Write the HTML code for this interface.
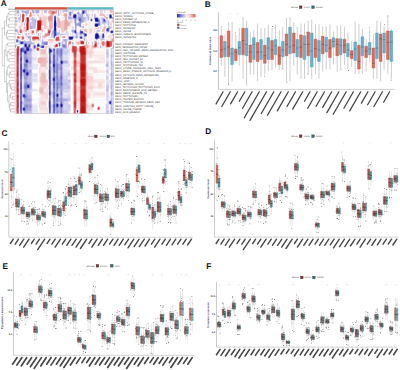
<!DOCTYPE html>
<html><head><meta charset="utf-8"><style>html,body{margin:0;padding:0;background:#fff;overflow:hidden}svg{display:block}</style></head>
<body><svg width="400" height="370" viewBox="0 0 400 370">
<rect width="400" height="370" fill="#fff"/><g opacity="0.99" text-rendering="geometricPrecision">
<g><rect x="15" y="10" width="98.4" height="103.5" fill="#fff"/>
<path fill="#dfdff2" d="M15 10h2v1h-2zM21 10h1v2h-1zM62 10h1v2h-1zM68 10h1v2h-1zM92 10h1v2h-1zM98 10h1v2h-1zM71 11h1v1h-1zM78 11h1v1h-1zM39 10h1v3h-1zM104 10h1v3h-1zM81 11h1v2h-1zM79 12h1v1h-1zM15 11h1v3h-1zM37 13h1v1h-1zM73 13h2v1h-2zM87 13h1v1h-1zM15 14h2v1h-2zM27 14h1v1h-1zM68 13h1v3h-1zM89 14h1v2h-1zM15 15h1v1h-1zM54 15h2v1h-2zM71 15h1v1h-1zM77 15h1v1h-1zM107 15h1v1h-1zM56 16h1v1h-1zM71 16h2v1h-2zM86 17h1v1h-1zM98 17h1v1h-1zM101 17h1v1h-1zM35 18h1v1h-1zM99 18h1v1h-1zM30 18h1v2h-1zM36 19h1v1h-1zM68 19h1v1h-1zM71 19h1v1h-1zM100 19h1v1h-1zM105 19h1v1h-1zM112 19h2v1h-2zM86 19h1v2h-1zM18 20h1v1h-1zM20 20h1v1h-1zM56 20h1v1h-1zM106 20h2v1h-2zM31 20h1v2h-1zM100 20h2v2h-2zM19 21h2v1h-2zM78 21h1v1h-1zM36 21h1v2h-1zM109 21h1v2h-1zM15 22h2v1h-2zM24 22h1v1h-1zM96 22h1v1h-1zM101 22h1v2h-1zM81 23h1v1h-1zM94 23h1v1h-1zM107 23h1v1h-1zM31 24h1v1h-1zM105 24h1v1h-1zM81 25h1v1h-1zM109 25h1v1h-1zM94 26h1v1h-1zM110 26h1v1h-1zM100 26h1v2h-1zM42 27h1v1h-1zM81 27h1v1h-1zM29 28h1v1h-1zM35 28h1v1h-1zM111 28h1v1h-1zM34 29h1v1h-1zM58 29h1v1h-1zM73 29h2v1h-2zM110 30h1v1h-1zM113 30h1v1h-1zM18 30h1v2h-1zM59 30h1v2h-1zM79 30h1v2h-1zM96 30h1v2h-1zM28 31h1v1h-1zM71 31h1v1h-1zM67 31h1v2h-1zM84 32h1v1h-1zM107 32h1v1h-1zM113 32h1v1h-1zM60 33h1v1h-1zM64 33h1v1h-1zM66 33h3v1h-3zM78 33h1v2h-1zM65 34h4v1h-4zM72 33h1v3h-1zM25 35h1v1h-1zM39 35h1v1h-1zM57 35h1v1h-1zM59 35h1v1h-1zM68 35h1v1h-1zM79 35h1v1h-1zM94 35h1v1h-1zM101 35h1v1h-1zM26 36h1v1h-1zM31 36h1v1h-1zM60 36h1v1h-1zM100 36h1v1h-1zM49 37h1v1h-1zM52 37h1v1h-1zM85 37h1v2h-1zM28 38h1v1h-1zM54 38h1v1h-1zM79 38h1v1h-1zM83 38h1v2h-1zM62 39h1v1h-1zM95 39h1v1h-1zM104 39h1v1h-1zM108 39h1v1h-1zM19 40h2v1h-2zM96 40h1v1h-1zM100 40h1v1h-1zM60 42h2v1h-2zM88 42h1v1h-1zM34 42h1v2h-1zM18 44h2v1h-2zM32 44h1v1h-1zM72 44h2v1h-2zM61 43h1v3h-1zM23 45h1v1h-1zM36 45h1v1h-1zM58 45h1v1h-1zM49 46h1v1h-1zM60 46h2v1h-2zM44 47h1v1h-1zM50 47h1v1h-1zM59 47h1v1h-1zM48 47h1v2h-1zM42 48h2v1h-2zM51 48h2v1h-2zM67 48h1v1h-1zM33 49h2v2h-2zM108 49h1v2h-1zM32 51h1v1h-1zM69 51h1v1h-1zM112 49h1v5h-1zM68 52h2v2h-2zM48 53h1v1h-1zM51 53h2v1h-2zM22 54h1v1h-1zM67 54h1v1h-1zM63 55h5v1h-5zM110 55h1v2h-1zM63 56h4v1h-4zM32 57h1v1h-1zM106 57h1v1h-1zM108 57h1v1h-1zM112 57h1v1h-1zM51 54h1v6h-1zM63 57h5v3h-5zM32 58h4v2h-4zM107 58h1v3h-1zM22 60h1v1h-1zM32 60h1v1h-1zM112 60h1v1h-1zM23 61h1v2h-1zM106 61h1v2h-1zM108 61h1v2h-1zM68 61h1v3h-1zM110 61h1v3h-1zM64 64h6v1h-6zM63 65h7v1h-7zM22 64h1v3h-1zM63 66h6v1h-6zM107 67h1v1h-1zM32 65h1v4h-1zM63 67h1v2h-1zM110 67h1v3h-1zM63 69h3v1h-3zM107 69h1v1h-1zM51 70h1v1h-1zM63 70h7v2h-7zM108 70h1v3h-1zM51 71h2v2h-2zM63 72h5v1h-5zM69 72h1v1h-1zM32 73h1v1h-1zM64 73h3v1h-3zM106 73h2v1h-2zM110 73h1v1h-1zM64 74h2v1h-2zM113 74h1v1h-1zM52 73h1v3h-1zM32 74h6v2h-6zM107 75h1v1h-1zM48 73h1v4h-1zM32 76h5v1h-5zM68 76h2v1h-2zM22 77h1v2h-1zM32 77h1v2h-1zM51 76h1v4h-1zM108 76h1v4h-1zM106 79h1v1h-1zM110 79h1v1h-1zM32 79h5v3h-5zM70 80h1v2h-1zM107 80h1v2h-1zM51 81h1v1h-1zM107 82h2v1h-2zM23 79h1v5h-1zM106 83h1v2h-1zM108 83h1v2h-1zM51 85h1v1h-1zM110 82h1v7h-1zM22 85h1v4h-1zM48 86h1v3h-1zM51 89h2v2h-2zM32 90h1v1h-1zM22 89h2v3h-2zM63 92h7v1h-7zM110 92h1v3h-1zM63 93h1v2h-1zM67 93h3v2h-3zM51 95h1v2h-1zM63 95h5v2h-5zM112 96h1v2h-1zM64 97h3v1h-3zM108 91h1v8h-1zM106 92h1v7h-1zM110 98h1v2h-1zM106 99h2v1h-2zM22 98h1v3h-1zM70 98h1v3h-1zM106 100h4v1h-4zM48 101h1v1h-1zM68 101h2v1h-2zM107 101h1v3h-1zM51 104h1v1h-1zM70 105h1v2h-1zM48 107h1v1h-1zM108 105h1v5h-1zM110 107h1v4h-1zM51 108h1v3h-1zM22 111h1v1h-1zM32 105h1v8.5h-1zM68 111h2v2.5h-2zM23 112h1v1.5h-1z"/>
<path fill="#bebee6" d="M17 10h2v1h-2zM27 10h1v1h-1zM64 10h1v1h-1zM44 10h2v2h-2zM66 11h1v1h-1zM22 12h2v1h-2zM44 12h1v1h-1zM71 12h1v1h-1zM77 12h1v1h-1zM25 13h1v1h-1zM27 13h1v1h-1zM26 14h1v1h-1zM76 14h1v1h-1zM78 14h3v1h-3zM86 14h1v1h-1zM111 14h1v1h-1zM58 15h1v1h-1zM78 15h2v1h-2zM86 15h2v1h-2zM94 14h1v3h-1zM20 15h1v2h-1zM69 16h2v1h-2zM78 16h1v1h-1zM88 16h1v1h-1zM32 17h1v1h-1zM71 17h2v1h-2zM83 17h2v1h-2zM113 17h1v1h-1zM18 18h2v1h-2zM31 18h1v1h-1zM91 18h1v1h-1zM76 19h1v1h-1zM84 19h1v1h-1zM88 19h1v1h-1zM99 19h1v1h-1zM92 19h1v2h-1zM78 20h1v1h-1zM74 20h1v2h-1zM102 18h1v5h-1zM32 19h3v4h-3zM105 22h1v1h-1zM104 23h1v1h-1zM24 23h1v2h-1zM33 23h3v2h-3zM108 23h1v2h-1zM94 24h1v2h-1zM33 25h2v1h-2zM76 26h1v1h-1zM79 26h1v1h-1zM83 26h1v1h-1zM32 26h3v2h-3zM82 27h2v1h-2zM32 28h1v1h-1zM15 29h2v1h-2zM53 29h1v1h-1zM98 30h1v1h-1zM17 30h1v2h-1zM76 31h1v1h-1zM106 31h1v1h-1zM113 31h1v1h-1zM18 33h1v1h-1zM57 33h1v1h-1zM59 33h1v1h-1zM86 33h1v1h-1zM102 33h1v1h-1zM52 32h1v3h-1zM26 33h1v2h-1zM38 33h1v2h-1zM18 34h3v1h-3zM57 34h6v1h-6zM76 34h1v1h-1zM30 36h1v1h-1zM40 36h1v1h-1zM68 36h1v1h-1zM104 36h1v1h-1zM77 36h1v2h-1zM53 37h1v1h-1zM79 37h1v1h-1zM29 38h1v1h-1zM82 38h1v1h-1zM84 38h1v1h-1zM103 38h1v2h-1zM66 39h1v1h-1zM42 40h1v1h-1zM63 40h1v1h-1zM25 41h1v1h-1zM28 41h2v1h-2zM45 41h2v1h-2zM17 42h1v1h-1zM19 42h1v1h-1zM72 42h1v1h-1zM62 42h1v2h-1zM32 43h1v1h-1zM66 41h1v4h-1zM21 44h1v1h-1zM27 44h1v1h-1zM42 44h1v1h-1zM47 44h1v1h-1zM60 43h1v3h-1zM40 45h1v1h-1zM113 45h1v1h-1zM59 46h1v1h-1zM15 47h1v1h-1zM30 47h1v1h-1zM40 47h1v1h-1zM62 47h1v1h-1zM100 47h1v1h-1zM55 49h1v2h-1zM52 50h1v2h-1zM31 51h1v1h-1zM107 51h1v4h-1zM30 54h1v1h-1zM111 54h1v1h-1zM28 55h3v1h-3zM29 56h2v1h-2zM58 57h2v1h-2zM111 57h1v1h-1zM55 54h1v6h-1zM62 55h1v5h-1zM111 60h1v2h-1zM52 61h1v2h-1zM67 61h1v2h-1zM31 57h1v7h-1zM58 63h2v1h-2zM63 63h1v1h-1zM106 64h1v2h-1zM28 64h3v3h-3zM107 66h1v1h-1zM28 67h1v1h-1zM23 68h1v1h-1zM111 66h1v4h-1zM28 69h3v1h-3zM59 70h1v1h-1zM62 65h1v8h-1zM58 71h2v2h-2zM22 72h1v1h-1zM111 72h1v1h-1zM55 73h1v1h-1zM23 73h1v2h-1zM58 73h1v2h-1zM31 70h1v6h-1zM112 73h1v3h-1zM55 75h1v1h-1zM58 75h2v1h-2zM29 76h2v1h-2zM52 78h1v1h-1zM28 77h3v3h-3zM27 80h4v1h-4zM52 80h1v1h-1zM68 80h2v2h-2zM28 81h3v1h-3zM111 80h1v5h-1zM63 83h4v2h-4zM63 85h1v1h-1zM68 86h1v1h-1zM31 83h1v5h-1zM68 87h2v1h-2zM28 89h3v1h-3zM111 89h1v1h-1zM107 86h1v5h-1zM58 89h1v2h-1zM55 86h1v6h-1zM27 90h1v2h-1zM111 91h1v1h-1zM27 92h3v2h-3zM52 93h1v1h-1zM112 92h1v3h-1zM28 94h3v1h-3zM62 91h1v5h-1zM111 95h1v1h-1zM55 96h1v2h-1zM62 97h1v1h-1zM31 98h1v1h-1zM63 98h5v1h-5zM111 98h1v2h-1zM67 99h2v1h-2zM31 100h1v1h-1zM67 100h1v1h-1zM59 101h1v1h-1zM22 102h1v1h-1zM31 104h1v1h-1zM22 107h1v1h-1zM31 108h1v3h-1zM27 111h4v1h-4zM55 111h1v2.5h-1zM63 111h1v2.5h-1zM107 111h1v2.5h-1zM27 112h2v1.5h-2z"/>
<path fill="#b2b2e2" d="M22 10h1v1h-1zM65 10h2v1h-2zM22 11h5v1h-5zM32 11h1v1h-1zM28 10h1v3h-1zM38 10h1v3h-1zM85 10h1v3h-1zM24 12h1v1h-1zM26 13h1v1h-1zM84 13h1v1h-1zM58 10h1v5h-1zM81 14h1v1h-1zM109 14h1v1h-1zM69 15h1v1h-1zM80 15h2v1h-2zM79 16h1v1h-1zM82 16h1v2h-1zM70 17h1v1h-1zM94 17h1v1h-1zM97 17h1v1h-1zM68 17h1v2h-1zM88 17h1v2h-1zM32 18h1v1h-1zM71 18h1v1h-1zM73 18h1v1h-1zM76 18h1v1h-1zM82 18h3v1h-3zM98 18h1v1h-1zM103 18h1v1h-1zM112 18h2v1h-2zM74 19h1v1h-1zM82 19h2v1h-2zM94 19h1v1h-1zM90 19h1v2h-1zM35 20h1v1h-1zM83 20h1v2h-1zM15 21h2v1h-2zM35 22h1v1h-1zM81 22h1v1h-1zM103 22h2v1h-2zM77 23h1v1h-1zM30 23h1v3h-1zM77 25h2v1h-2zM99 25h1v1h-1zM31 26h1v1h-1zM108 27h3v1h-3zM30 28h2v1h-2zM109 28h1v1h-1zM56 29h1v3h-1zM73 30h1v2h-1zM15 31h2v1h-2zM58 33h1v1h-1zM81 34h1v1h-1zM83 34h1v1h-1zM76 35h1v1h-1zM53 35h1v2h-1zM28 36h2v1h-2zM29 37h2v1h-2zM73 37h1v1h-1zM82 37h1v1h-1zM68 38h1v1h-1zM102 38h1v2h-1zM64 39h2v1h-2zM72 39h1v1h-1zM66 40h1v1h-1zM30 38h1v4h-1zM18 40h1v2h-1zM24 41h1v1h-1zM42 41h1v1h-1zM24 42h8v1h-8zM59 42h1v1h-1zM27 43h2v1h-2zM30 43h2v1h-2zM38 43h1v1h-1zM58 43h1v1h-1zM72 43h1v1h-1zM65 41h1v4h-1zM39 44h1v1h-1zM43 44h1v1h-1zM15 45h1v1h-1zM27 45h1v1h-1zM35 45h1v1h-1zM100 46h1v1h-1zM66 45h1v3h-1zM33 46h1v2h-1zM22 47h1v1h-1zM113 47h1v1h-1zM54 48h1v1h-1zM57 48h3v1h-3zM62 48h1v1h-1zM22 52h2v1h-2zM28 52h3v1h-3zM27 53h4v1h-4zM27 54h3v1h-3zM62 54h1v1h-1zM27 55h1v1h-1zM56 55h1v2h-1zM111 55h1v2h-1zM27 56h2v1h-2zM58 56h2v1h-2zM28 57h3v2h-3zM29 59h2v2h-2zM55 60h1v3h-1zM64 61h3v2h-3zM28 63h3v1h-3zM62 64h1v1h-1zM111 62h1v4h-1zM107 64h1v2h-1zM27 68h1v1h-1zM22 69h1v1h-1zM59 69h1v1h-1zM58 70h1v1h-1zM55 72h1v1h-1zM30 73h1v1h-1zM62 73h1v3h-1zM29 74h2v2h-2zM28 76h1v1h-1zM55 76h1v1h-1zM58 76h2v2h-2zM59 78h1v1h-1zM111 76h1v4h-1zM27 78h1v2h-1zM52 79h1v1h-1zM24 80h1v2h-1zM27 81h1v1h-1zM28 82h3v1h-3zM55 81h1v5h-1zM111 85h1v2h-1zM30 88h1v1h-1zM59 88h1v1h-1zM111 88h1v1h-1zM27 89h1v1h-1zM62 86h1v5h-1zM24 92h1v1h-1zM26 93h1v1h-1zM58 93h1v1h-1zM27 94h1v1h-1zM55 92h1v4h-1zM22 94h1v3h-1zM28 95h3v3h-3zM60 96h1v2h-1zM58 97h1v1h-1zM59 98h1v1h-1zM31 99h1v1h-1zM63 99h4v2h-4zM111 100h1v1h-1zM24 101h1v1h-1zM58 101h1v1h-1zM24 102h7v1h-7zM55 98h1v6h-1zM24 103h1v1h-1zM27 103h4v1h-4zM58 103h1v1h-1zM59 104h1v1h-1zM110 104h1v1h-1zM31 105h1v1h-1zM31 107h1v1h-1zM59 107h1v1h-1zM22 108h1v1h-1zM111 105h1v6h-1zM58 108h2v3h-2zM27 110h4v1h-4zM55 110h1v1h-1zM26 111h1v1h-1zM62 108h1v5.5h-1zM59 111h1v2.5h-1zM24 112h3v1.5h-3z"/>
<path fill="#d4d4ef" d="M23 10h1v1h-1zM26 10h1v1h-1zM31 10h1v1h-1zM72 10h1v1h-1zM69 11h2v1h-2zM34 11h1v2h-1zM46 12h1v1h-1zM63 12h1v1h-1zM68 12h1v1h-1zM16 11h1v3h-1zM18 13h1v1h-1zM28 13h1v1h-1zM33 13h1v1h-1zM85 13h1v1h-1zM71 14h1v1h-1zM77 14h1v1h-1zM83 14h1v1h-1zM95 14h1v1h-1zM88 14h1v2h-1zM77 16h1v1h-1zM83 16h1v1h-1zM86 16h1v1h-1zM33 17h1v1h-1zM34 18h1v1h-1zM87 18h1v2h-1zM101 18h1v2h-1zM35 19h1v1h-1zM69 19h2v1h-2zM73 19h1v1h-1zM77 19h1v1h-1zM19 20h1v1h-1zM25 20h1v1h-1zM36 20h1v1h-1zM108 20h1v1h-1zM17 20h1v2h-1zM76 20h1v2h-1zM84 20h2v2h-2zM56 21h1v1h-1zM25 22h1v1h-1zM78 22h1v1h-1zM83 22h1v1h-1zM97 22h1v1h-1zM100 22h1v1h-1zM106 22h2v1h-2zM31 23h1v1h-1zM105 23h1v1h-1zM104 24h1v1h-1zM24 25h1v1h-1zM31 25h1v1h-1zM29 23h1v5h-1zM56 27h1v1h-1zM33 28h2v1h-2zM17 29h1v1h-1zM72 29h1v1h-1zM76 29h1v1h-1zM71 30h1v1h-1zM99 30h1v2h-1zM109 31h1v1h-1zM17 32h2v1h-2zM57 32h1v1h-1zM97 32h1v1h-1zM25 33h1v1h-1zM65 33h1v1h-1zM74 33h1v1h-1zM111 33h1v1h-1zM77 33h1v2h-1zM64 34h1v1h-1zM104 34h1v1h-1zM51 33h1v3h-1zM26 35h1v1h-1zM60 35h1v1h-1zM75 35h1v1h-1zM80 35h2v1h-2zM83 35h1v1h-1zM51 36h2v1h-2zM79 36h1v1h-1zM82 36h1v1h-1zM94 36h1v2h-1zM50 37h2v1h-2zM104 37h1v1h-1zM76 38h1v1h-1zM100 37h1v3h-1zM29 39h1v2h-1zM67 39h1v2h-1zM62 40h1v1h-1zM101 40h1v1h-1zM31 41h1v1h-1zM63 41h1v1h-1zM18 42h1v1h-1zM33 42h1v1h-1zM58 42h1v1h-1zM73 42h1v1h-1zM98 42h1v1h-1zM37 43h1v1h-1zM88 43h1v1h-1zM41 42h1v3h-1zM31 44h1v1h-1zM58 44h1v1h-1zM23 46h1v1h-1zM44 46h1v1h-1zM21 47h1v1h-1zM49 47h1v1h-1zM61 47h1v1h-1zM112 47h1v2h-1zM32 49h1v2h-1zM64 49h6v2h-6zM106 49h1v3h-1zM68 51h1v1h-1zM48 49h1v4h-1zM52 52h1v1h-1zM67 53h1v1h-1zM23 53h1v2h-1zM63 54h4v1h-4zM112 54h1v1h-1zM108 51h1v6h-1zM106 54h1v3h-1zM107 57h1v1h-1zM22 55h1v4h-1zM52 54h1v6h-1zM22 59h2v1h-2zM59 58h1v3h-1zM23 60h1v1h-1zM51 60h1v1h-1zM67 60h1v1h-1zM107 61h1v2h-1zM112 61h1v3h-1zM23 63h1v1h-1zM51 63h1v1h-1zM106 63h1v1h-1zM108 63h1v2h-1zM63 64h1v1h-1zM108 66h1v1h-1zM22 67h1v2h-1zM31 68h1v1h-1zM51 67h1v3h-1zM52 70h1v1h-1zM112 67h1v6h-1zM48 70h1v3h-1zM106 70h1v3h-1zM68 72h1v1h-1zM67 73h1v1h-1zM63 73h1v2h-1zM66 74h2v1h-2zM110 74h1v2h-1zM63 75h5v2h-5zM22 76h1v1h-1zM52 76h1v1h-1zM106 76h2v1h-2zM23 77h1v2h-1zM48 77h1v2h-1zM64 77h4v2h-4zM106 77h1v2h-1zM67 79h3v1h-3zM107 79h1v1h-1zM51 80h1v1h-1zM110 80h1v2h-1zM51 82h2v1h-2zM51 83h1v2h-1zM68 83h2v2h-2zM107 83h1v2h-1zM112 82h1v4h-1zM23 84h1v2h-1zM52 85h1v1h-1zM106 85h1v1h-1zM108 85h1v1h-1zM108 88h1v3h-1zM112 88h1v4h-1zM63 89h7v3h-7zM51 91h2v1h-2zM106 91h1v1h-1zM22 92h2v1h-2zM22 93h1v1h-1zM31 90h1v5h-1zM112 95h1v1h-1zM68 95h2v2h-2zM52 95h1v3h-1zM22 97h1v1h-1zM63 97h1v1h-1zM67 97h3v1h-3zM107 92h1v7h-1zM23 98h1v4h-1zM108 101h1v1h-1zM64 102h4v2h-4zM52 104h1v1h-1zM64 104h6v1h-6zM106 104h4v1h-4zM106 105h1v1h-1zM48 102h1v5h-1zM22 105h1v2h-1zM51 105h1v2h-1zM64 105h4v2h-4zM112 98h1v10h-1zM51 107h2v1h-2zM63 107h5v1h-5zM106 107h1v1h-1zM64 108h4v1h-4zM69 108h1v1h-1zM106 108h2v2h-2zM64 109h6v1h-6zM52 108h1v3h-1zM68 110h2v1h-2zM76 110h1v1h-1zM106 110h1v1h-1zM108 110h1v1h-1zM23 111h1v1h-1zM51 111h2v1h-2zM110 111h1v2.5h-1zM51 112h1v1.5h-1z"/>
<path fill="#f1f1f9" d="M24 10h1v1h-1zM47 10h1v1h-1zM78 10h1v1h-1zM19 10h1v2h-1zM93 10h1v2h-1zM79 11h1v1h-1zM43 10h1v3h-1zM59 10h1v3h-1zM87 10h1v3h-1zM91 10h1v3h-1zM97 10h1v3h-1zM105 10h1v3h-1zM67 12h1v1h-1zM20 13h1v1h-1zM32 13h1v1h-1zM34 13h2v1h-2zM38 13h3v1h-3zM75 13h2v1h-2zM94 13h2v1h-2zM98 13h1v1h-1zM90 13h1v3h-1zM57 14h1v2h-1zM25 15h1v1h-1zM96 15h1v1h-1zM26 16h1v1h-1zM58 16h1v1h-1zM85 16h1v1h-1zM97 16h1v1h-1zM108 16h1v1h-1zM112 16h1v1h-1zM31 17h1v1h-1zM34 17h3v1h-3zM89 17h1v1h-1zM100 17h1v1h-1zM103 17h1v1h-1zM61 17h2v2h-2zM93 17h1v2h-1zM90 18h1v1h-1zM17 19h1v1h-1zM25 19h1v1h-1zM109 19h1v1h-1zM87 20h1v1h-1zM94 20h1v1h-1zM77 20h1v2h-1zM92 21h1v1h-1zM20 22h1v1h-1zM29 22h1v1h-1zM85 22h1v1h-1zM53 22h1v2h-1zM23 23h1v2h-1zM72 24h1v1h-1zM81 24h1v1h-1zM102 24h1v1h-1zM106 24h1v1h-1zM74 25h1v1h-1zM105 25h1v1h-1zM107 25h1v1h-1zM77 26h2v1h-2zM98 26h1v1h-1zM112 26h2v1h-2zM53 26h1v2h-1zM107 27h1v1h-1zM101 25h1v4h-1zM112 27h1v2h-1zM15 28h2v1h-2zM42 28h1v1h-1zM82 28h1v1h-1zM33 29h1v1h-1zM79 29h1v1h-1zM97 29h1v1h-1zM100 29h1v3h-1zM57 30h1v2h-1zM44 31h1v2h-1zM16 32h1v1h-1zM51 32h1v1h-1zM68 32h1v1h-1zM78 32h1v1h-1zM109 32h1v1h-1zM43 33h1v1h-1zM61 33h1v1h-1zM101 33h1v1h-1zM106 33h2v1h-2zM112 33h1v1h-1zM24 33h1v2h-1zM37 33h1v2h-1zM33 34h1v1h-1zM94 34h1v1h-1zM28 35h1v1h-1zM31 35h1v1h-1zM40 35h1v1h-1zM74 35h1v1h-1zM39 36h1v1h-1zM50 36h1v1h-1zM25 36h1v2h-1zM67 36h1v2h-1zM31 37h1v1h-1zM27 38h1v1h-1zM40 38h1v1h-1zM53 38h1v1h-1zM66 38h1v1h-1zM18 39h1v1h-1zM20 39h1v1h-1zM24 39h1v1h-1zM43 39h1v1h-1zM109 39h1v1h-1zM23 40h1v1h-1zM25 40h1v1h-1zM41 40h1v1h-1zM45 40h2v1h-2zM68 40h2v1h-2zM97 40h1v1h-1zM103 40h1v1h-1zM61 41h1v1h-1zM92 41h1v1h-1zM55 42h1v1h-1zM89 42h1v1h-1zM91 42h1v2h-1zM17 43h1v1h-1zM99 43h1v2h-1zM40 44h1v1h-1zM74 44h1v1h-1zM88 44h1v1h-1zM113 44h1v1h-1zM17 45h1v1h-1zM45 45h1v1h-1zM50 45h2v1h-2zM22 46h1v1h-1zM51 46h2v1h-2zM67 45h1v3h-1zM20 47h1v1h-1zM52 47h1v1h-1zM58 47h1v1h-1zM32 48h1v1h-1zM68 48h1v1h-1zM106 48h1v1h-1zM108 48h1v1h-1zM70 48h1v2h-1zM35 50h1v1h-1zM110 48h1v6h-1zM33 52h5v3h-5zM32 55h5v1h-5zM113 55h1v1h-1zM33 56h4v1h-4zM48 55h1v3h-1zM36 57h1v1h-1zM69 56h1v4h-1zM36 60h1v1h-1zM48 60h1v3h-1zM33 61h3v2h-3zM109 61h1v2h-1zM33 63h4v1h-4zM113 63h1v1h-1zM70 64h1v2h-1zM51 65h1v1h-1zM105 64h1v3h-1zM69 67h1v1h-1zM109 67h1v1h-1zM48 67h1v2h-1zM68 68h2v1h-2zM33 69h5v1h-5zM69 69h1v1h-1zM109 69h1v1h-1zM32 70h1v1h-1zM113 67h1v6h-1zM110 70h1v3h-1zM32 72h1v1h-1zM109 74h1v2h-1zM70 70h1v9h-1zM113 77h1v2h-1zM33 82h5v1h-5zM48 82h1v3h-1zM113 82h1v3h-1zM32 83h1v3h-1zM109 83h1v6h-1zM51 86h1v3h-1zM32 88h1v1h-1zM110 89h1v2h-1zM33 91h5v1h-5zM70 90h1v5h-1zM113 90h1v5h-1zM48 95h1v1h-1zM48 97h1v1h-1zM32 98h1v1h-1zM109 96h1v4h-1zM113 98h1v3h-1zM105 99h1v2h-1zM32 100h1v1h-1zM70 101h1v1h-1zM51 98h1v6h-1zM69 102h1v2h-1zM33 104h4v1h-4zM70 104h1v1h-1zM113 108h1v1h-1zM37 109h1v1h-1zM48 109h1v1h-1zM109 108h1v3h-1zM105 105h1v7h-1zM76 112h1v1h-1zM70 110h1v3.5h-1zM113 111h1v2.5h-1z"/>
<path fill="#e8e8f6" d="M25 10h1v1h-1zM29 10h1v1h-1zM34 10h1v1h-1zM81 10h1v1h-1zM73 10h1v3h-1zM21 12h1v1h-1zM62 12h1v1h-1zM92 12h1v1h-1zM98 12h1v1h-1zM19 12h1v2h-1zM44 13h3v1h-3zM72 13h1v1h-1zM80 13h1v1h-1zM25 14h1v1h-1zM106 14h3v1h-3zM59 13h1v3h-1zM40 14h1v2h-1zM16 15h1v1h-1zM27 15h1v1h-1zM83 15h1v1h-1zM106 15h1v1h-1zM108 15h1v1h-1zM19 16h1v1h-1zM89 16h1v1h-1zM96 16h1v1h-1zM99 17h1v1h-1zM63 17h1v2h-1zM36 18h1v1h-1zM86 18h1v1h-1zM92 18h1v1h-1zM100 18h1v1h-1zM56 17h1v3h-1zM89 18h1v2h-1zM72 19h1v1h-1zM88 20h1v1h-1zM109 20h1v1h-1zM18 21h1v1h-1zM86 21h1v1h-1zM90 21h1v1h-1zM17 22h3v1h-3zM77 22h1v1h-1zM84 22h1v1h-1zM95 22h1v1h-1zM36 23h1v1h-1zM106 23h1v1h-1zM74 23h1v2h-1zM109 23h1v2h-1zM101 24h1v1h-1zM103 24h1v1h-1zM107 24h1v1h-1zM53 24h1v2h-1zM113 24h1v2h-1zM104 25h1v1h-1zM111 26h1v1h-1zM80 27h1v1h-1zM53 28h1v1h-1zM100 28h1v1h-1zM18 29h1v1h-1zM59 29h1v1h-1zM71 29h1v1h-1zM98 29h2v1h-2zM58 30h1v2h-1zM40 31h1v1h-1zM83 31h1v1h-1zM65 32h1v1h-1zM77 32h1v1h-1zM106 32h1v1h-1zM108 32h1v1h-1zM19 33h1v1h-1zM34 33h1v1h-1zM62 33h2v1h-2zM110 33h1v1h-1zM17 33h1v2h-1zM75 34h1v1h-1zM101 34h1v1h-1zM73 33h1v3h-1zM27 35h1v1h-1zM29 35h2v1h-2zM37 35h1v1h-1zM58 35h1v1h-1zM61 35h1v1h-1zM67 35h1v1h-1zM82 35h1v1h-1zM100 35h1v1h-1zM78 35h1v3h-1zM15 36h1v2h-1zM74 36h1v2h-1zM83 36h1v2h-1zM26 37h1v1h-1zM48 37h1v1h-1zM60 37h1v1h-1zM67 38h1v1h-1zM75 38h1v1h-1zM77 38h1v1h-1zM94 38h1v1h-1zM104 38h1v1h-1zM85 39h1v2h-1zM43 40h1v1h-1zM70 40h1v1h-1zM102 40h1v1h-1zM104 40h1v1h-1zM41 41h1v1h-1zM67 41h1v1h-1zM38 42h1v1h-1zM54 42h1v2h-1zM63 42h2v2h-2zM93 42h1v2h-1zM18 43h1v1h-1zM39 43h1v1h-1zM89 43h1v1h-1zM15 44h3v1h-3zM92 44h1v1h-1zM98 44h1v1h-1zM48 45h2v1h-2zM16 46h1v1h-1zM36 46h1v1h-1zM48 46h1v1h-1zM50 46h1v1h-1zM70 46h1v2h-1zM101 46h1v2h-1zM39 47h1v1h-1zM51 47h1v1h-1zM60 47h1v1h-1zM55 48h1v1h-1zM69 48h1v1h-1zM107 48h1v1h-1zM113 48h1v1h-1zM35 49h1v1h-1zM33 51h3v1h-3zM22 53h1v1h-1zM32 52h1v3h-1zM48 54h1v1h-1zM110 54h1v1h-1zM68 54h2v2h-2zM32 56h1v1h-1zM67 56h2v1h-2zM33 57h3v1h-3zM68 57h1v3h-1zM36 58h1v2h-1zM48 58h1v2h-1zM112 58h1v2h-1zM110 57h1v4h-1zM106 58h1v3h-1zM108 58h1v3h-1zM33 60h3v1h-3zM68 60h2v1h-2zM22 61h1v3h-1zM32 61h1v3h-1zM69 61h1v3h-1zM32 64h6v1h-6zM51 64h1v1h-1zM48 63h1v4h-1zM110 64h1v3h-1zM113 64h1v3h-1zM51 66h1v1h-1zM69 66h1v1h-1zM64 67h5v1h-5zM106 67h1v1h-1zM108 67h1v1h-1zM33 65h5v4h-5zM64 68h4v1h-4zM106 68h4v1h-4zM32 69h1v1h-1zM48 69h1v1h-1zM66 69h3v1h-3zM106 69h1v1h-1zM108 69h1v1h-1zM33 73h5v1h-5zM108 73h1v1h-1zM113 73h1v1h-1zM106 74h3v1h-3zM51 73h1v3h-1zM106 75h1v1h-1zM108 75h1v1h-1zM113 75h1v2h-1zM37 76h1v1h-1zM110 76h1v3h-1zM33 77h5v2h-5zM68 77h2v2h-2zM70 79h1v1h-1zM37 79h1v3h-1zM48 79h1v3h-1zM113 79h1v3h-1zM108 80h2v2h-2zM106 80h1v3h-1zM32 82h1v1h-1zM109 82h1v1h-1zM22 79h1v6h-1zM48 85h1v1h-1zM52 86h1v3h-1zM70 82h1v8h-1zM32 89h6v1h-6zM33 90h5v1h-5zM32 91h1v1h-1zM110 91h1v1h-1zM48 89h1v6h-1zM64 93h3v2h-3zM70 95h1v3h-1zM110 95h1v3h-1zM51 97h1v1h-1zM32 99h1v1h-1zM108 99h1v1h-1zM48 98h1v3h-1zM52 98h1v6h-1zM106 101h1v3h-1zM113 101h1v3h-1zM68 102h1v2h-1zM32 104h1v1h-1zM110 105h1v2h-1zM33 105h5v4h-5zM48 108h1v1h-1zM70 107h1v3h-1zM33 109h4v1h-4zM77 109h1v1h-1zM113 109h1v2h-1zM78 112h1v1h-1zM33 110h5v3.5h-5zM48 110h1v3.5h-1zM109 111h1v2.5h-1zM22 112h1v1.5h-1zM105 112h1v1.5h-1z"/>
<path fill="#a6a6dd" d="M32 10h1v1h-1zM27 11h1v1h-1zM36 10h2v3h-2zM17 11h2v2h-2zM33 11h1v2h-1zM25 12h3v1h-3zM69 12h1v1h-1zM78 12h1v1h-1zM77 13h1v1h-1zM82 15h1v1h-1zM80 16h2v1h-2zM69 17h1v1h-1zM78 17h1v1h-1zM81 17h1v1h-1zM96 17h1v1h-1zM112 17h1v1h-1zM69 18h2v1h-2zM110 18h2v1h-2zM78 19h1v1h-1zM105 20h1v1h-1zM82 20h1v2h-1zM35 21h1v1h-1zM79 22h1v1h-1zM76 23h1v1h-1zM78 23h1v1h-1zM77 24h1v1h-1zM56 23h1v3h-1zM76 25h1v1h-1zM30 26h1v1h-1zM30 27h2v1h-2zM75 26h1v3h-1zM15 30h2v1h-2zM111 30h1v1h-1zM72 30h1v2h-1zM83 32h1v1h-1zM76 33h1v1h-1zM95 33h1v1h-1zM103 33h1v1h-1zM53 30h1v5h-1zM80 34h1v1h-1zM56 35h1v1h-1zM70 36h1v1h-1zM84 36h1v1h-1zM76 36h1v2h-1zM99 36h1v2h-1zM28 37h1v1h-1zM68 37h1v1h-1zM84 39h1v1h-1zM96 39h1v1h-1zM64 40h2v1h-2zM23 41h1v1h-1zM42 42h2v1h-2zM47 42h1v2h-1zM29 43h1v1h-1zM62 44h3v1h-3zM41 45h1v1h-1zM30 46h1v1h-1zM40 46h1v1h-1zM62 46h1v1h-1zM113 46h1v1h-1zM23 47h1v1h-1zM63 47h1v1h-1zM65 47h1v1h-1zM30 48h1v1h-1zM53 48h1v1h-1zM60 48h1v1h-1zM31 49h1v2h-1zM56 49h1v2h-1zM59 49h1v2h-1zM29 51h2v1h-2zM27 52h1v1h-1zM51 52h1v1h-1zM62 49h1v5h-1zM56 54h1v1h-1zM58 54h2v2h-2zM24 55h1v2h-1zM27 57h1v1h-1zM60 57h1v3h-1zM28 59h1v1h-1zM56 57h1v4h-1zM24 61h1v2h-1zM29 61h2v2h-2zM56 61h2v2h-2zM63 61h1v2h-1zM55 63h1v1h-1zM58 64h2v1h-2zM59 65h1v1h-1zM27 66h1v2h-1zM58 66h2v3h-2zM27 69h1v1h-1zM58 69h1v1h-1zM28 70h3v1h-3zM55 67h1v5h-1zM22 71h1v1h-1zM60 71h1v1h-1zM30 72h1v1h-1zM29 73h1v1h-1zM111 73h1v3h-1zM27 76h1v2h-1zM58 78h1v1h-1zM24 79h3v1h-3zM58 79h2v1h-2zM55 77h1v4h-1zM25 80h2v2h-2zM62 76h1v7h-1zM24 82h1v1h-1zM27 82h1v1h-1zM28 83h3v1h-3zM62 85h1v1h-1zM59 80h1v8h-1zM30 84h1v4h-1zM111 87h1v1h-1zM29 88h1v1h-1zM58 88h1v1h-1zM24 89h1v1h-1zM24 90h3v2h-3zM56 91h1v1h-1zM60 89h1v4h-1zM25 92h2v1h-2zM56 92h2v1h-2zM111 92h1v1h-1zM24 93h2v1h-2zM26 94h1v1h-1zM111 94h1v1h-1zM60 94h1v2h-1zM27 95h1v3h-1zM28 98h3v1h-3zM58 98h1v1h-1zM24 99h1v1h-1zM58 99h2v2h-2zM24 100h3v1h-3zM25 101h6v1h-6zM62 98h1v5h-1zM56 102h2v1h-2zM25 103h2v1h-2zM24 104h1v1h-1zM28 104h3v1h-3zM111 104h1v1h-1zM59 105h1v2h-1zM31 106h1v1h-1zM58 107h1v1h-1zM62 107h1v1h-1zM55 107h1v2h-1zM27 108h4v2h-4zM22 109h1v1h-1zM55 109h2v1h-2zM26 110h1v1h-1zM24 111h2v1h-2zM56 110h1v3.5h-1zM58 111h1v2.5h-1zM111 111h1v2.5h-1z"/>
<path fill="#c9c9eb" d="M33 10h1v1h-1zM63 10h1v1h-1zM46 10h1v2h-1zM67 10h1v2h-1zM63 11h3v1h-3zM35 10h1v3h-1zM72 11h1v2h-1zM32 12h1v1h-1zM45 12h1v1h-1zM86 10h1v4h-1zM17 13h1v1h-1zM36 13h1v1h-1zM71 13h1v1h-1zM79 13h1v1h-1zM81 13h1v1h-1zM20 14h1v1h-1zM87 14h1v1h-1zM26 15h1v1h-1zM95 15h1v2h-1zM68 16h1v1h-1zM87 16h1v2h-1zM18 17h3v1h-3zM102 17h1v1h-1zM77 17h1v2h-1zM20 18h1v1h-1zM33 18h1v1h-1zM72 18h1v1h-1zM104 18h1v1h-1zM109 18h1v1h-1zM85 17h1v3h-1zM18 19h3v1h-3zM31 19h1v1h-1zM15 20h2v1h-2zM25 21h1v1h-1zM91 21h1v1h-1zM106 21h3v1h-3zM30 22h2v1h-2zM56 22h1v1h-1zM74 22h1v1h-1zM76 22h1v1h-1zM82 22h1v1h-1zM108 22h1v1h-1zM102 23h2v1h-2zM32 23h1v3h-1zM100 23h1v3h-1zM108 25h1v1h-1zM56 26h1v1h-1zM81 26h2v1h-2zM108 26h2v1h-2zM35 25h1v3h-1zM111 27h1v1h-1zM76 27h1v2h-1zM56 28h1v1h-1zM106 28h1v1h-1zM110 28h1v1h-1zM80 29h1v1h-1zM109 29h1v2h-1zM76 30h1v1h-1zM81 30h1v1h-1zM97 30h1v1h-1zM52 30h1v2h-1zM97 31h2v1h-2zM66 31h1v2h-1zM58 32h2v1h-2zM72 32h2v1h-2zM96 32h1v1h-1zM98 33h1v1h-1zM79 32h1v3h-1zM25 34h1v1h-1zM34 34h1v1h-1zM63 34h1v1h-1zM82 34h1v1h-1zM38 35h1v1h-1zM52 35h1v1h-1zM77 35h1v1h-1zM99 35h1v1h-1zM104 35h1v1h-1zM55 36h1v1h-1zM73 36h1v1h-1zM86 36h1v1h-1zM27 36h1v2h-1zM75 36h1v2h-1zM40 37h1v1h-1zM84 37h1v1h-1zM73 38h1v1h-1zM99 38h1v1h-1zM101 36h1v4h-1zM42 39h1v1h-1zM63 39h1v1h-1zM68 39h1v1h-1zM97 39h1v1h-1zM24 40h1v1h-1zM84 40h1v1h-1zM19 41h1v1h-1zM26 41h2v1h-2zM43 41h2v1h-2zM47 41h1v1h-1zM62 41h1v1h-1zM64 41h1v1h-1zM16 42h1v1h-1zM32 42h1v1h-1zM92 42h1v2h-1zM19 43h1v1h-1zM33 43h1v1h-1zM73 43h1v1h-1zM98 43h1v1h-1zM20 44h1v1h-1zM22 44h2v1h-2zM33 44h2v1h-2zM16 45h1v1h-1zM33 45h1v1h-1zM44 45h1v1h-1zM100 45h1v1h-1zM31 48h1v1h-1zM33 48h1v1h-1zM35 48h1v1h-1zM56 48h1v1h-1zM63 48h4v1h-4zM52 49h1v1h-1zM63 49h1v2h-1zM107 49h1v2h-1zM63 51h5v2h-5zM111 48h1v6h-1zM55 51h1v3h-1zM106 52h1v2h-1zM63 53h4v1h-4zM31 52h1v5h-1zM107 55h1v2h-1zM112 55h1v2h-1zM23 55h1v4h-1zM111 58h1v2h-1zM58 58h1v3h-1zM52 60h1v1h-1zM63 60h4v1h-4zM51 61h1v2h-1zM58 61h2v2h-2zM64 63h4v1h-4zM107 63h1v1h-1zM108 65h1v1h-1zM31 64h1v3h-1zM112 64h1v3h-1zM106 66h1v1h-1zM23 64h1v4h-1zM29 67h3v1h-3zM28 68h3v1h-3zM52 63h1v7h-1zM31 69h1v1h-1zM111 70h1v2h-1zM107 70h1v3h-1zM22 73h1v2h-1zM59 73h1v2h-1zM55 74h1v1h-1zM68 73h2v3h-2zM22 75h2v1h-2zM23 76h1v1h-1zM52 77h1v1h-1zM63 77h1v2h-1zM107 77h1v2h-1zM63 79h4v1h-4zM112 76h1v6h-1zM63 80h5v2h-5zM52 81h1v1h-1zM31 76h1v7h-1zM63 82h7v1h-7zM52 83h1v2h-1zM67 83h1v2h-1zM64 85h6v1h-6zM107 85h1v1h-1zM69 86h1v1h-1zM63 86h5v2h-5zM108 86h1v2h-1zM112 86h1v2h-1zM23 86h1v3h-1zM63 88h7v1h-7zM31 88h1v2h-1zM106 86h1v5h-1zM59 89h1v2h-1zM111 90h1v1h-1zM28 90h3v2h-3zM107 91h1v1h-1zM58 91h2v2h-2zM51 92h2v1h-2zM30 92h1v2h-1zM23 93h1v1h-1zM51 93h1v1h-1zM51 94h2v1h-2zM62 96h1v1h-1zM59 93h1v5h-1zM31 95h1v3h-1zM111 96h1v2h-1zM68 98h2v1h-2zM69 99h1v1h-1zM68 100h2v1h-2zM110 100h1v1h-1zM22 101h1v1h-1zM63 101h5v1h-5zM23 102h1v1h-1zM58 102h2v1h-2zM31 101h1v3h-1zM108 102h1v2h-1zM59 103h1v1h-1zM22 103h2v2h-2zM107 105h1v1h-1zM63 102h1v5h-1zM23 105h1v2h-1zM52 105h1v2h-1zM106 106h2v1h-2zM68 105h2v3h-2zM107 107h1v1h-1zM68 108h1v1h-1zM63 108h1v2h-1zM22 110h1v1h-1zM63 110h5v1h-5zM107 110h1v1h-1zM78 110h1v2h-1zM31 111h1v1h-1zM76 111h1v1h-1zM112 108h1v5.5h-1zM64 111h4v2.5h-4zM106 111h1v2.5h-1zM108 111h1v2.5h-1zM29 112h3v1.5h-3zM52 112h1v1.5h-1z"/>
<path fill="#f9e8e8" d="M48 10h1v1h-1zM54 10h1v1h-1zM76 10h1v1h-1zM41 10h1v3h-1zM88 10h1v3h-1zM29 12h1v1h-1zM61 12h1v2h-1zM103 13h1v1h-1zM111 13h1v1h-1zM33 14h1v1h-1zM43 14h1v1h-1zM49 14h1v1h-1zM56 14h1v1h-1zM60 14h1v2h-1zM62 14h1v2h-1zM67 14h1v2h-1zM35 15h1v1h-1zM43 15h3v1h-3zM105 15h1v1h-1zM112 15h1v1h-1zM28 16h1v1h-1zM37 16h1v1h-1zM39 16h1v1h-1zM41 16h1v1h-1zM47 16h1v1h-1zM91 16h1v1h-1zM100 16h1v1h-1zM103 16h1v1h-1zM59 17h1v1h-1zM64 17h1v1h-1zM38 19h1v1h-1zM47 19h1v1h-1zM72 20h1v1h-1zM111 20h1v1h-1zM46 20h1v3h-1zM23 22h1v1h-1zM72 22h1v1h-1zM110 22h1v1h-1zM85 23h1v1h-1zM17 24h1v1h-1zM20 24h1v1h-1zM82 24h1v1h-1zM87 24h1v1h-1zM70 25h1v1h-1zM23 26h1v1h-1zM43 26h1v1h-1zM48 26h1v1h-1zM68 26h1v1h-1zM72 26h1v1h-1zM103 26h1v1h-1zM47 27h2v1h-2zM71 27h1v1h-1zM74 27h1v1h-1zM99 27h1v1h-1zM106 27h1v1h-1zM21 26h1v3h-1zM72 28h1v1h-1zM85 28h1v1h-1zM89 28h1v1h-1zM91 28h1v1h-1zM94 28h1v1h-1zM67 29h1v1h-1zM43 28h1v3h-1zM28 30h1v1h-1zM101 30h1v1h-1zM87 30h1v2h-1zM34 31h1v1h-1zM41 31h1v1h-1zM29 32h1v1h-1zM41 32h2v1h-2zM103 32h1v1h-1zM30 33h1v1h-1zM41 33h1v1h-1zM50 33h1v1h-1zM89 33h3v1h-3zM105 33h1v1h-1zM16 33h1v2h-1zM22 34h1v1h-1zM110 34h1v1h-1zM64 35h1v1h-1zM108 35h3v1h-3zM43 38h1v1h-1zM45 38h1v1h-1zM62 38h2v1h-2zM110 38h1v1h-1zM26 39h2v1h-2zM47 39h1v1h-1zM36 40h1v1h-1zM54 40h1v1h-1zM76 40h4v1h-4zM87 40h1v1h-1zM98 40h1v1h-1zM34 41h3v1h-3zM39 41h2v1h-2zM53 41h1v1h-1zM58 41h1v1h-1zM105 41h1v1h-1zM71 42h1v2h-1zM87 42h1v2h-1zM97 42h1v2h-1zM49 43h1v1h-1zM52 43h1v1h-1zM57 43h1v1h-1zM76 44h1v1h-1zM80 44h1v1h-1zM84 44h2v1h-2zM32 45h1v1h-1zM69 45h1v1h-1zM81 45h1v1h-1zM53 45h1v2h-1zM71 46h1v1h-1zM105 46h1v1h-1zM90 45h1v3h-1zM47 46h1v2h-1zM32 47h1v1h-1zM57 47h1v1h-1zM97 47h1v1h-1zM102 47h1v1h-1zM94 48h2v1h-2zM46 49h1v2h-1zM78 51h1v1h-1zM19 52h1v1h-1zM15 51h1v3h-1zM39 51h1v3h-1zM71 53h1v1h-1zM93 51h1v4h-1zM47 54h1v1h-1zM72 54h1v1h-1zM77 54h2v1h-2zM19 54h1v3h-1zM40 55h1v2h-1zM92 55h1v2h-1zM94 55h11v2h-11zM88 55h1v3h-1zM77 57h2v1h-2zM100 57h5v1h-5zM100 58h4v1h-4zM100 59h5v1h-5zM37 58h1v3h-1zM94 60h11v1h-11zM101 61h3v1h-3zM101 62h4v1h-4zM72 61h1v3h-1zM38 63h1v1h-1zM47 63h1v1h-1zM87 63h7v1h-7zM72 66h1v1h-1zM15 67h1v1h-1zM42 67h3v1h-3zM71 67h1v1h-1zM77 67h2v1h-2zM93 67h3v1h-3zM87 64h1v5h-1zM41 68h5v1h-5zM77 68h1v1h-1zM15 69h1v1h-1zM41 69h7v1h-7zM71 69h2v1h-2zM77 69h2v1h-2zM87 69h6v1h-6zM41 70h5v1h-5zM97 70h8v1h-8zM45 71h1v1h-1zM98 71h7v1h-7zM87 70h1v3h-1zM93 70h1v3h-1zM97 72h8v1h-8zM46 73h1v1h-1zM72 73h1v1h-1zM88 73h4v1h-4zM47 74h1v1h-1zM78 74h1v1h-1zM88 74h5v1h-5zM39 73h1v3h-1zM71 74h1v2h-1zM89 75h4v1h-4zM15 74h1v5h-1zM46 76h1v3h-1zM93 77h1v2h-1zM47 79h1v1h-1zM93 79h11v1h-11zM95 80h10v1h-10zM39 80h1v2h-1zM104 81h1v1h-1zM19 80h1v3h-1zM78 82h1v1h-1zM93 82h5v1h-5zM102 82h3v1h-3zM93 83h1v1h-1zM92 84h2v1h-2zM102 83h1v3h-1zM77 85h2v1h-2zM93 85h1v1h-1zM15 83h1v4h-1zM47 86h1v1h-1zM103 86h2v1h-2zM94 86h4v2h-4zM102 87h3v1h-3zM47 88h1v1h-1zM93 88h1v1h-1zM98 88h5v1h-5zM44 89h2v1h-2zM92 89h1v1h-1zM44 90h3v1h-3zM19 89h1v3h-1zM88 90h5v2h-5zM44 91h2v1h-2zM15 92h1v1h-1zM78 92h1v1h-1zM93 92h12v1h-12zM39 93h1v1h-1zM77 93h2v2h-2zM93 93h1v2h-1zM78 95h1v1h-1zM94 95h11v1h-11zM90 92h1v6h-1zM40 94h1v4h-1zM15 95h1v3h-1zM39 98h2v1h-2zM47 99h1v2h-1zM78 101h1v1h-1zM39 99h1v5h-1zM87 99h1v5h-1zM77 102h1v2h-1zM91 103h1v1h-1zM88 104h3v1h-3zM46 101h1v6h-1zM99 106h1v1h-1zM46 107h2v1h-2zM93 107h1v1h-1zM15 108h1v2h-1zM39 108h1v2h-1zM76 109h1v1h-1zM92 109h1v1h-1zM40 110h6v1h-6zM87 110h4v1h-4zM41 111h7v2.5h-7zM87 111h1v2.5h-1z"/>
<path fill="#f1c9c9" d="M49 10h1v1h-1zM30 11h1v1h-1zM48 11h1v1h-1zM60 10h1v3h-1zM31 12h1v1h-1zM110 12h1v1h-1zM23 13h1v1h-1zM56 13h1v1h-1zM100 13h2v1h-2zM113 13h1v1h-1zM18 14h1v1h-1zM29 14h1v1h-1zM38 14h1v1h-1zM104 14h1v1h-1zM92 14h1v2h-1zM63 15h1v1h-1zM102 15h1v1h-1zM64 16h1v1h-1zM57 17h1v1h-1zM39 17h1v2h-1zM41 17h1v2h-1zM44 17h2v2h-2zM63 20h1v1h-1zM113 20h1v1h-1zM48 21h1v1h-1zM60 21h1v1h-1zM62 21h2v1h-2zM68 21h4v1h-4zM70 22h1v1h-1zM57 22h1v2h-1zM43 19h3v6h-3zM16 24h1v1h-1zM86 24h1v1h-1zM110 24h1v1h-1zM15 25h1v1h-1zM69 25h1v1h-1zM61 22h3v5h-3zM20 26h1v1h-1zM67 26h1v1h-1zM44 25h2v3h-2zM57 25h1v3h-1zM19 27h1v1h-1zM60 27h4v1h-4zM73 27h1v1h-1zM98 27h1v1h-1zM25 28h1v1h-1zM41 28h1v1h-1zM52 28h1v1h-1zM61 28h3v1h-3zM96 28h3v1h-3zM105 28h1v1h-1zM82 29h2v1h-2zM85 29h1v1h-1zM102 29h1v1h-1zM24 29h1v2h-1zM31 30h1v1h-1zM40 30h1v1h-1zM65 30h1v1h-1zM84 30h1v1h-1zM62 29h2v3h-2zM90 30h1v2h-1zM104 30h1v2h-1zM22 31h1v1h-1zM25 31h2v1h-2zM47 32h1v1h-1zM31 33h1v1h-1zM36 33h1v1h-1zM40 33h1v1h-1zM45 33h1v1h-1zM112 35h1v1h-1zM38 36h1v1h-1zM42 36h1v2h-1zM65 36h1v2h-1zM17 38h1v1h-1zM21 38h1v1h-1zM55 38h1v1h-1zM59 38h1v1h-1zM112 38h1v1h-1zM23 39h1v1h-1zM48 39h5v1h-5zM111 39h1v1h-1zM32 40h1v1h-1zM39 40h1v1h-1zM49 40h4v1h-4zM80 40h1v1h-1zM106 40h1v1h-1zM110 40h1v1h-1zM56 41h1v1h-1zM86 41h1v1h-1zM113 41h1v1h-1zM76 42h1v2h-1zM79 42h1v2h-1zM112 42h1v2h-1zM70 44h1v1h-1zM81 44h2v1h-2zM68 45h1v1h-1zM83 45h1v1h-1zM92 45h1v1h-1zM19 46h1v1h-1zM88 46h1v2h-1zM54 47h1v1h-1zM106 47h1v1h-1zM45 47h1v2h-1zM39 49h1v1h-1zM41 49h5v1h-5zM78 49h1v1h-1zM19 48h1v3h-1zM36 50h1v1h-1zM45 50h1v1h-1zM77 50h2v1h-2zM71 49h1v3h-1zM45 53h1v1h-1zM86 54h1v1h-1zM79 55h1v2h-1zM40 57h6v1h-6zM73 58h1v2h-1zM79 60h1v1h-1zM46 58h1v5h-1zM77 61h2v3h-2zM40 63h1v1h-1zM86 63h1v1h-1zM41 66h5v1h-5zM79 67h1v1h-1zM86 67h1v1h-1zM79 69h1v1h-1zM86 69h1v1h-1zM73 71h1v1h-1zM41 73h1v4h-1zM79 73h1v4h-1zM40 77h1v1h-1zM45 74h1v5h-1zM87 77h1v2h-1zM40 78h2v1h-2zM40 79h1v3h-1zM46 80h1v2h-1zM41 82h1v1h-1zM45 82h2v1h-2zM79 82h1v1h-1zM41 83h5v1h-5zM42 84h3v1h-3zM79 86h1v1h-1zM40 87h4v1h-4zM43 88h1v1h-1zM86 86h1v6h-1zM39 89h1v3h-1zM79 91h1v1h-1zM43 92h1v1h-1zM41 93h2v1h-2zM86 96h1v1h-1zM79 95h1v3h-1zM79 101h1v1h-1zM41 102h4v1h-4zM42 103h3v1h-3zM91 104h1v1h-1zM86 108h1v2h-1zM97 109h1v1h-1zM73 111h1v2.5h-1z"/>
<path fill="#e8a6a6" d="M50 10h1v1h-1zM56 10h1v1h-1zM55 11h2v1h-2zM49 11h2v2h-2zM56 12h1v1h-1zM50 13h1v1h-1zM31 14h1v2h-1zM64 14h3v2h-3zM51 15h2v1h-2zM52 16h1v1h-1zM65 16h2v1h-2zM26 17h1v1h-1zM65 17h1v2h-1zM106 17h1v2h-1zM15 18h1v1h-1zM40 18h1v1h-1zM48 17h1v3h-1zM50 20h2v1h-2zM26 20h1v2h-1zM65 19h2v4h-2zM65 23h4v1h-4zM65 24h3v1h-3zM65 25h2v4h-2zM49 29h1v1h-1zM65 29h1v1h-1zM32 30h1v1h-1zM36 30h1v1h-1zM39 30h1v1h-1zM32 33h1v1h-1zM47 33h1v1h-1zM113 34h1v1h-1zM49 35h1v1h-1zM17 36h1v1h-1zM22 36h2v1h-2zM63 36h2v2h-2zM19 37h1v1h-1zM36 39h2v1h-2zM59 39h1v1h-1zM112 39h2v1h-2zM102 41h1v1h-1zM112 41h1v1h-1zM68 42h1v2h-1zM78 42h1v2h-1zM55 44h1v1h-1zM104 44h1v1h-1zM84 45h1v1h-1zM76 46h1v1h-1zM79 46h1v1h-1zM93 46h1v1h-1zM37 47h1v1h-1zM94 47h2v1h-2zM36 48h1v2h-1zM72 52h1v1h-1zM73 54h1v1h-1zM76 53h1v4h-1zM76 60h1v1h-1zM73 61h1v2h-1zM16 65h1v1h-1zM76 66h1v1h-1zM76 70h1v3h-1zM73 73h1v1h-1zM76 82h1v1h-1zM16 93h1v1h-1zM76 86h1v12h-1zM16 102h1v2h-1zM73 102h1v2h-1zM76 101h1v5h-1zM93 106h1v1h-1zM99 109h1v1h-1zM16 112h1v1.5h-1z"/>
<path fill="#eebebe" d="M51 10h1v1h-1zM110 10h2v2h-2zM48 12h1v1h-1zM111 12h1v1h-1zM31 13h1v1h-1zM49 13h1v1h-1zM55 13h1v1h-1zM50 14h1v1h-1zM53 14h1v1h-1zM100 14h4v1h-4zM38 15h1v1h-1zM100 15h2v1h-2zM103 15h2v1h-2zM113 15h1v1h-1zM29 15h1v2h-1zM31 16h1v1h-1zM48 16h1v1h-1zM104 16h1v1h-1zM16 17h1v1h-1zM105 17h1v1h-1zM107 17h1v2h-1zM57 18h2v1h-2zM39 19h1v1h-1zM41 19h1v1h-1zM59 19h1v2h-1zM42 20h1v1h-1zM48 20h1v1h-1zM67 20h1v1h-1zM57 19h1v3h-1zM112 21h1v1h-1zM68 22h2v1h-2zM42 22h1v3h-1zM69 23h1v2h-1zM15 24h1v1h-1zM60 22h1v5h-1zM41 26h1v1h-1zM52 20h1v8h-1zM58 27h2v1h-2zM49 22h1v7h-1zM20 27h1v2h-1zM24 28h1v1h-1zM25 29h1v1h-1zM103 29h2v1h-2zM33 30h1v1h-1zM64 30h1v1h-1zM19 30h1v2h-1zM85 30h2v2h-2zM42 31h1v1h-1zM102 31h2v1h-2zM31 31h1v2h-1zM36 32h1v1h-1zM46 33h1v1h-1zM28 34h1v1h-1zM113 35h1v1h-1zM19 36h1v1h-1zM43 36h1v1h-1zM46 36h1v1h-1zM57 36h1v1h-1zM21 37h1v1h-1zM43 37h2v1h-2zM19 38h1v1h-1zM113 38h1v1h-1zM39 39h1v1h-1zM33 40h1v1h-1zM81 40h1v1h-1zM107 40h1v1h-1zM96 41h1v1h-1zM94 41h1v2h-1zM105 42h1v1h-1zM101 42h1v2h-1zM78 44h1v1h-1zM83 44h1v1h-1zM105 44h1v1h-1zM72 45h1v1h-1zM87 45h1v3h-1zM46 46h1v2h-1zM19 47h1v1h-1zM55 47h1v1h-1zM92 47h1v1h-1zM107 47h2v1h-2zM77 49h1v1h-1zM86 48h1v3h-1zM41 50h4v1h-4zM41 51h5v2h-5zM79 52h1v1h-1zM41 53h4v1h-4zM73 57h1v1h-1zM38 58h1v1h-1zM42 58h4v1h-4zM76 58h1v2h-1zM45 59h1v1h-1zM43 60h3v1h-3zM73 60h1v1h-1zM79 61h1v1h-1zM42 61h4v2h-4zM38 62h1v1h-1zM41 63h5v3h-5zM79 63h1v4h-1zM86 64h1v3h-1zM76 68h1v1h-1zM73 70h1v1h-1zM79 70h1v3h-1zM73 72h1v1h-1zM86 70h1v6h-1zM42 73h3v4h-3zM41 77h4v1h-4zM73 77h1v2h-1zM42 78h3v1h-3zM79 77h1v5h-1zM41 79h5v3h-5zM42 82h3v1h-3zM76 83h1v2h-1zM86 85h1v1h-1zM73 82h1v5h-1zM79 87h1v4h-1zM40 88h3v5h-3zM86 92h1v4h-1zM86 97h1v2h-1zM73 95h1v6h-1zM79 98h1v3h-1zM86 102h1v2h-1zM91 105h1v2h-1zM86 107h1v1h-1zM97 107h1v1h-1zM76 108h1v1h-1zM73 107h1v4h-1zM86 110h1v2h-1zM79 111h1v2h-1zM76 113h1v0.5h-1z"/>
<path fill="#f4d4d4" d="M52 10h1v1h-1zM55 10h1v1h-1zM100 10h2v3h-2zM112 10h2v3h-2zM42 10h1v4h-1zM22 13h1v1h-1zM48 13h1v1h-1zM60 13h1v1h-1zM64 13h1v1h-1zM102 13h1v1h-1zM112 13h1v2h-1zM63 14h1v1h-1zM34 15h1v1h-1zM37 15h1v1h-1zM49 15h1v1h-1zM38 16h1v1h-1zM43 16h3v1h-3zM92 16h1v1h-1zM105 16h1v1h-1zM46 17h1v1h-1zM58 17h1v1h-1zM90 17h1v1h-1zM104 17h1v1h-1zM24 17h1v2h-1zM43 17h1v2h-1zM46 18h2v1h-2zM59 18h1v1h-1zM15 19h1v1h-1zM42 19h1v1h-1zM106 19h1v1h-1zM29 20h1v1h-1zM62 20h1v1h-1zM112 20h1v1h-1zM21 21h1v1h-1zM61 21h1v1h-1zM72 21h1v1h-1zM71 22h1v1h-1zM112 22h2v1h-2zM15 23h1v1h-1zM86 23h1v1h-1zM110 23h2v1h-2zM21 23h2v2h-2zM57 24h1v1h-1zM111 24h1v1h-1zM16 25h1v1h-1zM21 25h1v1h-1zM42 25h2v1h-2zM86 25h1v1h-1zM19 26h1v1h-1zM104 26h3v1h-3zM46 26h1v2h-1zM25 27h1v1h-1zM41 27h1v1h-1zM72 27h1v1h-1zM67 27h1v2h-1zM44 28h3v1h-3zM95 28h1v1h-1zM103 28h1v1h-1zM19 28h1v2h-1zM23 29h1v1h-1zM42 29h1v1h-1zM84 29h1v1h-1zM86 29h1v1h-1zM90 29h2v1h-2zM22 30h2v1h-2zM83 30h1v1h-1zM61 29h1v3h-1zM47 30h1v2h-1zM91 30h1v2h-1zM23 31h2v1h-2zM64 31h1v1h-1zM84 31h1v1h-1zM19 32h1v1h-1zM22 32h1v1h-1zM62 32h1v1h-1zM90 32h1v1h-1zM104 32h1v1h-1zM29 33h1v1h-1zM33 33h1v1h-1zM36 34h1v1h-1zM40 34h1v1h-1zM44 34h1v1h-1zM111 34h1v1h-1zM70 34h1v2h-1zM21 36h1v1h-1zM32 36h1v1h-1zM47 36h1v1h-1zM109 36h1v1h-1zM113 36h1v2h-1zM24 37h1v1h-1zM45 37h1v1h-1zM39 38h1v1h-1zM111 38h1v1h-1zM21 39h1v1h-1zM40 39h1v2h-1zM35 40h1v1h-1zM38 40h1v1h-1zM48 40h1v1h-1zM53 40h1v1h-1zM82 40h1v1h-1zM49 41h4v1h-4zM57 41h1v1h-1zM77 41h3v1h-3zM104 41h1v1h-1zM84 42h1v1h-1zM100 42h1v2h-1zM56 43h1v1h-1zM77 44h1v1h-1zM101 44h1v1h-1zM112 44h1v1h-1zM73 45h1v1h-1zM88 45h1v1h-1zM104 45h1v1h-1zM97 45h1v2h-1zM32 46h1v1h-1zM45 46h1v1h-1zM68 46h1v1h-1zM102 46h1v1h-1zM89 46h1v2h-1zM91 46h1v2h-1zM36 47h1v1h-1zM38 47h1v1h-1zM56 47h1v1h-1zM96 47h1v1h-1zM109 47h1v1h-1zM71 48h1v1h-1zM77 48h2v1h-2zM87 48h1v1h-1zM92 48h1v1h-1zM40 49h1v1h-1zM39 50h2v1h-2zM87 50h1v1h-1zM19 51h1v1h-1zM87 51h5v1h-5zM87 52h6v1h-6zM40 51h1v3h-1zM87 53h5v1h-5zM41 54h5v1h-5zM79 54h1v1h-1zM89 54h2v3h-2zM39 57h1v1h-1zM46 57h1v1h-1zM79 57h1v1h-1zM86 55h1v8h-1zM47 60h1v3h-1zM46 63h1v1h-1zM40 64h1v1h-1zM77 64h2v2h-2zM77 66h1v1h-1zM39 68h1v1h-1zM79 68h1v1h-1zM86 68h1v1h-1zM77 70h1v1h-1zM77 71h2v1h-2zM41 72h4v1h-4zM77 72h1v1h-1zM45 73h1v1h-1zM40 76h1v1h-1zM77 76h1v1h-1zM87 76h5v1h-5zM88 77h5v2h-5zM46 79h1v1h-1zM87 79h6v1h-6zM77 77h2v5h-2zM15 80h1v2h-1zM87 80h5v2h-5zM47 80h1v3h-1zM40 82h1v1h-1zM46 83h2v1h-2zM100 83h1v1h-1zM41 84h1v1h-1zM45 84h3v1h-3zM87 82h1v4h-1zM41 85h6v1h-6zM79 85h1v1h-1zM99 84h2v3h-2zM41 86h5v1h-5zM77 86h1v1h-1zM87 86h6v1h-6zM44 87h2v1h-2zM88 87h5v2h-5zM39 88h1v1h-1zM44 88h1v1h-1zM77 87h2v4h-2zM43 89h1v3h-1zM77 91h1v1h-1zM39 92h1v1h-1zM46 92h1v1h-1zM40 93h1v1h-1zM43 93h4v1h-4zM79 92h1v3h-1zM41 94h6v1h-6zM87 93h2v4h-2zM46 95h2v3h-2zM87 97h1v1h-1zM77 98h2v3h-2zM41 101h5v1h-5zM45 102h1v2h-1zM79 102h1v2h-1zM41 103h1v1h-1zM92 103h1v1h-1zM41 104h5v1h-5zM87 105h2v1h-2zM90 105h1v1h-1zM87 106h4v1h-4zM98 106h1v1h-1zM87 107h1v1h-1zM91 107h2v1h-2zM79 108h1v3h-1z"/>
<path fill="#f6dfdf" d="M53 10h1v1h-1zM70 10h1v1h-1zM102 10h1v3h-1zM29 13h1v1h-1zM32 14h1v1h-1zM34 14h1v1h-1zM37 14h1v1h-1zM61 14h1v2h-1zM99 14h1v2h-1zM17 15h1v1h-1zM32 15h2v1h-2zM53 15h1v1h-1zM84 15h1v1h-1zM46 16h1v1h-1zM29 17h1v1h-1zM47 17h1v1h-1zM91 17h1v1h-1zM42 14h1v5h-1zM16 19h1v1h-1zM46 19h1v1h-1zM64 19h1v1h-1zM107 19h1v1h-1zM24 19h1v2h-1zM21 20h1v1h-1zM68 20h4v1h-4zM29 21h1v1h-1zM111 21h1v2h-1zM21 22h1v1h-1zM16 23h1v1h-1zM70 23h1v2h-1zM46 23h1v3h-1zM85 24h1v2h-1zM20 25h1v1h-1zM22 25h1v1h-1zM110 25h2v1h-2zM24 26h2v1h-2zM73 26h1v1h-1zM103 27h1v1h-1zM23 27h1v2h-1zM47 28h2v1h-2zM60 28h1v1h-1zM73 28h1v1h-1zM90 28h1v1h-1zM22 29h1v1h-1zM47 29h1v1h-1zM51 29h1v1h-1zM66 30h1v1h-1zM89 29h1v4h-1zM94 29h1v4h-1zM30 30h1v3h-1zM61 32h1v1h-1zM63 32h1v1h-1zM86 32h1v1h-1zM91 32h1v1h-1zM21 33h2v1h-2zM70 33h1v1h-1zM113 33h1v1h-1zM15 33h1v2h-1zM29 34h1v1h-1zM31 34h2v1h-2zM22 35h1v1h-1zM42 35h2v1h-2zM111 35h1v1h-1zM56 36h1v1h-1zM108 36h1v1h-1zM110 36h3v1h-3zM20 36h1v2h-1zM46 37h1v1h-1zM59 37h1v1h-1zM108 37h5v1h-5zM24 38h1v1h-1zM44 38h1v1h-1zM53 39h1v1h-1zM106 39h1v1h-1zM110 39h1v1h-1zM60 39h1v2h-1zM86 39h1v2h-1zM22 40h1v1h-1zM37 40h1v1h-1zM72 40h2v1h-2zM94 40h1v1h-1zM68 41h1v1h-1zM71 41h1v1h-1zM76 41h1v1h-1zM87 41h1v1h-1zM36 42h1v1h-1zM49 42h4v1h-4zM50 43h2v1h-2zM84 43h1v1h-1zM79 44h1v1h-1zM87 44h1v1h-1zM97 44h1v1h-1zM82 45h1v1h-1zM89 45h1v1h-1zM91 45h1v1h-1zM105 45h1v1h-1zM103 46h1v1h-1zM98 46h1v2h-1zM68 47h1v1h-1zM71 47h1v1h-1zM39 48h1v1h-1zM46 48h1v1h-1zM88 48h4v1h-4zM93 48h1v1h-1zM87 49h6v1h-6zM15 49h1v2h-1zM88 50h5v1h-5zM77 51h1v1h-1zM92 51h1v1h-1zM71 52h1v1h-1zM72 53h1v1h-1zM79 53h1v1h-1zM92 53h1v1h-1zM46 51h1v4h-1zM40 54h1v1h-1zM87 54h2v1h-2zM91 54h2v1h-2zM15 54h1v3h-1zM41 55h7v2h-7zM77 55h2v2h-2zM91 55h1v2h-1zM38 57h1v1h-1zM89 57h3v1h-3zM47 57h1v3h-1zM79 58h1v2h-1zM77 60h2v1h-2zM104 61h1v1h-1zM37 61h1v2h-1zM87 61h14v2h-14zM39 63h1v1h-1zM46 64h1v3h-1zM40 65h1v2h-1zM78 66h1v1h-1zM39 67h3v1h-3zM45 67h3v1h-3zM72 67h1v1h-1zM88 67h5v1h-5zM15 68h1v1h-1zM40 68h1v1h-1zM46 68h2v1h-2zM71 68h2v1h-2zM88 68h9v1h-9zM93 69h4v1h-4zM39 69h2v2h-2zM78 70h1v1h-1zM94 70h3v1h-3zM39 71h6v1h-6zM94 71h4v1h-4zM39 72h2v1h-2zM45 72h1v1h-1zM78 72h1v1h-1zM94 72h3v1h-3zM77 73h2v1h-2zM87 73h1v2h-1zM77 74h1v1h-1zM40 73h1v3h-1zM46 74h1v2h-1zM72 74h1v2h-1zM77 75h2v1h-2zM87 75h2v1h-2zM78 76h1v1h-1zM92 76h1v1h-1zM39 76h1v4h-1zM15 79h1v1h-1zM92 80h3v1h-3zM92 81h12v1h-12zM15 82h1v1h-1zM77 82h1v1h-1zM98 82h4v1h-4zM88 82h5v2h-5zM98 83h2v1h-2zM79 83h1v2h-1zM88 84h4v1h-4zM101 83h1v3h-1zM47 85h1v1h-1zM88 85h5v1h-5zM40 83h1v4h-1zM98 84h1v3h-1zM78 86h1v1h-1zM101 86h2v1h-2zM46 86h1v2h-1zM93 86h1v2h-1zM39 87h1v1h-1zM98 87h4v1h-4zM87 87h1v2h-1zM45 88h2v1h-2zM46 89h2v1h-2zM87 89h5v1h-5zM47 90h1v1h-1zM15 87h1v5h-1zM87 90h1v2h-1zM46 91h2v1h-2zM78 91h1v1h-1zM44 92h2v1h-2zM77 92h1v1h-1zM87 92h3v1h-3zM47 92h1v3h-1zM94 93h11v2h-11zM77 95h1v1h-1zM89 93h1v4h-1zM41 95h5v3h-5zM77 96h2v2h-2zM88 97h2v1h-2zM41 98h7v1h-7zM87 98h1v1h-1zM40 99h7v2h-7zM77 101h1v1h-1zM40 101h1v3h-1zM93 103h1v1h-1zM39 104h2v1h-2zM87 104h1v1h-1zM89 105h1v1h-1zM79 104h1v4h-1zM39 105h7v3h-7zM88 107h3v1h-3zM87 108h6v1h-6zM40 108h8v2h-8zM87 109h5v1h-5zM46 110h2v1h-2zM78 113h1v0.5h-1z"/>
<path fill="#fbf1f1" d="M75 10h1v1h-1zM61 10h1v2h-1zM89 10h1v2h-1zM75 11h2v1h-2zM20 10h1v3h-1zM57 10h1v3h-1zM109 10h1v3h-1zM65 12h2v1h-2zM75 12h1v1h-1zM41 13h1v1h-1zM67 13h1v1h-1zM99 13h1v1h-1zM110 13h1v1h-1zM17 14h1v1h-1zM35 14h1v1h-1zM54 14h2v1h-2zM84 14h1v1h-1zM105 14h1v1h-1zM91 14h1v2h-1zM36 15h1v1h-1zM46 15h1v1h-1zM48 15h1v1h-1zM17 16h2v1h-2zM27 16h1v1h-1zM34 16h1v1h-1zM40 16h1v1h-1zM63 16h1v1h-1zM67 16h1v1h-1zM101 16h1v1h-1zM106 16h1v1h-1zM30 17h1v1h-1zM92 17h1v1h-1zM38 17h1v2h-1zM64 18h1v1h-1zM105 18h1v1h-1zM21 19h1v1h-1zM29 19h1v1h-1zM67 19h1v1h-1zM60 19h1v2h-1zM24 21h1v1h-1zM93 21h1v2h-1zM48 22h1v1h-1zM88 22h2v1h-2zM17 23h1v1h-1zM20 23h1v1h-1zM87 23h6v1h-6zM83 24h1v1h-1zM88 24h5v1h-5zM19 24h1v2h-1zM17 25h1v1h-1zM87 25h6v1h-6zM47 26h1v1h-1zM69 26h3v1h-3zM85 26h8v1h-8zM18 26h1v2h-1zM43 27h1v1h-1zM85 27h1v1h-1zM88 27h6v1h-6zM97 27h1v1h-1zM78 27h1v2h-1zM36 28h1v1h-1zM57 28h1v1h-1zM71 28h1v1h-1zM84 28h1v1h-1zM88 28h1v1h-1zM99 28h1v1h-1zM102 28h1v1h-1zM45 29h2v1h-2zM60 29h1v1h-1zM87 29h2v1h-2zM95 29h1v1h-1zM105 29h1v1h-1zM51 30h1v1h-1zM35 30h1v2h-1zM88 30h1v2h-1zM43 31h1v1h-1zM101 31h1v1h-1zM23 32h1v1h-1zM28 32h1v1h-1zM34 32h2v1h-2zM37 32h1v1h-1zM40 32h1v1h-1zM70 32h1v1h-1zM87 32h2v1h-2zM102 32h1v1h-1zM105 32h1v1h-1zM92 28h2v6h-2zM20 33h1v1h-1zM27 33h1v1h-1zM44 33h1v1h-1zM88 33h1v1h-1zM30 34h1v1h-1zM41 34h1v1h-1zM50 34h1v1h-1zM88 34h6v1h-6zM105 34h1v1h-1zM21 35h1v1h-1zM63 35h1v1h-1zM24 36h1v1h-1zM48 36h1v1h-1zM88 35h5v3h-5zM107 36h1v2h-1zM16 37h1v1h-1zM39 37h1v1h-1zM55 37h1v1h-1zM20 38h1v1h-1zM46 38h1v1h-1zM64 38h1v1h-1zM86 38h7v1h-7zM106 38h2v1h-2zM15 39h1v1h-1zM54 39h1v1h-1zM76 39h4v1h-4zM87 39h7v1h-7zM107 39h1v1h-1zM74 40h2v1h-2zM88 40h2v1h-2zM93 40h1v1h-1zM95 40h1v1h-1zM108 40h2v1h-2zM33 41h1v1h-1zM37 41h1v1h-1zM55 41h1v1h-1zM59 41h1v1h-1zM84 41h1v1h-1zM101 41h1v1h-1zM75 41h1v3h-1zM36 43h1v1h-1zM49 44h4v1h-4zM100 44h1v1h-1zM71 45h1v1h-1zM74 45h2v1h-2zM79 45h2v1h-2zM98 45h1v1h-1zM112 45h1v1h-1zM31 46h1v1h-1zM69 46h1v1h-1zM78 47h1v1h-1zM103 47h1v1h-1zM105 47h1v1h-1zM110 47h1v1h-1zM40 48h1v1h-1zM44 48h1v1h-1zM97 48h2v1h-2zM102 48h2v1h-2zM93 49h1v2h-1zM38 51h1v1h-1zM77 52h2v1h-2zM47 51h1v3h-1zM19 53h1v1h-1zM77 53h1v1h-1zM94 51h11v4h-11zM39 54h1v1h-1zM71 54h1v1h-1zM71 55h2v2h-2zM93 55h1v2h-1zM39 56h1v1h-1zM87 55h1v3h-1zM15 57h1v1h-1zM72 57h1v1h-1zM92 57h8v1h-8zM87 58h5v1h-5zM104 58h1v1h-1zM77 58h2v2h-2zM94 58h6v2h-6zM87 59h1v1h-1zM72 60h1v1h-1zM87 60h7v1h-7zM19 57h1v7h-1zM71 61h1v3h-1zM94 63h11v1h-11zM47 64h1v1h-1zM88 64h1v1h-1zM72 64h1v2h-1zM15 60h1v7h-1zM39 66h1v1h-1zM47 66h1v1h-1zM71 66h1v1h-1zM88 66h5v1h-5zM96 67h1v1h-1zM78 68h1v1h-1zM97 68h1v2h-1zM15 70h1v1h-1zM38 71h1v1h-1zM46 70h1v3h-1zM15 73h1v1h-1zM47 73h1v1h-1zM71 73h1v1h-1zM92 73h2v1h-2zM19 67h1v9h-1zM47 75h1v1h-1zM72 76h1v1h-1zM93 76h1v1h-1zM19 79h1v1h-1zM104 79h1v1h-1zM105 80h1v2h-1zM39 82h1v1h-1zM77 83h2v2h-2zM19 83h1v3h-1zM94 83h4v3h-4zM103 83h2v3h-2zM39 85h1v2h-1zM47 87h1v1h-1zM19 88h1v1h-1zM94 88h4v1h-4zM103 88h2v1h-2zM93 89h1v2h-1zM93 91h12v1h-12zM105 93h1v1h-1zM72 86h1v9h-1zM91 92h2v3h-2zM15 93h1v2h-1zM39 94h1v2h-1zM91 95h3v1h-3zM93 96h12v2h-12zM39 97h1v1h-1zM19 92h1v7h-1zM88 98h3v1h-3zM47 101h1v1h-1zM88 102h5v1h-5zM19 101h1v3h-1zM38 102h1v2h-1zM78 102h1v2h-1zM88 103h3v1h-3zM72 101h1v4h-1zM94 104h1v3h-1zM97 106h1v1h-1zM15 98h1v10h-1zM77 104h2v5h-2zM72 108h1v2h-1zM39 110h1v1h-1zM91 110h2v1h-2zM98 110h1v1h-1zM15 110h1v2h-1zM19 108h1v5.5h-1zM39 111h2v2.5h-2zM77 113h1v0.5h-1z"/>
<path fill="#fdf9f9" d="M77 10h1v1h-1zM94 10h2v2h-2zM31 11h1v1h-1zM74 10h1v3h-1zM106 10h3v3h-3zM89 12h1v1h-1zM94 12h1v1h-1zM92 13h1v1h-1zM36 14h1v1h-1zM44 14h5v1h-5zM39 14h1v2h-1zM41 14h1v2h-1zM93 14h1v2h-1zM98 14h1v2h-1zM47 15h1v1h-1zM56 15h1v1h-1zM21 14h1v3h-1zM15 16h2v1h-2zM33 16h1v1h-1zM35 16h1v1h-1zM57 16h1v1h-1zM60 16h3v1h-3zM90 16h1v1h-1zM99 16h1v1h-1zM102 16h1v1h-1zM107 16h1v1h-1zM113 16h1v1h-1zM53 16h1v3h-1zM67 17h1v2h-1zM29 18h1v1h-1zM60 18h1v1h-1zM61 20h1v1h-1zM93 20h1v1h-1zM110 20h1v2h-1zM88 21h2v1h-2zM87 22h1v1h-1zM90 22h3v1h-3zM94 22h1v1h-1zM19 23h1v1h-1zM82 23h2v1h-2zM84 24h1v1h-1zM48 23h1v3h-1zM71 23h1v3h-1zM93 23h1v4h-1zM15 26h3v1h-3zM22 26h1v1h-1zM74 26h1v1h-1zM107 26h1v1h-1zM102 25h1v3h-1zM36 26h1v2h-1zM17 27h1v1h-1zM87 27h1v1h-1zM94 27h1v1h-1zM68 27h3v2h-3zM18 28h1v1h-1zM59 28h1v1h-1zM74 28h1v1h-1zM79 28h1v1h-1zM86 28h2v1h-2zM44 29h1v1h-1zM68 29h1v1h-1zM77 29h2v1h-2zM101 29h1v1h-1zM110 29h2v1h-2zM29 30h1v1h-1zM67 30h2v1h-2zM77 30h1v1h-1zM82 30h1v1h-1zM60 30h1v2h-1zM95 30h1v2h-1zM105 30h1v2h-1zM51 31h1v1h-1zM24 32h1v1h-1zM27 32h1v1h-1zM46 32h1v1h-1zM64 32h1v1h-1zM39 31h1v3h-1zM94 33h1v1h-1zM99 33h1v1h-1zM35 33h1v2h-1zM27 34h1v1h-1zM109 34h1v1h-1zM23 33h1v3h-1zM71 33h1v3h-1zM17 35h2v1h-2zM35 35h2v1h-2zM50 35h1v1h-1zM62 35h1v1h-1zM65 35h1v1h-1zM105 35h1v1h-1zM41 35h1v2h-1zM49 36h1v1h-1zM59 36h1v1h-1zM66 36h1v2h-1zM105 36h2v2h-2zM87 37h1v1h-1zM93 35h1v4h-1zM61 36h1v3h-1zM47 37h1v2h-1zM42 38h1v1h-1zM108 38h2v1h-2zM28 39h1v1h-1zM31 39h1v1h-1zM44 39h2v1h-2zM74 39h2v1h-2zM80 39h1v1h-1zM94 39h1v1h-1zM98 39h1v1h-1zM15 40h1v1h-1zM26 40h2v1h-2zM83 40h1v1h-1zM90 40h3v1h-3zM99 40h1v1h-1zM38 41h1v1h-1zM48 41h1v1h-1zM60 41h1v1h-1zM97 41h1v1h-1zM40 42h1v1h-1zM53 42h1v1h-1zM56 42h1v1h-1zM113 42h1v1h-1zM35 42h1v2h-1zM85 42h1v2h-1zM55 43h1v1h-1zM90 41h1v4h-1zM53 44h2v1h-2zM71 44h1v1h-1zM75 44h1v1h-1zM31 45h1v1h-1zM76 45h1v1h-1zM78 45h1v2h-1zM31 47h1v1h-1zM53 47h1v1h-1zM69 47h1v1h-1zM77 47h1v1h-1zM15 48h1v1h-1zM96 48h1v1h-1zM99 48h1v1h-1zM104 48h1v1h-1zM47 48h1v3h-1zM94 49h11v2h-11zM37 51h1v1h-1zM78 53h1v1h-1zM39 55h1v1h-1zM37 57h1v1h-1zM71 57h1v1h-1zM92 58h2v1h-2zM15 58h1v2h-1zM72 58h1v2h-1zM88 59h6v1h-6zM71 60h1v1h-1zM105 60h1v3h-1zM89 64h5v1h-5zM39 64h1v2h-1zM71 64h1v2h-1zM47 65h1v1h-1zM88 65h6v1h-6zM19 64h1v3h-1zM93 66h4v1h-4zM97 67h7v1h-7zM98 68h7v2h-7zM38 69h1v2h-1zM47 70h1v1h-1zM71 70h2v1h-2zM105 71h1v1h-1zM88 70h5v3h-5zM15 71h1v2h-1zM72 71h1v2h-1zM38 72h1v1h-1zM47 72h1v1h-1zM94 73h4v1h-4zM93 74h1v2h-1zM47 76h1v1h-1zM71 76h1v1h-1zM94 76h10v1h-10zM19 76h1v3h-1zM94 77h11v2h-11zM47 78h1v1h-1zM105 79h1v1h-1zM105 82h1v1h-1zM72 77h1v8h-1zM39 83h1v2h-1zM71 85h2v1h-2zM19 86h1v2h-1zM38 86h1v3h-1zM94 89h11v2h-11zM38 91h1v2h-1zM105 92h1v1h-1zM71 86h1v9h-1zM33 93h6v2h-6zM105 94h1v2h-1zM38 95h1v1h-1zM38 96h2v1h-2zM91 96h2v3h-2zM72 95h1v6h-1zM19 99h1v2h-1zM88 99h5v2h-5zM38 97h1v5h-1zM88 101h6v1h-6zM93 102h12v1h-12zM33 102h5v2h-5zM94 103h11v1h-11zM71 101h1v4h-1zM38 104h1v1h-1zM47 102h1v5h-1zM19 104h1v4h-1zM72 105h1v3h-1zM100 107h1v3h-1zM71 108h1v2h-1zM93 108h1v3h-1zM97 110h1v1h-1zM99 110h1v1h-1zM72 110h1v3.5h-1zM88 111h5v2.5h-5zM15 112h1v1.5h-1z"/>
<path fill="#f9f9fc" d="M79 10h1v1h-1zM77 11h1v1h-1zM40 10h1v3h-1zM90 10h1v3h-1zM96 10h1v3h-1zM47 11h1v2h-1zM64 12h1v1h-1zM93 12h1v2h-1zM21 13h1v1h-1zM62 13h1v1h-1zM88 13h2v1h-2zM91 13h1v1h-1zM96 13h2v1h-2zM106 13h3v1h-3zM85 14h1v1h-1zM96 14h1v1h-1zM19 14h1v2h-1zM72 15h1v1h-1zM59 16h1v1h-1zM84 16h1v1h-1zM98 16h1v1h-1zM25 16h1v2h-1zM60 17h1v1h-1zM108 17h1v1h-1zM61 19h1v1h-1zM93 19h1v1h-1zM108 19h1v1h-1zM110 19h2v1h-2zM73 20h1v1h-1zM89 20h1v1h-1zM53 20h1v2h-1zM30 21h1v1h-1zM94 21h1v1h-1zM86 22h1v1h-1zM25 23h1v1h-1zM72 23h2v1h-2zM113 23h1v1h-1zM47 21h1v4h-1zM36 24h1v1h-1zM73 24h1v1h-1zM112 24h1v2h-1zM23 25h1v1h-1zM72 25h1v1h-1zM83 25h1v1h-1zM106 25h1v1h-1zM42 26h1v1h-1zM84 26h1v2h-1zM15 27h2v1h-2zM22 27h1v1h-1zM79 27h1v1h-1zM95 27h1v1h-1zM113 27h1v2h-1zM80 28h2v1h-2zM83 28h1v1h-1zM30 29h1v1h-1zM52 29h1v1h-1zM57 29h1v1h-1zM81 29h1v1h-1zM96 29h1v1h-1zM44 30h2v1h-2zM70 29h1v3h-1zM45 31h1v1h-1zM15 32h1v1h-1zM26 32h1v1h-1zM38 32h1v1h-1zM71 32h1v1h-1zM98 32h3v1h-3zM42 33h1v1h-1zM100 33h1v1h-1zM21 34h1v1h-1zM43 34h1v1h-1zM74 34h1v1h-1zM99 34h2v1h-2zM106 34h2v1h-2zM87 34h1v2h-1zM20 35h1v1h-1zM24 35h1v1h-1zM32 35h1v1h-1zM66 35h1v1h-1zM69 35h1v1h-1zM16 38h1v1h-1zM25 38h1v1h-1zM74 38h1v1h-1zM78 38h1v1h-1zM41 39h1v1h-1zM81 39h2v1h-2zM105 39h1v1h-1zM28 40h1v1h-1zM31 40h1v1h-1zM44 40h1v1h-1zM71 40h1v1h-1zM85 41h1v1h-1zM15 41h1v2h-1zM99 42h1v1h-1zM74 42h1v2h-1zM16 43h1v1h-1zM48 42h1v3h-1zM35 44h2v1h-2zM89 44h1v1h-1zM18 45h5v1h-5zM46 45h2v1h-2zM52 45h1v1h-1zM70 45h1v1h-1zM21 46h1v1h-1zM58 46h1v1h-1zM112 46h1v1h-1zM99 45h1v3h-1zM111 47h1v1h-1zM41 48h1v1h-1zM100 48h1v1h-1zM105 49h1v2h-1zM36 51h1v1h-1zM113 51h1v4h-1zM37 55h1v2h-1zM113 56h1v1h-1zM109 55h1v6h-1zM36 61h1v2h-1zM113 62h1v1h-1zM70 50h1v14h-1zM109 63h1v4h-1zM38 64h1v3h-1zM70 66h1v1h-1zM105 67h1v1h-1zM33 70h1v1h-1zM32 71h1v1h-1zM33 72h4v1h-4zM105 73h1v1h-1zM109 73h1v1h-1zM94 74h12v1h-12zM38 74h1v2h-1zM95 75h11v1h-11zM105 76h1v3h-1zM109 79h1v1h-1zM38 80h1v2h-1zM33 83h5v2h-5zM32 86h1v2h-1zM33 88h4v1h-4zM113 85h1v5h-1zM105 89h1v2h-1zM32 92h1v1h-1zM109 92h1v4h-1zM48 96h1v1h-1zM32 95h1v3h-1zM113 95h1v3h-1zM105 98h1v1h-1zM33 98h5v3h-5zM94 99h11v2h-11zM32 101h1v1h-1zM70 102h1v2h-1zM32 103h1v1h-1zM105 101h1v4h-1zM37 104h1v1h-1zM113 104h1v1h-1zM109 107h1v1h-1zM113 107h1v1h-1zM78 109h1v1h-1zM95 110h1v1h-1zM101 110h4v1h-4zM38 110h1v3.5h-1zM94 111h11v2.5h-11z"/>
<path fill="#9a9ad9" d="M82 10h1v1h-1zM84 10h1v1h-1zM78 13h1v1h-1zM69 13h1v2h-1zM73 14h1v1h-1zM82 14h1v1h-1zM70 15h1v1h-1zM76 15h1v3h-1zM79 17h2v1h-2zM95 17h1v1h-1zM74 18h1v1h-1zM78 18h1v1h-1zM94 18h1v1h-1zM81 18h1v2h-1zM99 20h1v2h-1zM79 21h1v1h-1zM81 21h1v1h-1zM105 21h1v1h-1zM98 22h2v1h-2zM75 23h1v1h-1zM75 24h2v1h-2zM78 24h1v1h-1zM75 25h1v1h-1zM80 26h1v1h-1zM75 29h1v1h-1zM80 30h1v1h-1zM112 30h1v1h-1zM107 31h2v1h-2zM110 31h1v2h-1zM56 32h1v1h-1zM76 32h1v1h-1zM75 33h1v1h-1zM83 33h1v1h-1zM69 36h1v1h-1zM71 36h1v1h-1zM85 36h1v1h-1zM16 39h2v1h-2zM44 42h1v1h-1zM24 43h1v1h-1zM42 43h2v1h-2zM28 44h1v1h-1zM44 44h1v1h-1zM30 44h1v2h-1zM42 45h1v1h-1zM62 45h1v1h-1zM65 45h1v1h-1zM15 46h1v1h-1zM27 46h1v1h-1zM24 47h1v1h-1zM64 47h1v1h-1zM20 48h1v1h-1zM24 48h2v1h-2zM34 48h1v1h-1zM50 48h1v1h-1zM61 48h1v1h-1zM25 49h1v1h-1zM51 49h1v1h-1zM58 49h1v2h-1zM30 50h1v1h-1zM28 51h1v1h-1zM56 51h1v3h-1zM58 51h2v3h-2zM24 54h1v1h-1zM26 54h1v1h-1zM25 55h2v2h-2zM60 56h1v1h-1zM57 55h1v3h-1zM26 57h1v1h-1zM27 58h1v1h-1zM24 57h1v4h-1zM28 60h1v1h-1zM57 60h1v1h-1zM60 60h1v1h-1zM62 60h1v1h-1zM28 62h1v1h-1zM24 63h1v1h-1zM56 63h2v1h-2zM60 64h1v1h-1zM27 63h1v3h-1zM50 64h1v2h-1zM58 65h1v1h-1zM60 65h2v1h-2zM55 64h1v3h-1zM60 66h1v1h-1zM22 70h1v1h-1zM27 70h1v1h-1zM60 70h1v1h-1zM28 71h3v1h-3zM29 72h1v1h-1zM60 72h1v4h-1zM56 73h1v3h-1zM24 74h1v2h-1zM28 75h1v1h-1zM24 76h3v3h-3zM56 80h1v3h-1zM25 82h2v1h-2zM24 83h1v1h-1zM27 83h1v1h-1zM62 83h1v2h-1zM60 86h1v1h-1zM58 80h1v8h-1zM60 87h2v2h-2zM28 88h1v1h-1zM25 89h2v1h-2zM56 85h1v6h-1zM61 89h1v2h-1zM57 91h1v1h-1zM56 93h1v1h-1zM60 93h1v1h-1zM111 93h1v1h-1zM25 94h1v1h-1zM26 95h1v1h-1zM61 95h1v3h-1zM23 97h1v1h-1zM56 97h1v2h-1zM24 98h4v1h-4zM25 99h6v1h-6zM27 100h4v1h-4zM56 101h1v1h-1zM111 101h1v1h-1zM60 98h1v5h-1zM62 103h1v1h-1zM111 103h1v1h-1zM25 104h3v1h-3zM55 104h1v3h-1zM24 105h1v2h-1zM28 105h3v2h-3zM26 107h5v1h-5zM56 108h2v1h-2zM26 108h1v2h-1zM25 110h1v1h-1zM57 109h1v3h-1zM60 108h1v5.5h-1z"/>
<path fill="#8080cf" d="M83 10h1v1h-1zM70 12h1v3h-1zM110 14h1v1h-1zM109 15h1v1h-1zM109 17h1v1h-1zM98 19h1v1h-1zM80 21h1v1h-1zM95 23h1v1h-1zM79 24h1v1h-1zM98 25h1v1h-1zM74 32h1v1h-1zM80 33h1v1h-1zM84 33h2v1h-2zM102 34h1v1h-1zM72 36h1v1h-1zM81 36h1v1h-1zM102 37h1v1h-1zM80 38h1v1h-1zM98 38h1v1h-1zM16 41h1v1h-1zM21 41h1v1h-1zM23 42h1v2h-1zM25 43h1v1h-1zM44 43h1v1h-1zM45 44h2v1h-2zM28 45h1v1h-1zM39 45h1v1h-1zM35 46h1v1h-1zM37 46h1v1h-1zM29 47h1v1h-1zM29 49h1v2h-1zM53 51h2v1h-2zM57 50h1v4h-1zM60 50h1v4h-1zM54 52h1v2h-1zM50 53h1v1h-1zM61 54h1v2h-1zM20 55h1v2h-1zM50 57h1v3h-1zM25 59h1v1h-1zM60 61h1v1h-1zM50 63h1v1h-1zM60 63h1v1h-1zM61 64h1v1h-1zM24 64h1v2h-1zM26 64h1v2h-1zM24 66h3v1h-3zM50 67h1v3h-1zM61 67h1v3h-1zM25 69h1v1h-1zM26 70h1v1h-1zM26 71h2v1h-2zM57 64h1v9h-1zM53 72h1v1h-1zM53 73h2v1h-2zM25 73h1v2h-1zM61 73h1v2h-1zM54 74h1v1h-1zM53 75h2v1h-2zM53 76h1v1h-1zM60 77h1v2h-1zM57 76h1v4h-1zM20 80h1v2h-1zM61 80h1v2h-1zM57 82h1v1h-1zM60 82h1v3h-1zM26 84h3v1h-3zM25 85h1v1h-1zM61 85h1v1h-1zM24 86h1v2h-1zM25 88h2v1h-2zM53 88h1v1h-1zM57 88h1v1h-1zM50 85h1v6h-1zM54 89h1v2h-1zM53 91h2v1h-2zM57 93h1v1h-1zM61 93h1v1h-1zM25 95h1v1h-1zM50 95h1v1h-1zM58 95h1v1h-1zM25 97h1v1h-1zM57 97h1v2h-1zM53 98h1v3h-1zM57 100h1v1h-1zM61 101h1v1h-1zM50 101h1v2h-1zM57 103h1v1h-1zM58 104h1v1h-1zM58 106h1v1h-1zM57 107h1v1h-1zM25 108h1v2h-1zM23 110h1v1h-1zM77 112h1v1h-1zM20 111h1v2.5h-1zM50 111h1v2.5h-1z"/>
<path fill="#e59a9a" d="M51 11h1v1h-1zM30 12h1v1h-1zM55 12h1v1h-1zM51 13h1v1h-1zM54 13h1v1h-1zM52 14h1v1h-1zM24 15h1v1h-1zM30 16h1v1h-1zM49 16h1v1h-1zM51 16h1v1h-1zM40 19h1v1h-1zM51 19h1v1h-1zM49 20h1v1h-1zM26 22h1v1h-1zM68 24h1v1h-1zM20 29h1v1h-1zM50 30h1v1h-1zM48 35h1v1h-1zM33 36h1v1h-1zM35 36h1v1h-1zM32 39h1v1h-1zM35 39h1v1h-1zM38 39h1v1h-1zM55 39h1v1h-1zM112 40h2v1h-2zM69 41h2v1h-2zM95 41h1v1h-1zM103 41h1v1h-1zM104 42h1v2h-1zM102 45h2v1h-2zM54 46h1v1h-1zM85 46h1v1h-1zM111 46h1v1h-1zM76 52h1v1h-1zM73 53h1v1h-1zM76 61h1v1h-1zM16 51h1v14h-1zM76 63h1v3h-1zM16 66h1v7h-1zM73 74h1v2h-1zM16 77h1v2h-1zM76 73h1v7h-1zM16 83h1v2h-1zM16 92h1v1h-1zM16 94h1v1h-1zM76 98h1v3h-1zM16 101h1v1h-1zM93 104h1v1h-1zM16 104h1v3h-1zM99 107h1v1h-1zM16 111h1v1h-1z"/>
<path fill="#df8080" d="M52 11h1v1h-1zM54 11h1v1h-1zM53 13h1v1h-1zM26 18h1v1h-1zM41 23h1v2h-1zM21 30h1v1h-1zM21 32h1v1h-1zM48 34h1v1h-1zM33 39h2v1h-2zM58 40h1v1h-1zM106 41h1v1h-1zM80 42h1v1h-1zM95 42h1v1h-1zM69 43h2v1h-2zM102 42h1v3h-1zM94 44h1v1h-1zM106 46h1v1h-1zM110 46h1v1h-1zM76 47h1v1h-1zM79 47h1v1h-1zM37 50h1v1h-1zM79 51h1v1h-1zM16 74h1v1h-1zM16 89h1v2h-1zM92 104h1v1h-1zM93 105h1v1h-1zM92 106h1v1h-1zM99 108h1v1h-1zM16 109h1v1h-1zM75 110h1v2h-1z"/>
<path fill="#db7373" d="M53 11h1v1h-1zM52 13h1v1h-1zM28 17h1v1h-1zM38 20h1v1h-1zM41 21h1v2h-1zM26 23h1v1h-1zM26 26h1v3h-1zM28 29h1v1h-1zM37 30h1v1h-1zM48 30h1v1h-1zM21 31h1v1h-1zM33 32h1v1h-1zM48 33h2v1h-2zM17 37h1v1h-1zM32 37h1v1h-1zM56 40h2v1h-2zM110 41h2v1h-2zM69 42h2v1h-2zM96 43h1v1h-1zM103 42h1v3h-1zM57 44h1v1h-1zM111 45h1v1h-1zM18 46h1v1h-1zM57 46h1v1h-1zM96 46h1v1h-1zM76 48h1v1h-1zM79 48h1v3h-1zM76 51h1v1h-1zM73 52h1v1h-1zM74 58h2v2h-2zM74 70h1v2h-1zM75 109h1v1h-1zM75 112h1v1h-1z"/>
<path fill="#6565c5" d="M82 11h1v1h-1zM75 14h1v1h-1zM55 16h1v1h-1zM80 19h1v1h-1zM79 20h2v1h-2zM95 21h1v1h-1zM98 21h1v1h-1zM104 21h1v1h-1zM97 26h1v1h-1zM108 28h1v1h-1zM74 31h1v1h-1zM80 31h1v1h-1zM84 35h1v1h-1zM102 36h1v1h-1zM81 38h1v1h-1zM95 38h1v1h-1zM17 41h1v1h-1zM20 42h1v1h-1zM29 44h1v1h-1zM37 44h1v1h-1zM59 43h1v3h-1zM24 45h1v1h-1zM28 46h1v1h-1zM41 46h1v1h-1zM22 48h1v1h-1zM53 49h2v1h-2zM20 49h1v2h-1zM23 49h1v2h-1zM54 50h1v1h-1zM22 51h2v1h-2zM26 52h1v1h-1zM24 53h1v1h-1zM21 53h1v2h-1zM49 54h1v3h-1zM53 55h1v2h-1zM21 56h1v1h-1zM53 57h2v4h-2zM20 60h1v1h-1zM21 61h1v2h-1zM50 61h1v2h-1zM53 61h1v2h-1zM20 63h2v1h-2zM49 64h1v3h-1zM53 67h1v1h-1zM25 71h1v1h-1zM54 68h1v5h-1zM28 73h1v1h-1zM27 75h1v1h-1zM20 70h1v7h-1zM53 77h1v1h-1zM20 77h2v2h-2zM61 77h1v2h-1zM54 81h1v1h-1zM21 82h1v1h-1zM20 83h2v2h-2zM61 83h1v2h-1zM29 85h1v2h-1zM54 83h1v5h-1zM20 85h1v4h-1zM20 89h2v1h-2zM21 90h1v3h-1zM50 92h1v3h-1zM24 94h1v1h-1zM54 94h1v1h-1zM56 94h1v2h-1zM21 94h1v4h-1zM53 95h2v3h-2zM49 96h1v2h-1zM24 97h1v1h-1zM54 98h1v1h-1zM109 103h1v1h-1zM54 104h1v1h-1zM60 104h1v1h-1zM62 104h1v1h-1zM53 105h1v2h-1zM60 106h1v1h-1zM24 107h1v1h-1zM61 107h1v1h-1zM20 101h1v9h-1zM20 110h2v1h-2zM24 110h1v1h-1zM54 108h1v5.5h-1z"/>
<path fill="#2d2db0" d="M83 11h1v1h-1zM74 17h2v1h-2zM95 18h1v1h-1zM55 20h1v1h-1zM95 20h1v1h-1zM54 21h1v2h-1zM54 26h1v3h-1zM107 29h1v1h-1zM55 30h1v1h-1zM112 31h1v1h-1zM75 31h1v2h-1zM82 32h1v1h-1zM111 32h1v1h-1zM85 35h1v1h-1zM103 34h1v3h-1zM98 36h1v1h-1zM95 36h1v2h-1zM72 37h1v1h-1zM81 37h1v1h-1zM69 37h1v2h-1zM21 42h1v1h-1zM29 45h1v1h-1zM42 46h1v1h-1zM27 47h1v1h-1zM28 48h1v1h-1zM27 50h1v1h-1zM27 60h1v2h-1zM61 63h1v1h-1zM53 64h1v1h-1zM54 65h1v1h-1zM23 70h1v2h-1zM53 78h1v1h-1zM54 79h1v1h-1zM27 86h1v1h-1zM28 87h1v1h-1zM49 93h1v1h-1zM23 95h2v1h-2zM24 96h1v1h-1zM57 106h1v1h-1zM23 108h2v2h-2z"/>
<path fill="#7373ca" d="M84 11h1v2h-1zM82 13h1v1h-1zM111 15h1v1h-1zM54 16h1v1h-1zM109 16h1v1h-1zM75 18h1v1h-1zM79 18h2v1h-2zM103 19h1v2h-1zM96 23h3v1h-3zM81 33h1v1h-1zM97 33h1v1h-1zM98 34h1v1h-1zM86 34h1v2h-1zM102 35h1v1h-1zM54 37h1v1h-1zM69 39h1v1h-1zM71 39h1v1h-1zM16 40h1v1h-1zM20 43h1v1h-1zM45 43h2v1h-2zM24 44h1v1h-1zM34 45h1v1h-1zM63 45h2v2h-2zM24 46h1v1h-1zM41 47h1v1h-1zM23 48h1v1h-1zM49 48h1v1h-1zM24 50h2v1h-2zM53 50h1v1h-1zM61 49h1v5h-1zM26 53h1v1h-1zM20 51h1v4h-1zM53 54h2v1h-2zM21 55h1v1h-1zM20 57h1v1h-1zM27 59h1v1h-1zM50 60h1v1h-1zM61 60h1v1h-1zM25 60h1v2h-1zM20 61h1v2h-1zM60 62h1v1h-1zM62 63h1v1h-1zM25 64h1v2h-1zM23 69h1v1h-1zM25 70h1v1h-1zM53 68h1v4h-1zM25 72h1v1h-1zM28 72h1v1h-1zM28 74h1v1h-1zM26 75h1v1h-1zM61 75h1v2h-1zM54 76h1v1h-1zM20 79h2v1h-2zM61 79h1v1h-1zM21 80h1v2h-1zM53 81h1v1h-1zM20 82h1v1h-1zM53 82h2v1h-2zM61 82h1v1h-1zM50 70h1v15h-1zM26 85h1v1h-1zM53 83h1v5h-1zM57 83h1v5h-1zM25 86h2v2h-2zM29 87h1v1h-1zM54 88h1v1h-1zM50 91h1v1h-1zM20 90h1v3h-1zM53 92h2v2h-2zM20 93h2v1h-2zM23 94h1v1h-1zM53 94h1v1h-1zM25 96h1v1h-1zM56 96h1v1h-1zM20 94h1v4h-1zM57 99h1v1h-1zM20 98h2v3h-2zM109 101h1v1h-1zM61 102h1v1h-1zM54 99h1v5h-1zM53 104h1v1h-1zM58 105h1v1h-1zM62 106h1v1h-1zM50 103h1v8h-1zM53 107h1v6.5h-1zM21 111h1v2.5h-1z"/>
<path fill="#e28d8d" d="M51 12h1v1h-1zM30 13h1v3h-1zM50 16h1v1h-1zM49 17h3v2h-3zM26 19h1v1h-1zM49 19h2v1h-2zM41 20h1v1h-1zM41 25h1v1h-1zM41 29h1v1h-1zM26 30h1v1h-1zM50 31h1v1h-1zM49 34h1v1h-1zM45 34h3v2h-3zM18 36h1v1h-1zM34 36h1v1h-1zM18 38h1v1h-1zM22 39h1v1h-1zM80 41h1v1h-1zM96 42h1v1h-1zM80 43h1v1h-1zM17 46h1v1h-1zM85 47h1v1h-1zM16 49h1v2h-1zM38 50h1v1h-1zM76 62h1v1h-1zM16 73h1v1h-1zM16 75h1v2h-1zM76 80h1v2h-1zM16 79h1v4h-1zM16 85h1v4h-1zM16 91h1v1h-1zM16 95h1v6h-1zM16 107h1v2h-1zM16 110h1v1h-1z"/>
<path fill="#d86565" d="M52 12h1v1h-1zM54 12h1v1h-1zM23 21h1v1h-1zM26 24h1v2h-1zM28 23h1v6h-1zM38 30h1v1h-1zM49 30h1v1h-1zM32 31h2v1h-2zM20 32h1v1h-1zM32 32h1v1h-1zM56 37h1v1h-1zM58 37h1v1h-1zM22 37h2v2h-2zM32 38h1v1h-1zM83 41h1v1h-1zM109 41h1v1h-1zM95 43h1v1h-1zM111 42h1v3h-1zM106 42h1v4h-1zM55 46h1v1h-1zM72 46h1v1h-1zM74 46h2v1h-2zM94 46h1v1h-1zM85 48h1v1h-1zM38 48h1v2h-1zM76 49h1v2h-1zM72 51h1v1h-1zM74 57h2v1h-2zM80 55h1v8h-1zM85 55h1v8h-1zM74 66h1v1h-1zM18 64h1v6h-1zM74 67h2v3h-2zM75 70h1v2h-1zM74 72h2v1h-2zM18 76h1v6h-1zM74 83h1v1h-1zM74 84h2v1h-2zM18 86h1v2h-1zM80 86h1v3h-1zM85 86h1v3h-1zM18 93h1v1h-1zM74 96h1v1h-1zM92 105h1v1h-1zM74 108h2v1h-2zM98 109h1v1h-1zM74 109h1v4h-1zM18 108h1v5.5h-1zM74 113h2v0.5h-2z"/>
<path fill="#d55858" d="M53 12h1v1h-1zM27 17h1v1h-1zM22 14h1v6h-1zM39 20h2v1h-2zM22 21h1v1h-1zM28 22h1v1h-1zM37 21h1v3h-1zM26 29h1v1h-1zM20 30h1v2h-1zM18 37h1v1h-1zM57 37h1v1h-1zM38 37h1v2h-1zM56 38h1v1h-1zM58 38h1v2h-1zM110 42h1v4h-1zM96 44h1v2h-1zM55 45h1v1h-1zM57 45h1v1h-1zM94 45h1v1h-1zM73 46h1v1h-1zM80 46h1v1h-1zM109 46h1v1h-1zM17 47h1v1h-1zM85 49h1v1h-1zM72 47h1v4h-1zM80 54h1v1h-1zM74 55h1v1h-1zM74 56h2v1h-2zM74 60h2v1h-2zM18 56h1v8h-1zM80 63h1v1h-1zM85 63h1v1h-1zM74 64h2v2h-2zM75 66h1v1h-1zM18 70h1v6h-1zM80 71h1v8h-1zM85 76h1v3h-1zM18 82h1v1h-1zM75 83h1v1h-1zM80 83h1v3h-1zM18 85h1v1h-1zM85 85h1v1h-1zM18 88h1v1h-1zM74 85h2v5h-2zM74 90h1v1h-1zM18 92h1v1h-1zM18 94h1v1h-1zM74 95h2v1h-2zM80 89h1v8h-1zM85 89h1v8h-1zM75 96h1v1h-1zM74 97h2v1h-2zM74 98h1v2h-1zM18 98h1v4h-1zM80 101h1v7h-1zM18 107h1v1h-1z"/>
<path fill="#5858c0" d="M82 12h1v1h-1zM83 13h1v1h-1zM74 14h1v1h-1zM73 15h1v1h-1zM111 16h1v1h-1zM73 17h1v1h-1zM54 17h1v3h-1zM79 19h1v1h-1zM104 19h1v1h-1zM91 20h1v1h-1zM98 20h1v1h-1zM98 24h1v1h-1zM95 26h1v1h-1zM107 28h1v1h-1zM108 29h1v2h-1zM75 30h1v1h-1zM82 31h1v1h-1zM80 32h1v1h-1zM96 33h1v1h-1zM84 34h1v1h-1zM54 36h1v1h-1zM103 37h1v1h-1zM70 39h1v1h-1zM17 40h1v1h-1zM38 46h1v1h-1zM21 48h1v1h-1zM22 49h1v2h-1zM51 50h1v2h-1zM26 51h1v1h-1zM21 52h1v1h-1zM50 52h1v1h-1zM49 53h1v1h-1zM54 55h1v2h-1zM21 57h1v1h-1zM49 57h1v2h-1zM20 58h1v2h-1zM26 59h1v1h-1zM21 60h1v1h-1zM62 61h1v1h-1zM54 61h1v2h-1zM27 62h1v1h-1zM49 63h1v1h-1zM53 63h2v1h-2zM54 67h1v1h-1zM20 64h1v6h-1zM49 67h1v3h-1zM24 72h1v1h-1zM26 72h1v1h-1zM21 75h1v2h-1zM54 77h1v1h-1zM49 83h1v2h-1zM21 85h1v4h-1zM49 89h1v2h-1zM49 95h1v1h-1zM49 98h1v3h-1zM21 101h1v1h-1zM110 101h1v1h-1zM61 103h1v1h-1zM56 104h1v1h-1zM60 105h1v1h-1zM62 105h1v1h-1zM56 106h1v1h-1zM54 105h1v3h-1zM21 104h1v6h-1zM49 111h1v2.5h-1z"/>
<path fill="#1e1eaa" d="M83 12h1v1h-1zM110 15h1v1h-1zM110 17h1v1h-1zM96 18h1v1h-1zM95 19h1v1h-1zM54 23h1v3h-1zM95 24h1v2h-1zM54 29h1v1h-1zM111 31h1v1h-1zM81 32h1v1h-1zM85 34h1v1h-1zM25 44h1v1h-1zM38 45h1v1h-1zM25 46h1v1h-1zM28 49h1v1h-1zM21 49h1v2h-1zM25 51h1v1h-1zM26 60h1v1h-1zM61 61h1v1h-1zM53 65h1v1h-1zM24 70h1v2h-1zM53 79h1v1h-1zM28 85h1v1h-1zM57 94h1v1h-1zM110 102h1v1h-1zM57 104h1v1h-1zM61 104h1v1h-1zM61 106h1v1h-1zM77 111h1v1h-1z"/>
<path fill="#ebb2b2" d="M65 13h2v1h-2zM24 14h1v1h-1zM51 14h1v1h-1zM113 14h1v1h-1zM18 15h1v1h-1zM50 15h1v1h-1zM24 16h1v1h-1zM15 17h1v1h-1zM40 17h1v1h-1zM66 17h1v2h-1zM16 18h1v1h-1zM52 17h1v3h-1zM58 19h1v2h-1zM37 20h1v1h-1zM42 21h1v1h-1zM49 21h3v1h-3zM113 21h1v1h-1zM67 21h1v2h-1zM22 22h1v1h-1zM67 25h2v1h-2zM58 21h2v6h-2zM24 27h1v1h-1zM104 27h2v1h-2zM50 22h2v7h-2zM104 28h1v1h-1zM64 20h1v10h-1zM21 29h1v1h-1zM36 29h1v1h-1zM48 29h1v1h-1zM50 29h1v1h-1zM66 29h1v1h-1zM25 30h1v1h-1zM27 30h1v1h-1zM41 30h2v1h-2zM102 30h2v1h-2zM36 31h3v1h-3zM50 32h1v1h-1zM28 33h1v1h-1zM112 34h1v1h-1zM44 35h1v1h-1zM36 36h2v1h-2zM44 36h2v1h-2zM58 36h1v1h-1zM62 36h1v2h-1zM34 40h1v1h-1zM55 40h1v1h-1zM59 40h1v1h-1zM111 40h1v1h-1zM77 42h1v2h-1zM94 43h1v1h-1zM105 43h1v1h-1zM86 42h1v3h-1zM68 44h2v1h-2zM54 45h1v1h-1zM85 45h2v1h-2zM93 45h1v1h-1zM92 46h1v1h-1zM86 46h1v2h-1zM93 47h1v1h-1zM16 48h1v1h-1zM86 51h1v3h-1zM73 55h1v2h-1zM76 57h1v1h-1zM39 58h3v1h-3zM38 59h7v1h-7zM38 60h5v1h-5zM38 61h4v1h-4zM39 62h3v1h-3zM79 62h1v1h-1zM76 67h1v1h-1zM73 63h1v7h-1zM76 69h1v1h-1zM73 76h1v1h-1zM73 79h1v3h-1zM86 76h1v9h-1zM76 85h1v1h-1zM73 87h1v8h-1zM86 99h1v3h-1zM73 101h1v1h-1zM73 104h1v3h-1zM86 104h1v3h-1zM76 106h1v2h-1zM97 108h1v1h-1zM86 112h1v1.5h-1zM79 113h1v0.5h-1z"/>
<path fill="#d14a4a" d="M23 14h1v1h-1zM28 18h1v1h-1zM22 20h1v1h-1zM37 24h1v1h-1zM48 31h1v2h-1zM35 38h3v1h-3zM57 38h1v1h-1zM56 39h2v1h-2zM83 43h1v1h-1zM56 44h1v1h-1zM81 46h2v1h-2zM84 46h1v1h-1zM17 48h1v1h-1zM85 50h1v1h-1zM80 53h1v1h-1zM74 54h2v1h-2zM85 54h1v1h-1zM18 54h1v2h-1zM75 55h1v1h-1zM74 61h2v3h-2zM17 64h1v2h-1zM80 64h1v3h-1zM85 64h1v3h-1zM80 69h1v2h-1zM85 69h1v7h-1zM74 76h2v3h-2zM17 77h1v2h-1zM80 79h1v1h-1zM85 79h1v1h-1zM74 82h2v1h-2zM80 82h1v1h-1zM18 83h1v2h-1zM85 83h1v2h-1zM75 90h1v1h-1zM18 89h1v3h-1zM74 91h2v4h-2zM18 95h1v1h-1zM18 97h1v1h-1zM85 97h1v2h-1zM75 98h1v2h-1zM80 97h1v4h-1zM74 100h2v1h-2zM18 102h1v5h-1zM85 101h1v7h-1zM74 107h2v1h-2zM98 107h1v1h-1zM80 108h1v2h-1zM17 112h1v1.5h-1z"/>
<path fill="#1010a5" d="M74 15h2v2h-2zM110 16h1v1h-1zM96 19h2v2h-2zM96 24h2v2h-2zM55 21h1v9h-1zM96 34h2v4h-2zM70 37h2v2h-2zM25 45h1v1h-1zM27 48h1v2h-1zM50 50h1v2h-1zM25 52h1v1h-1zM26 61h1v1h-1zM61 62h1v1h-1zM27 73h1v2h-1zM28 86h1v1h-1zM57 95h1v1h-1zM57 105h1v1h-1zM61 105h1v1h-1z"/>
<path fill="#4a4aba" d="M73 16h1v1h-1zM111 17h1v1h-1zM55 17h1v2h-1zM91 19h1v1h-1zM104 20h1v1h-1zM54 31h1v4h-1zM95 34h1v1h-1zM54 35h2v1h-2zM98 35h1v1h-1zM97 38h1v1h-1zM22 43h1v1h-1zM26 44h1v1h-1zM34 47h1v1h-1zM43 47h1v1h-1zM26 47h1v2h-1zM26 50h1v1h-1zM28 50h1v1h-1zM49 52h1v1h-1zM21 58h1v2h-1zM49 59h1v4h-1zM26 62h1v1h-1zM62 62h1v1h-1zM24 69h1v1h-1zM21 64h1v11h-1zM49 80h1v3h-1zM27 87h1v1h-1zM49 85h1v4h-1zM49 91h1v1h-1zM109 102h1v1h-1zM21 102h1v2h-1zM56 105h1v1h-1zM49 110h1v1h-1zM77 110h1v1h-1z"/>
<path fill="#3b3bb5" d="M97 18h1v1h-1zM55 19h1v1h-1zM54 20h1v1h-1zM96 21h2v1h-2zM96 26h1v1h-1zM54 30h1v1h-1zM107 30h1v1h-1zM81 31h1v1h-1zM112 32h1v1h-1zM55 31h1v4h-1zM95 35h1v1h-1zM80 37h1v1h-1zM98 37h1v1h-1zM72 38h1v1h-1zM96 38h1v1h-1zM22 42h1v1h-1zM21 43h1v1h-1zM38 44h1v1h-1zM37 45h1v1h-1zM26 45h1v2h-1zM29 46h1v1h-1zM34 46h1v1h-1zM43 46h1v1h-1zM28 47h1v1h-1zM42 47h1v1h-1zM26 49h1v1h-1zM49 49h2v1h-2zM49 50h1v2h-1zM21 51h1v1h-1zM24 51h1v2h-1zM25 53h1v1h-1zM54 64h1v1h-1zM53 66h2v1h-2zM27 72h1v1h-1zM26 73h1v2h-1zM54 78h1v1h-1zM49 70h1v10h-1zM53 80h2v1h-2zM27 85h1v1h-1zM49 92h1v1h-1zM49 94h1v1h-1zM23 96h1v1h-1zM57 96h1v1h-1zM110 103h1v1h-1zM49 101h1v9h-1z"/>
<path fill="#ce3b3b" d="M28 19h1v1h-1zM23 15h1v6h-1zM28 21h1v1h-1zM37 25h1v4h-1zM33 37h5v1h-5zM33 38h2v1h-2zM81 41h2v1h-2zM108 41h1v1h-1zM81 43h1v1h-1zM109 42h1v4h-1zM56 46h1v1h-1zM83 46h1v1h-1zM95 46h1v1h-1zM84 47h1v1h-1zM18 47h1v2h-1zM37 48h1v2h-1zM73 47h3v5h-3zM17 49h2v3h-2zM80 52h1v1h-1zM85 51h1v3h-1zM18 52h1v2h-1zM74 52h2v2h-2zM17 55h1v2h-1zM81 61h1v2h-1zM84 61h1v2h-1zM17 61h1v3h-1zM80 67h1v2h-1zM85 67h1v2h-1zM17 66h1v4h-1zM74 73h2v1h-2zM74 75h1v1h-1zM17 76h1v1h-1zM74 79h2v1h-2zM85 80h1v1h-1zM17 79h1v3h-1zM80 80h1v2h-1zM74 81h1v1h-1zM85 82h1v1h-1zM17 86h1v2h-1zM17 92h1v3h-1zM18 96h1v1h-1zM85 99h1v2h-1zM74 101h2v1h-2zM74 104h2v3h-2zM17 108h1v4h-1zM85 108h1v5.5h-1zM80 110h1v3.5h-1z"/>
<path fill="#ca2d2d" d="M28 20h1v1h-1zM37 29h1v1h-1zM40 29h1v1h-1zM49 31h1v2h-1zM107 41h1v1h-1zM83 42h1v1h-1zM82 43h1v1h-1zM95 44h1v1h-1zM107 46h2v1h-2zM17 52h1v3h-1zM81 55h4v6h-4zM17 57h1v4h-1zM82 61h2v2h-2zM81 63h4v1h-4zM17 70h1v3h-1zM74 74h2v1h-2zM75 75h1v1h-1zM81 76h1v1h-1zM84 76h1v1h-1zM81 77h4v2h-4zM74 80h2v1h-2zM75 81h1v1h-1zM85 81h1v1h-1zM17 82h1v1h-1zM17 85h1v1h-1zM81 86h4v3h-4zM17 88h1v1h-1zM81 89h1v1h-1zM84 89h1v1h-1zM17 91h1v1h-1zM74 102h2v2h-2zM17 98h1v10h-1zM98 108h1v1h-1z"/>
<path fill="#8d8dd4" d="M81 20h1v1h-1zM103 21h1v1h-1zM75 19h1v4h-1zM80 22h1v1h-1zM79 23h2v1h-2zM99 23h1v2h-1zM80 24h1v1h-1zM79 25h2v1h-2zM106 29h1v2h-1zM74 30h1v1h-1zM82 33h1v1h-1zM56 33h1v2h-1zM80 36h1v1h-1zM20 41h1v1h-1zM22 41h1v1h-1zM45 42h2v1h-2zM26 43h1v1h-1zM43 45h1v1h-1zM39 46h1v1h-1zM65 46h1v1h-1zM25 47h1v1h-1zM35 47h1v1h-1zM29 48h1v1h-1zM24 49h1v1h-1zM30 49h1v1h-1zM57 49h1v1h-1zM60 49h1v1h-1zM27 51h1v1h-1zM53 52h1v2h-1zM25 54h1v1h-1zM57 54h1v1h-1zM60 54h1v2h-1zM50 54h1v3h-1zM25 57h1v1h-1zM25 58h2v1h-2zM61 56h1v4h-1zM57 58h1v2h-1zM28 61h1v1h-1zM25 62h1v1h-1zM25 63h2v1h-2zM50 66h1v1h-1zM61 66h1v1h-1zM24 67h3v2h-3zM60 67h1v3h-1zM26 69h1v1h-1zM56 64h1v9h-1zM61 70h1v3h-1zM23 72h1v1h-1zM24 73h1v1h-1zM53 74h1v1h-1zM57 73h1v3h-1zM25 75h1v1h-1zM60 76h1v1h-1zM56 76h1v4h-1zM60 79h1v3h-1zM57 80h1v2h-1zM25 83h2v1h-2zM56 83h1v2h-1zM24 84h2v1h-2zM29 84h1v1h-1zM24 85h1v1h-1zM60 85h1v1h-1zM61 86h1v1h-1zM24 88h1v1h-1zM27 88h1v1h-1zM53 89h1v2h-1zM57 89h1v2h-1zM61 91h1v2h-1zM58 94h1v1h-1zM61 94h1v1h-1zM58 96h1v1h-1zM26 96h1v2h-1zM50 96h1v5h-1zM61 98h1v3h-1zM56 99h1v2h-1zM57 101h1v1h-1zM111 102h1v1h-1zM53 101h1v3h-1zM56 103h1v1h-1zM60 103h1v1h-1zM25 105h3v2h-3zM23 107h1v1h-1zM25 107h1v1h-1zM56 107h1v1h-1zM60 107h1v1h-1zM61 108h1v5.5h-1zM57 112h1v1.5h-1z"/>
<path fill="#c31010" d="M38 21h2v1h-2zM38 22h3v4h-3zM38 26h2v3h-2zM27 18h1v12h-1zM38 29h1v1h-1zM107 42h2v4h-2zM81 48h3v3h-3zM81 51h4v3h-4zM82 54h2v1h-2zM82 64h2v1h-2zM81 65h4v6h-4zM81 73h4v2h-4zM82 75h2v1h-2zM81 79h4v6h-4zM82 95h2v1h-2zM81 96h4v6h-4zM82 106h2v1h-2zM81 107h4v6.5h-4z"/>
<path fill="#c61e1e" d="M40 21h1v1h-1zM40 26h1v3h-1zM39 29h1v1h-1zM81 42h2v1h-2zM56 45h1v1h-1zM95 45h1v1h-1zM80 47h4v1h-4zM84 48h1v3h-1zM80 48h1v4h-1zM81 54h1v1h-1zM84 54h1v1h-1zM81 64h1v1h-1zM84 64h1v1h-1zM81 71h4v2h-4zM17 73h1v3h-1zM81 75h1v1h-1zM84 75h1v1h-1zM82 76h2v1h-2zM17 83h1v2h-1zM81 85h4v1h-4zM82 89h2v1h-2zM17 89h1v2h-1zM81 90h4v5h-4zM81 95h1v1h-1zM84 95h1v1h-1zM17 95h1v3h-1zM81 102h4v4h-4zM81 106h1v1h-1zM84 106h1v1h-1z"/>
</g>
<rect x="15" y="7.2" width="52.4" height="2.4" fill="#d4553f"/>
<rect x="67.4" y="7.2" width="46" height="2.4" fill="#5ab9c9"/>
<rect x="15" y="10" width="98.4" height="103.5" fill="none" stroke="#aaa" stroke-width="0.4"/>
<text x="8" y="9.6" font-size="2.6" fill="#555" font-family="Liberation Sans, sans-serif">Group</text>
<text x="0.7" y="6.4" font-size="8.3" font-weight="bold" fill="#111" font-family="Liberation Sans, sans-serif">A</text>
<line x1="9" y1="11.57" x2="14.8" y2="11.57" stroke="#999" stroke-width="0.45"/>
<line x1="9" y1="14.7" x2="14.8" y2="14.7" stroke="#999" stroke-width="0.45"/>
<line x1="9" y1="11.57" x2="9" y2="14.7" stroke="#999" stroke-width="0.45"/>
<line x1="9.46" y1="17.84" x2="14.8" y2="17.84" stroke="#999" stroke-width="0.45"/>
<line x1="9.46" y1="20.98" x2="14.8" y2="20.98" stroke="#999" stroke-width="0.45"/>
<line x1="9.46" y1="17.84" x2="9.46" y2="20.98" stroke="#999" stroke-width="0.45"/>
<line x1="7.94" y1="13.14" x2="9" y2="13.14" stroke="#999" stroke-width="0.45"/>
<line x1="7.94" y1="19.41" x2="9.46" y2="19.41" stroke="#999" stroke-width="0.45"/>
<line x1="7.94" y1="13.14" x2="7.94" y2="19.41" stroke="#999" stroke-width="0.45"/>
<line x1="8.51" y1="24.11" x2="14.8" y2="24.11" stroke="#999" stroke-width="0.45"/>
<line x1="8.51" y1="27.25" x2="14.8" y2="27.25" stroke="#999" stroke-width="0.45"/>
<line x1="8.51" y1="24.11" x2="8.51" y2="27.25" stroke="#999" stroke-width="0.45"/>
<line x1="6.51" y1="16.27" x2="7.94" y2="16.27" stroke="#999" stroke-width="0.45"/>
<line x1="6.51" y1="25.68" x2="8.51" y2="25.68" stroke="#999" stroke-width="0.45"/>
<line x1="6.51" y1="16.27" x2="6.51" y2="25.68" stroke="#999" stroke-width="0.45"/>
<line x1="7.43" y1="30.39" x2="14.8" y2="30.39" stroke="#999" stroke-width="0.45"/>
<line x1="7.43" y1="33.52" x2="14.8" y2="33.52" stroke="#999" stroke-width="0.45"/>
<line x1="7.43" y1="30.39" x2="7.43" y2="33.52" stroke="#999" stroke-width="0.45"/>
<line x1="7.72" y1="36.66" x2="14.8" y2="36.66" stroke="#999" stroke-width="0.45"/>
<line x1="7.72" y1="39.8" x2="14.8" y2="39.8" stroke="#999" stroke-width="0.45"/>
<line x1="7.72" y1="36.66" x2="7.72" y2="39.8" stroke="#999" stroke-width="0.45"/>
<line x1="6.5" y1="31.95" x2="7.43" y2="31.95" stroke="#999" stroke-width="0.45"/>
<line x1="6.5" y1="38.23" x2="7.72" y2="38.23" stroke="#999" stroke-width="0.45"/>
<line x1="6.5" y1="31.95" x2="6.5" y2="38.23" stroke="#999" stroke-width="0.45"/>
<line x1="4.5" y1="20.98" x2="6.51" y2="20.98" stroke="#999" stroke-width="0.45"/>
<line x1="4.5" y1="35.09" x2="6.5" y2="35.09" stroke="#999" stroke-width="0.45"/>
<line x1="4.5" y1="20.98" x2="4.5" y2="35.09" stroke="#999" stroke-width="0.45"/>
<line x1="7.59" y1="42.93" x2="14.8" y2="42.93" stroke="#999" stroke-width="0.45"/>
<line x1="7.59" y1="46.07" x2="14.8" y2="46.07" stroke="#999" stroke-width="0.45"/>
<line x1="7.59" y1="42.93" x2="7.59" y2="46.07" stroke="#999" stroke-width="0.45"/>
<line x1="10.99" y1="52.34" x2="14.8" y2="52.34" stroke="#999" stroke-width="0.45"/>
<line x1="10.99" y1="55.48" x2="14.8" y2="55.48" stroke="#999" stroke-width="0.45"/>
<line x1="10.99" y1="52.34" x2="10.99" y2="55.48" stroke="#999" stroke-width="0.45"/>
<line x1="9.02" y1="49.2" x2="14.8" y2="49.2" stroke="#999" stroke-width="0.45"/>
<line x1="9.02" y1="53.91" x2="10.99" y2="53.91" stroke="#999" stroke-width="0.45"/>
<line x1="9.02" y1="49.2" x2="9.02" y2="53.91" stroke="#999" stroke-width="0.45"/>
<line x1="8.97" y1="58.61" x2="14.8" y2="58.61" stroke="#999" stroke-width="0.45"/>
<line x1="8.97" y1="61.75" x2="14.8" y2="61.75" stroke="#999" stroke-width="0.45"/>
<line x1="8.97" y1="58.61" x2="8.97" y2="61.75" stroke="#999" stroke-width="0.45"/>
<line x1="7.31" y1="51.56" x2="9.02" y2="51.56" stroke="#999" stroke-width="0.45"/>
<line x1="7.31" y1="60.18" x2="8.97" y2="60.18" stroke="#999" stroke-width="0.45"/>
<line x1="7.31" y1="51.56" x2="7.31" y2="60.18" stroke="#999" stroke-width="0.45"/>
<line x1="5.95" y1="44.5" x2="7.59" y2="44.5" stroke="#999" stroke-width="0.45"/>
<line x1="5.95" y1="55.87" x2="7.31" y2="55.87" stroke="#999" stroke-width="0.45"/>
<line x1="5.95" y1="44.5" x2="5.95" y2="55.87" stroke="#999" stroke-width="0.45"/>
<line x1="8.97" y1="64.89" x2="14.8" y2="64.89" stroke="#999" stroke-width="0.45"/>
<line x1="8.97" y1="68.02" x2="14.8" y2="68.02" stroke="#999" stroke-width="0.45"/>
<line x1="8.97" y1="64.89" x2="8.97" y2="68.02" stroke="#999" stroke-width="0.45"/>
<line x1="10.64" y1="71.16" x2="14.8" y2="71.16" stroke="#999" stroke-width="0.45"/>
<line x1="10.64" y1="74.3" x2="14.8" y2="74.3" stroke="#999" stroke-width="0.45"/>
<line x1="10.64" y1="71.16" x2="10.64" y2="74.3" stroke="#999" stroke-width="0.45"/>
<line x1="9.22" y1="72.73" x2="10.64" y2="72.73" stroke="#999" stroke-width="0.45"/>
<line x1="9.22" y1="77.43" x2="14.8" y2="77.43" stroke="#999" stroke-width="0.45"/>
<line x1="9.22" y1="72.73" x2="9.22" y2="77.43" stroke="#999" stroke-width="0.45"/>
<line x1="7.33" y1="66.45" x2="8.97" y2="66.45" stroke="#999" stroke-width="0.45"/>
<line x1="7.33" y1="75.08" x2="9.22" y2="75.08" stroke="#999" stroke-width="0.45"/>
<line x1="7.33" y1="66.45" x2="7.33" y2="75.08" stroke="#999" stroke-width="0.45"/>
<line x1="11.64" y1="86.84" x2="14.8" y2="86.84" stroke="#999" stroke-width="0.45"/>
<line x1="11.64" y1="89.98" x2="14.8" y2="89.98" stroke="#999" stroke-width="0.45"/>
<line x1="11.64" y1="86.84" x2="11.64" y2="89.98" stroke="#999" stroke-width="0.45"/>
<line x1="10.4" y1="83.7" x2="14.8" y2="83.7" stroke="#999" stroke-width="0.45"/>
<line x1="10.4" y1="88.41" x2="11.64" y2="88.41" stroke="#999" stroke-width="0.45"/>
<line x1="10.4" y1="83.7" x2="10.4" y2="88.41" stroke="#999" stroke-width="0.45"/>
<line x1="9.21" y1="80.57" x2="14.8" y2="80.57" stroke="#999" stroke-width="0.45"/>
<line x1="9.21" y1="86.06" x2="10.4" y2="86.06" stroke="#999" stroke-width="0.45"/>
<line x1="9.21" y1="80.57" x2="9.21" y2="86.06" stroke="#999" stroke-width="0.45"/>
<line x1="12.52" y1="96.25" x2="14.8" y2="96.25" stroke="#999" stroke-width="0.45"/>
<line x1="12.52" y1="99.39" x2="14.8" y2="99.39" stroke="#999" stroke-width="0.45"/>
<line x1="12.52" y1="96.25" x2="12.52" y2="99.39" stroke="#999" stroke-width="0.45"/>
<line x1="10.53" y1="93.11" x2="14.8" y2="93.11" stroke="#999" stroke-width="0.45"/>
<line x1="10.53" y1="97.82" x2="12.52" y2="97.82" stroke="#999" stroke-width="0.45"/>
<line x1="10.53" y1="93.11" x2="10.53" y2="97.82" stroke="#999" stroke-width="0.45"/>
<line x1="10.75" y1="102.52" x2="14.8" y2="102.52" stroke="#999" stroke-width="0.45"/>
<line x1="10.75" y1="105.66" x2="14.8" y2="105.66" stroke="#999" stroke-width="0.45"/>
<line x1="10.75" y1="102.52" x2="10.75" y2="105.66" stroke="#999" stroke-width="0.45"/>
<line x1="10.68" y1="108.8" x2="14.8" y2="108.8" stroke="#999" stroke-width="0.45"/>
<line x1="10.68" y1="111.93" x2="14.8" y2="111.93" stroke="#999" stroke-width="0.45"/>
<line x1="10.68" y1="108.8" x2="10.68" y2="111.93" stroke="#999" stroke-width="0.45"/>
<line x1="9.85" y1="104.09" x2="10.75" y2="104.09" stroke="#999" stroke-width="0.45"/>
<line x1="9.85" y1="110.36" x2="10.68" y2="110.36" stroke="#999" stroke-width="0.45"/>
<line x1="9.85" y1="104.09" x2="9.85" y2="110.36" stroke="#999" stroke-width="0.45"/>
<line x1="9.01" y1="95.47" x2="10.53" y2="95.47" stroke="#999" stroke-width="0.45"/>
<line x1="9.01" y1="107.23" x2="9.85" y2="107.23" stroke="#999" stroke-width="0.45"/>
<line x1="9.01" y1="95.47" x2="9.01" y2="107.23" stroke="#999" stroke-width="0.45"/>
<line x1="7.51" y1="83.31" x2="9.21" y2="83.31" stroke="#999" stroke-width="0.45"/>
<line x1="7.51" y1="101.35" x2="9.01" y2="101.35" stroke="#999" stroke-width="0.45"/>
<line x1="7.51" y1="83.31" x2="7.51" y2="101.35" stroke="#999" stroke-width="0.45"/>
<line x1="6.45" y1="70.77" x2="7.33" y2="70.77" stroke="#999" stroke-width="0.45"/>
<line x1="6.45" y1="92.33" x2="7.51" y2="92.33" stroke="#999" stroke-width="0.45"/>
<line x1="6.45" y1="70.77" x2="6.45" y2="92.33" stroke="#999" stroke-width="0.45"/>
<line x1="4.4" y1="50.18" x2="5.95" y2="50.18" stroke="#999" stroke-width="0.45"/>
<line x1="4.4" y1="81.55" x2="6.45" y2="81.55" stroke="#999" stroke-width="0.45"/>
<line x1="4.4" y1="50.18" x2="4.4" y2="81.55" stroke="#999" stroke-width="0.45"/>
<line x1="2.2" y1="28.03" x2="4.5" y2="28.03" stroke="#999" stroke-width="0.45"/>
<line x1="2.2" y1="65.87" x2="4.4" y2="65.87" stroke="#999" stroke-width="0.45"/>
<line x1="2.2" y1="28.03" x2="2.2" y2="65.87" stroke="#999" stroke-width="0.45"/>
<g opacity="0.99">
<text x="115" y="13.7" font-size="2.55" fill="#333" textLength="40" lengthAdjust="spacingAndGlyphs" font-family="Liberation Sans, sans-serif">KEGG_FATTY_OXYTOCIN_LYSINE_</text>
<text x="115" y="16.79" font-size="2.55" fill="#333" textLength="18" lengthAdjust="spacingAndGlyphs" font-family="Liberation Sans, sans-serif">KEGG_SIGNALI</text>
<text x="115" y="19.89" font-size="2.55" fill="#333" textLength="22" lengthAdjust="spacingAndGlyphs" font-family="Liberation Sans, sans-serif">KEGG_PATHWAY_HI</text>
<text x="115" y="22.98" font-size="2.55" fill="#333" textLength="34.5" lengthAdjust="spacingAndGlyphs" font-family="Liberation Sans, sans-serif">KEGG_RENIN_METABOLISM_A</text>
<text x="115" y="26.08" font-size="2.55" fill="#333" textLength="21" lengthAdjust="spacingAndGlyphs" font-family="Liberation Sans, sans-serif">KEGG_TRYPTOPHA</text>
<text x="115" y="29.17" font-size="2.55" fill="#333" textLength="20.5" lengthAdjust="spacingAndGlyphs" font-family="Liberation Sans, sans-serif">KEGG_SIGNALING</text>
<text x="115" y="32.26" font-size="2.55" fill="#333" textLength="16" lengthAdjust="spacingAndGlyphs" font-family="Liberation Sans, sans-serif">KEGG_VALINE</text>
<text x="115" y="35.36" font-size="2.55" fill="#333" textLength="36" lengthAdjust="spacingAndGlyphs" font-family="Liberation Sans, sans-serif">KEGG_INSULIN_BIOSYNTHESI</text>
<text x="115" y="38.45" font-size="2.55" fill="#333" textLength="21" lengthAdjust="spacingAndGlyphs" font-family="Liberation Sans, sans-serif">KEGG_SIGNALING</text>
<text x="115" y="44.64" font-size="2.55" fill="#333" textLength="33" lengthAdjust="spacingAndGlyphs" font-family="Liberation Sans, sans-serif">KEGG_PATHWAY_DEGRADATI</text>
<text x="115" y="47.73" font-size="2.55" fill="#333" textLength="32" lengthAdjust="spacingAndGlyphs" font-family="Liberation Sans, sans-serif">KEGG_DEGRADATION_PATHW</text>
<text x="115" y="50.83" font-size="2.55" fill="#333" textLength="58" lengthAdjust="spacingAndGlyphs" font-family="Liberation Sans, sans-serif">KEGG_CELL_PATHWAY_RENIN_DEGRADATION_SIGN</text>
<text x="115" y="53.92" font-size="2.55" fill="#333" textLength="20.5" lengthAdjust="spacingAndGlyphs" font-family="Liberation Sans, sans-serif">KEGG_HISTIDINE</text>
<text x="115" y="57.02" font-size="2.55" fill="#333" textLength="33" lengthAdjust="spacingAndGlyphs" font-family="Liberation Sans, sans-serif">KEGG_TRYPTOPHAN_METABO</text>
<text x="115" y="60.11" font-size="2.55" fill="#333" textLength="28" lengthAdjust="spacingAndGlyphs" font-family="Liberation Sans, sans-serif">KEGG_CELL_EXPORT_EX</text>
<text x="115" y="63.2" font-size="2.55" fill="#333" textLength="27.4" lengthAdjust="spacingAndGlyphs" font-family="Liberation Sans, sans-serif">KEGG_TRYPTOPHAN_SI</text>
<text x="115" y="66.3" font-size="2.55" fill="#333" textLength="28" lengthAdjust="spacingAndGlyphs" font-family="Liberation Sans, sans-serif">KEGG_TRYPTOPHAN_TRY</text>
<text x="115" y="69.39" font-size="2.55" fill="#333" textLength="45.8" lengthAdjust="spacingAndGlyphs" font-family="Liberation Sans, sans-serif">KEGG_LYSINE_SIGNALING_CELL_SIGN</text>
<text x="115" y="72.49" font-size="2.55" fill="#333" textLength="56.3" lengthAdjust="spacingAndGlyphs" font-family="Liberation Sans, sans-serif">KEGG_RENIN_STEROID_OXYTOCIN_ADHESION_D</text>
<text x="115" y="75.58" font-size="2.55" fill="#333" textLength="45" lengthAdjust="spacingAndGlyphs" font-family="Liberation Sans, sans-serif">KEGG_OXYTOCIN_RENIN_METABOLISM_</text>
<text x="115" y="78.67" font-size="2.55" fill="#333" textLength="23" lengthAdjust="spacingAndGlyphs" font-family="Liberation Sans, sans-serif">KEGG_ADHESION_R</text>
<text x="115" y="81.77" font-size="2.55" fill="#333" textLength="15.1" lengthAdjust="spacingAndGlyphs" font-family="Liberation Sans, sans-serif">KEGG_HISTI</text>
<text x="115" y="84.86" font-size="2.55" fill="#333" textLength="30" lengthAdjust="spacingAndGlyphs" font-family="Liberation Sans, sans-serif">KEGG_HEPARAN_GLYCAN_</text>
<text x="115" y="87.96" font-size="2.55" fill="#333" textLength="45" lengthAdjust="spacingAndGlyphs" font-family="Liberation Sans, sans-serif">KEGG_TRYPTOPHAN_TRYPTOPHAN_EXPO</text>
<text x="115" y="91.05" font-size="2.55" fill="#333" textLength="42.3" lengthAdjust="spacingAndGlyphs" font-family="Liberation Sans, sans-serif">KEGG_BIOSYNTHESIS_ACID_METABO</text>
<text x="115" y="94.14" font-size="2.55" fill="#333" textLength="31.8" lengthAdjust="spacingAndGlyphs" font-family="Liberation Sans, sans-serif">KEGG_RENIN_SULFATE_PA</text>
<text x="115" y="97.24" font-size="2.55" fill="#333" textLength="23.9" lengthAdjust="spacingAndGlyphs" font-family="Liberation Sans, sans-serif">KEGG_TRYPTOPHAN_</text>
<text x="115" y="100.33" font-size="2.55" fill="#333" textLength="29" lengthAdjust="spacingAndGlyphs" font-family="Liberation Sans, sans-serif">KEGG_PROTEIN_BIOSYNT</text>
<text x="115" y="103.43" font-size="2.55" fill="#333" textLength="45" lengthAdjust="spacingAndGlyphs" font-family="Liberation Sans, sans-serif">KEGG_TYROSINE_HEPARAN_RENIN_DEG</text>
<text x="115" y="106.52" font-size="2.55" fill="#333" textLength="39.7" lengthAdjust="spacingAndGlyphs" font-family="Liberation Sans, sans-serif">KEGG_JUNCTION_FATTY_PURINE_</text>
<text x="115" y="109.61" font-size="2.55" fill="#333" textLength="26.5" lengthAdjust="spacingAndGlyphs" font-family="Liberation Sans, sans-serif">KEGG_VALINE_PURINE</text>
<text x="115" y="112.71" font-size="2.55" fill="#333" textLength="24.8" lengthAdjust="spacingAndGlyphs" font-family="Liberation Sans, sans-serif">KEGG_ACID_ADHESIO</text>
</g>
<defs><linearGradient id="cb"><stop offset="0" stop-color="#2020b8"/><stop offset="0.28" stop-color="#a0a0e6"/><stop offset="0.52" stop-color="#f4eef2"/><stop offset="0.72" stop-color="#f2c8b8"/><stop offset="1" stop-color="#d85a5a"/></linearGradient></defs>
<rect x="177" y="14" width="18.5" height="3.5" fill="url(#cb)"/>
<text x="177" y="13" font-size="2.2" fill="#666" font-family="Liberation Sans, sans-serif">Estimate</text>
<text x="177.5" y="20.6" font-size="2" fill="#555" text-anchor="middle" font-family="Liberation Sans, sans-serif">-2</text>
<text x="181.9" y="20.6" font-size="2" fill="#555" text-anchor="middle" font-family="Liberation Sans, sans-serif">-1</text>
<text x="186.3" y="20.6" font-size="2" fill="#555" text-anchor="middle" font-family="Liberation Sans, sans-serif">0</text>
<text x="190.7" y="20.6" font-size="2" fill="#555" text-anchor="middle" font-family="Liberation Sans, sans-serif">1</text>
<text x="195.1" y="20.6" font-size="2" fill="#555" text-anchor="middle" font-family="Liberation Sans, sans-serif">2</text>
<text x="177" y="23" font-size="2.2" fill="#666" font-family="Liberation Sans, sans-serif">Group</text>
<rect x="177.2" y="23.7" width="2.2" height="2.2" fill="#8a4a40"/><text x="180" y="25.6" font-size="2" fill="#777" font-family="Liberation Sans, sans-serif">Control</text>
<rect x="177.2" y="26.6" width="2.2" height="2.2" fill="#5a6a9a"/><text x="180" y="28.5" font-size="2" fill="#777" font-family="Liberation Sans, sans-serif">Disease</text>
<text x="204.8" y="6.6" font-size="8.3" font-weight="bold" fill="#111" font-family="Liberation Sans, sans-serif">B</text>
<text x="291.2" y="8.05" font-size="2.3" fill="#333" textLength="6.7" lengthAdjust="spacingAndGlyphs" font-family="Liberation Sans, sans-serif">Group</text>
<rect x="299.4" y="5.9" width="2.6" height="2.6" fill="#7a3432" stroke="#3a1a18" stroke-width="0.35"/>
<text x="304.1" y="8.05" font-size="2.3" fill="#444" textLength="6.2" lengthAdjust="spacingAndGlyphs" font-family="Liberation Sans, sans-serif">Control</text>
<rect x="311.8" y="5.9" width="2.6" height="2.6" fill="#3a6a70" stroke="#1a3438" stroke-width="0.35"/>
<text x="316" y="8.05" font-size="2.3" fill="#444" textLength="6.7" lengthAdjust="spacingAndGlyphs" font-family="Liberation Sans, sans-serif">Disease</text>
<line x1="218.4" y1="12.3" x2="218.4" y2="89.4" stroke="#888" stroke-width="0.5"/>
<line x1="218.4" y1="89.4" x2="395" y2="89.4" stroke="#aaa" stroke-width="0.5"/>
<line x1="217.4" y1="30.2" x2="218.4" y2="30.2" stroke="#888" stroke-width="0.4"/>
<text x="213.2" y="31.1" font-size="2.6" font-weight="bold" fill="#222" font-family="Liberation Sans, sans-serif">0.6</text>
<line x1="217.4" y1="50.9" x2="218.4" y2="50.9" stroke="#888" stroke-width="0.4"/>
<text x="213.2" y="51.8" font-size="2.6" font-weight="bold" fill="#222" font-family="Liberation Sans, sans-serif">0.4</text>
<line x1="217.4" y1="70.9" x2="218.4" y2="70.9" stroke="#888" stroke-width="0.4"/>
<text x="213.2" y="71.8" font-size="2.6" font-weight="bold" fill="#222" font-family="Liberation Sans, sans-serif">0.2</text>
<text transform="translate(211.3,51) rotate(-90)"  font-size="2.6" font-weight="bold" fill="#333" text-anchor="middle" textLength="28" lengthAdjust="spacingAndGlyphs" font-family="Liberation Sans, sans-serif">Estimate cell Score value</text>
<line x1="223.1" y1="89.4" x2="223.1" y2="90.30000000000001" stroke="#999" stroke-width="0.35"/>
<line x1="230.34" y1="89.4" x2="230.34" y2="90.30000000000001" stroke="#999" stroke-width="0.35"/>
<line x1="237.58" y1="89.4" x2="237.58" y2="90.30000000000001" stroke="#999" stroke-width="0.35"/>
<line x1="244.82" y1="89.4" x2="244.82" y2="90.30000000000001" stroke="#999" stroke-width="0.35"/>
<line x1="252.06" y1="89.4" x2="252.06" y2="90.30000000000001" stroke="#999" stroke-width="0.35"/>
<line x1="259.3" y1="89.4" x2="259.3" y2="90.30000000000001" stroke="#999" stroke-width="0.35"/>
<line x1="266.54" y1="89.4" x2="266.54" y2="90.30000000000001" stroke="#999" stroke-width="0.35"/>
<line x1="273.78" y1="89.4" x2="273.78" y2="90.30000000000001" stroke="#999" stroke-width="0.35"/>
<line x1="281.02" y1="89.4" x2="281.02" y2="90.30000000000001" stroke="#999" stroke-width="0.35"/>
<line x1="288.26" y1="89.4" x2="288.26" y2="90.30000000000001" stroke="#999" stroke-width="0.35"/>
<line x1="295.5" y1="89.4" x2="295.5" y2="90.30000000000001" stroke="#999" stroke-width="0.35"/>
<line x1="302.74" y1="89.4" x2="302.74" y2="90.30000000000001" stroke="#999" stroke-width="0.35"/>
<line x1="309.98" y1="89.4" x2="309.98" y2="90.30000000000001" stroke="#999" stroke-width="0.35"/>
<line x1="317.22" y1="89.4" x2="317.22" y2="90.30000000000001" stroke="#999" stroke-width="0.35"/>
<line x1="324.46" y1="89.4" x2="324.46" y2="90.30000000000001" stroke="#999" stroke-width="0.35"/>
<line x1="331.7" y1="89.4" x2="331.7" y2="90.30000000000001" stroke="#999" stroke-width="0.35"/>
<line x1="338.94" y1="89.4" x2="338.94" y2="90.30000000000001" stroke="#999" stroke-width="0.35"/>
<line x1="346.18" y1="89.4" x2="346.18" y2="90.30000000000001" stroke="#999" stroke-width="0.35"/>
<line x1="353.42" y1="89.4" x2="353.42" y2="90.30000000000001" stroke="#999" stroke-width="0.35"/>
<line x1="360.66" y1="89.4" x2="360.66" y2="90.30000000000001" stroke="#999" stroke-width="0.35"/>
<line x1="367.9" y1="89.4" x2="367.9" y2="90.30000000000001" stroke="#999" stroke-width="0.35"/>
<line x1="375.14" y1="89.4" x2="375.14" y2="90.30000000000001" stroke="#999" stroke-width="0.35"/>
<line x1="382.38" y1="89.4" x2="382.38" y2="90.30000000000001" stroke="#999" stroke-width="0.35"/>
<line x1="389.62" y1="89.4" x2="389.62" y2="90.30000000000001" stroke="#999" stroke-width="0.35"/>
<path fill="none" stroke="#adadad" stroke-width="0.6" d="M221.35 25.7V65.6M224.85 34.6V76.7M228.59 22.4V84.5M232.09 22.4V81.2M235.83 34.6V63.4M239.33 28V65.6M243.07 16.9V79M246.57 21.3V85.6M250.31 32.4V74.5M253.81 30.2V74.5M257.55 23.5V81.2M261.05 28V76.7M264.79 28V74.5M268.29 24.6V71.2M272.03 28V70M275.53 24.6V67.9M279.27 30.2V70M282.77 26.8V69M286.51 18V81.2M290.01 16.9V81.2M293.75 22.4V65.6M297.25 26.8V74.5M300.99 23.5V79M304.49 23.5V79M308.23 20.7V74M311.73 19.5V78.9M315.47 24.2V74M318.97 24.2V78.9M322.71 26.6V71.8M326.21 26.6V69.4M329.95 24.2V69.4M333.45 31.4V64.6M337.19 25.4V71.8M340.69 25.4V69.4M344.43 26.6V64.6M347.93 32.5V69.4M351.67 41V67M355.17 21.9V74M358.91 24.2V74M362.41 29V74M366.15 38.5V71.8M369.65 30.2V62.3M373.39 33.8V78.9M376.89 20.7V78.9M380.63 21.9V81.3M384.13 26.6V69.4M387.87 16V74M391.37 29V78.9"/>
<path fill="#dc6a58" stroke="#b84a40" stroke-width="0.4" d="M220 35.8h2.7v21.8h-2.7zM227.24 31h2.7v25.7h-2.7zM234.48 49h2.7v11.5h-2.7zM241.72 28.3h2.7v26.5h-2.7zM248.96 45h2.7v17.3h-2.7zM256.2 42.5h2.7v18.9h-2.7zM263.44 45.3h2.7v18h-2.7zM270.68 40.6h2.7v18.9h-2.7zM277.92 46.8h2.7v17.8h-2.7zM285.16 34h2.7v21.7h-2.7zM292.4 33h2.7v19.9h-2.7zM299.64 35h2.7v22.6h-2.7zM306.88 32h2.7v23.7h-2.7zM314.12 39.2h2.7v18.4h-2.7zM321.36 36.2h2.7v17.6h-2.7zM328.6 39.6h2.7v18h-2.7zM335.84 38.7h2.7v17h-2.7zM343.08 39.2h2.7v13.7h-2.7zM350.32 50.6h2.7v8h-2.7zM357.56 45.3h2.7v23.7h-2.7zM364.8 46.3h2.7v11.3h-2.7zM372.04 48h2.7v20h-2.7zM379.28 34h2.7v27.4h-2.7zM386.52 31h2.7v28.5h-2.7z"/>
<path fill="#6aaed0" stroke="#3f9aa8" stroke-width="0.4" d="M223.5 41.5h2.7v15.2h-2.7zM230.74 48h2.7v16.6h-2.7zM237.98 41.5h2.7v13.3h-2.7zM245.22 28.3h2.7v27.4h-2.7zM252.46 37.7h2.7v21.8h-2.7zM259.7 39.6h2.7v19.9h-2.7zM266.94 37.7h2.7v21.8h-2.7zM274.18 39.6h2.7v15.2h-2.7zM281.42 41.5h2.7v15.2h-2.7zM288.66 27.3h2.7v26.5h-2.7zM295.9 39.6h2.7v17.1h-2.7zM303.14 35.8h2.7v23.7h-2.7zM310.38 33h2.7v34h-2.7zM317.62 40.6h2.7v20.8h-2.7zM324.86 37.3h2.7v14.7h-2.7zM332.1 37.7h2.7v9.5h-2.7zM339.34 38.7h2.7v16.1h-2.7zM346.58 43.4h2.7v13.3h-2.7zM353.82 42h2.7v18.5h-2.7zM361.06 36.8h2.7v18.9h-2.7zM368.3 42.5h2.7v12.3h-2.7zM375.54 33h2.7v25.6h-2.7zM382.78 33h2.7v19.9h-2.7zM390.02 31h2.7v30.4h-2.7z"/>
<path fill="none" stroke="#8a2a20" stroke-width="0.5" d="M220 49.7h2.7M227.24 47h2.7M234.48 52h2.7M241.72 40.6h2.7M248.96 52h2.7M256.2 52h2.7M263.44 55.7h2.7M270.68 50h2.7M277.92 55.7h2.7M285.16 44.4h2.7M292.4 45.3h2.7M299.64 47h2.7M306.88 44.4h2.7M314.12 48.7h2.7M321.36 44.4h2.7M328.6 48h2.7M335.84 44.4h2.7M343.08 45.3h2.7M350.32 54.4h2.7M357.56 61.4h2.7M364.8 51h2.7M372.04 63.3h2.7M379.28 38.7h2.7M386.52 42.5h2.7"/>
<path fill="none" stroke="#1f6f80" stroke-width="0.5" d="M223.5 49h2.7M230.74 53.8h2.7M237.98 47.6h2.7M245.22 44.4h2.7M252.46 44.4h2.7M259.7 52h2.7M266.94 48h2.7M274.18 46h2.7M281.42 50h2.7M288.66 47h2.7M295.9 48h2.7M303.14 44.4h2.7M310.38 51h2.7M317.62 50h2.7M324.86 45.3h2.7M332.1 41.5h2.7M339.34 45.3h2.7M346.58 50h2.7M353.82 49h2.7M361.06 47h2.7M368.3 49h2.7M375.54 48h2.7M382.78 39.6h2.7M390.02 42h2.7"/>
<path fill="#333" fill-opacity="0.75" d="M228.2 84.3h.8v.8h-.8zM235 32.5h.8v.8h-.8zM264.2 75.8h.8v.8h-.8zM272 26.1h.8v.8h-.8zM282.5 68.8h.8v.8h-.8zM286.6 81.7h.8v.8h-.8zM307.4 73.8h.8v.8h-.8zM340.7 69.4h.8v.8h-.8zM348.1 70.1h.8v.8h-.8zM369 27.5h.8v.8h-.8zM384 24.3h.8v.8h-.8zM387.4 15.5h.8v.8h-.8zM390.8 79.7h.8v.8h-.8z"/>
<path fill="none" stroke="#2a2a2a" stroke-width="1.25" stroke-opacity="0.9" stroke-linecap="round" d="M223.1 91.8L216.1 103.9M230.3 91.8L221.8 106.5M237.6 91.8L230.6 103.9M244.8 91.8L239.3 101.3M252.1 91.8L242.6 108.3M259.3 91.8L244.3 117.8M266.5 91.8L250 120.4M273.8 91.8L261.3 113.5M281 91.8L267.5 115.2M288.3 91.8L277.3 110.9M295.5 91.8L287 106.5M302.7 91.8L292.7 109.1M310 91.8L304.5 101.3M317.2 91.8L307.7 108.3M324.5 91.8L316 106.5M331.7 91.8L322.7 107.4M338.9 91.8L326.9 112.6M346.2 91.8L333.2 114.3M353.4 91.8L343.9 108.3M360.7 91.8L349.7 110.9M367.9 91.8L361.4 103.1M375.1 91.8L367.6 104.8M382.4 91.8L373.9 106.5M389.6 91.8L383.6 102.2"/>
<text x="230.2" y="14.8" font-size="2.2" fill="#999" text-anchor="middle" font-family="Liberation Sans, sans-serif">**</text>
<text x="237.4" y="14.8" font-size="2.2" fill="#999" text-anchor="middle" font-family="Liberation Sans, sans-serif">**</text>
<text x="1.4" y="135.8" font-size="8.3" font-weight="bold" fill="#111" font-family="Liberation Sans, sans-serif">C</text>
<text x="87.9" y="137.25" font-size="2.2" fill="#333" textLength="6.1" lengthAdjust="spacingAndGlyphs" font-family="Liberation Sans, sans-serif">Group</text>
<rect x="94.6" y="135.1" width="2.6" height="2.6" fill="#7a3432" stroke="#3a1a18" stroke-width="0.35"/>
<text x="99.7" y="137.25" font-size="2.2" fill="#444" textLength="6.2" lengthAdjust="spacingAndGlyphs" font-family="Liberation Sans, sans-serif">Control</text>
<rect x="107" y="135.1" width="2.6" height="2.6" fill="#3a6a70" stroke="#1a3438" stroke-width="0.35"/>
<text x="110.4" y="137.25" font-size="2.2" fill="#444" textLength="4.5" lengthAdjust="spacingAndGlyphs" font-family="Liberation Sans, sans-serif">NASH</text>
<line x1="8.8" y1="141.4" x2="8.8" y2="237.2" stroke="#999" stroke-width="0.5"/>
<line x1="8.8" y1="237.2" x2="193" y2="237.2" stroke="#aaa" stroke-width="0.5"/>
<line x1="7.8" y1="149.5" x2="8.8" y2="149.5" stroke="#888" stroke-width="0.4"/>
<text x="7.5" y="150.35" font-size="2.4" font-weight="bold" fill="#333" text-anchor="end" font-family="Liberation Sans, sans-serif">100</text>
<line x1="7.8" y1="172" x2="8.8" y2="172" stroke="#888" stroke-width="0.4"/>
<text x="7.5" y="172.85" font-size="2.4" font-weight="bold" fill="#333" text-anchor="end" font-family="Liberation Sans, sans-serif">75</text>
<line x1="7.8" y1="194" x2="8.8" y2="194" stroke="#888" stroke-width="0.4"/>
<text x="7.5" y="194.85" font-size="2.4" font-weight="bold" fill="#333" text-anchor="end" font-family="Liberation Sans, sans-serif">50</text>
<line x1="7.8" y1="216" x2="8.8" y2="216" stroke="#888" stroke-width="0.4"/>
<text x="7.5" y="216.85" font-size="2.4" font-weight="bold" fill="#333" text-anchor="end" font-family="Liberation Sans, sans-serif">25</text>
<text transform="translate(3.2,189) rotate(-90)" font-size="2.5" font-weight="bold" fill="#333" text-anchor="middle" textLength="19" lengthAdjust="spacingAndGlyphs" font-family="Liberation Sans, sans-serif">Expression level</text>
<line x1="12.3" y1="237.2" x2="12.3" y2="238" stroke="#999" stroke-width="0.3"/>
<line x1="17.54" y1="237.2" x2="17.54" y2="238" stroke="#999" stroke-width="0.3"/>
<line x1="22.78" y1="237.2" x2="22.78" y2="238" stroke="#999" stroke-width="0.3"/>
<line x1="28.02" y1="237.2" x2="28.02" y2="238" stroke="#999" stroke-width="0.3"/>
<line x1="33.26" y1="237.2" x2="33.26" y2="238" stroke="#999" stroke-width="0.3"/>
<line x1="38.5" y1="237.2" x2="38.5" y2="238" stroke="#999" stroke-width="0.3"/>
<line x1="43.74" y1="237.2" x2="43.74" y2="238" stroke="#999" stroke-width="0.3"/>
<line x1="48.98" y1="237.2" x2="48.98" y2="238" stroke="#999" stroke-width="0.3"/>
<line x1="54.22" y1="237.2" x2="54.22" y2="238" stroke="#999" stroke-width="0.3"/>
<line x1="59.46" y1="237.2" x2="59.46" y2="238" stroke="#999" stroke-width="0.3"/>
<line x1="64.7" y1="237.2" x2="64.7" y2="238" stroke="#999" stroke-width="0.3"/>
<line x1="69.94" y1="237.2" x2="69.94" y2="238" stroke="#999" stroke-width="0.3"/>
<line x1="75.18" y1="237.2" x2="75.18" y2="238" stroke="#999" stroke-width="0.3"/>
<line x1="80.42" y1="237.2" x2="80.42" y2="238" stroke="#999" stroke-width="0.3"/>
<line x1="85.66" y1="237.2" x2="85.66" y2="238" stroke="#999" stroke-width="0.3"/>
<line x1="90.9" y1="237.2" x2="90.9" y2="238" stroke="#999" stroke-width="0.3"/>
<line x1="96.14" y1="237.2" x2="96.14" y2="238" stroke="#999" stroke-width="0.3"/>
<line x1="101.38" y1="237.2" x2="101.38" y2="238" stroke="#999" stroke-width="0.3"/>
<line x1="106.62" y1="237.2" x2="106.62" y2="238" stroke="#999" stroke-width="0.3"/>
<line x1="111.86" y1="237.2" x2="111.86" y2="238" stroke="#999" stroke-width="0.3"/>
<line x1="117.1" y1="237.2" x2="117.1" y2="238" stroke="#999" stroke-width="0.3"/>
<line x1="122.34" y1="237.2" x2="122.34" y2="238" stroke="#999" stroke-width="0.3"/>
<line x1="127.58" y1="237.2" x2="127.58" y2="238" stroke="#999" stroke-width="0.3"/>
<line x1="132.82" y1="237.2" x2="132.82" y2="238" stroke="#999" stroke-width="0.3"/>
<line x1="138.06" y1="237.2" x2="138.06" y2="238" stroke="#999" stroke-width="0.3"/>
<line x1="143.3" y1="237.2" x2="143.3" y2="238" stroke="#999" stroke-width="0.3"/>
<line x1="148.54" y1="237.2" x2="148.54" y2="238" stroke="#999" stroke-width="0.3"/>
<line x1="153.78" y1="237.2" x2="153.78" y2="238" stroke="#999" stroke-width="0.3"/>
<line x1="159.02" y1="237.2" x2="159.02" y2="238" stroke="#999" stroke-width="0.3"/>
<line x1="164.26" y1="237.2" x2="164.26" y2="238" stroke="#999" stroke-width="0.3"/>
<line x1="169.5" y1="237.2" x2="169.5" y2="238" stroke="#999" stroke-width="0.3"/>
<line x1="174.74" y1="237.2" x2="174.74" y2="238" stroke="#999" stroke-width="0.3"/>
<line x1="179.98" y1="237.2" x2="179.98" y2="238" stroke="#999" stroke-width="0.3"/>
<line x1="185.22" y1="237.2" x2="185.22" y2="238" stroke="#999" stroke-width="0.3"/>
<line x1="190.46" y1="237.2" x2="190.46" y2="238" stroke="#999" stroke-width="0.3"/>
<path fill="none" stroke="#aaa" stroke-width="0.35" stroke-opacity="0.8" d="M11.28 160.4V206M13.33 151.9V204.2M16.51 192.6V214M18.56 192.9V214.3M21.75 201.8V219.2M23.8 202.1V219.5M27 208V221.4M29.05 208.3V221.7M32.24 204V220.1M34.29 204.3V220.4M37.48 210.6V224.6M39.52 210.9V224.9M42.72 207.2V221.2M44.77 207.5V221.5M47.96 184.6V204.1M50.01 184.9V204.4M53.2 198.2V222.9M55.24 198.5V223.2M58.44 201.6V223M60.49 201.9V223.3M63.68 194.3V219.2M65.73 189V213.7M68.92 179.5V204.7M70.97 179.8V205M74.16 178.8V202.9M76.21 176.3V204.2M79.4 170.4V191.6M81.45 175.8V194.8M84.64 202.3V226.7M86.69 202.6V227M89.88 158.8V179.7M91.93 158.5V175.6M95.12 177.2V201.9M97.17 177.5V202.2M100.36 187.5V208.7M102.41 187.8V209M105.6 188.5V206.2M107.65 188.8V206.5M110.84 212.4V233.6M112.89 219.6V230M116.08 181.3V205.7M118.13 181.6V206M121.32 186.7V201.2M123.37 187V201.5M126.56 177.1V197.8M128.6 177.4V198.1M131.8 202.6V220.8M133.85 202.9V221.1M137.03 158.4V193.5M139.09 158.8V179.7M142.28 180.8V198.2M144.33 181.1V198.5M147.52 192.4V210.1M149.57 200.1V214.3M152.76 197.6V229M154.81 205.9V223M158 193.5V221.1M160.05 193.8V221.4M163.24 171.4V189.1M165.29 161.6V186M168.48 202.6V220.8M170.53 202.9V221.1M173.72 199.3V220.5M175.77 199.6V220.8M178.96 183.5V208.7M181.01 191.1V208.8M184.2 161.4V190.1M186.25 174.1V191.8M189.44 165.6V187M191.49 168.6V186.6"/>
<path fill="#d2705e" stroke="#b05040" stroke-width="0.3" d="M10.25 174h2.05v17h-2.05zM136.01 168.9h2.05v13.1h-2.05z"/>
<path fill="#6fb0c4" stroke="#4a94a8" stroke-width="0.3" d="M12.3 167.5h2.05v19.5h-2.05z"/>
<path fill="#b05a56" stroke="#783834" stroke-width="0.3" d="M15.49 199h2.05v8h-2.05zM20.73 207h2.05v6.5h-2.05zM25.97 212h2.05v5h-2.05zM31.21 208.8h2.05v6h-2.05zM36.45 214.8h2.05v5.2h-2.05zM41.69 211.4h2.05v5.2h-2.05zM46.93 190.4h2.05v7.3h-2.05zM52.17 205.6h2.05v9.2h-2.05zM57.41 208h2.05v8h-2.05zM62.65 201.7h2.05v9.3h-2.05zM67.89 187h2.05v9.4h-2.05zM73.13 186h2.05v9h-2.05zM78.37 176.7h2.05v7.9h-2.05zM83.61 209.6h2.05v9.1h-2.05zM88.85 165h2.05v7.8h-2.05zM94.09 184.6h2.05v9.2h-2.05zM99.33 193.8h2.05v7.9h-2.05zM104.57 193.8h2.05v6.6h-2.05zM109.81 218.7h2.05v7.9h-2.05zM115.05 188.6h2.05v9.1h-2.05zM120.29 191h2.05v5.4h-2.05zM125.53 183.3h2.05v7.7h-2.05zM130.77 208h2.05v6.8h-2.05zM141.25 186h2.05v6.5h-2.05zM146.49 197.7h2.05v6.6h-2.05zM151.73 207h2.05v11.7h-2.05zM156.97 201.7h2.05v10.3h-2.05zM162.21 176.7h2.05v6.6h-2.05zM167.45 208h2.05v6.8h-2.05zM172.69 205.6h2.05v7.9h-2.05zM177.93 191h2.05v9.4h-2.05zM183.17 170h2.05v10.7h-2.05zM188.41 172h2.05v8h-2.05z"/>
<path fill="#5a979c" stroke="#386468" stroke-width="0.3" d="M17.54 199.3h2.05v8h-2.05zM22.78 207.3h2.05v6.5h-2.05zM28.02 212.3h2.05v5h-2.05zM33.26 209.1h2.05v6h-2.05zM38.5 215.1h2.05v5.2h-2.05zM43.74 211.7h2.05v5.2h-2.05zM48.98 190.7h2.05v7.3h-2.05zM54.22 205.9h2.05v9.2h-2.05zM59.46 208.3h2.05v8h-2.05zM64.7 196.4h2.05v9.2h-2.05zM69.94 187.3h2.05v9.4h-2.05zM75.18 184.6h2.05v10.4h-2.05zM80.42 181.5h2.05v7.1h-2.05zM85.66 209.9h2.05v9.1h-2.05zM90.9 163.6h2.05v6.4h-2.05zM96.14 184.9h2.05v9.2h-2.05zM101.38 194.1h2.05v7.9h-2.05zM106.62 194.1h2.05v6.6h-2.05zM111.86 222.7h2.05v3.9h-2.05zM117.1 188.9h2.05v9.1h-2.05zM122.34 191.3h2.05v5.4h-2.05zM127.58 183.6h2.05v7.7h-2.05zM132.82 208.3h2.05v6.8h-2.05zM138.06 165h2.05v7.8h-2.05zM143.3 186.3h2.05v6.5h-2.05zM148.54 204.3h2.05v5.3h-2.05zM153.78 211h2.05v6.4h-2.05zM159.02 202h2.05v10.3h-2.05zM164.26 168.9h2.05v9.1h-2.05zM169.5 208.3h2.05v6.8h-2.05zM174.74 205.9h2.05v7.9h-2.05zM179.98 196.4h2.05v6.6h-2.05zM185.22 179.4h2.05v6.6h-2.05zM190.46 174h2.05v6.7h-2.05z"/>
<path fill="none" stroke="#3a1412" stroke-width="0.5" d="M10.25 182.5h2.05M15.49 203h2.05M20.73 210.25h2.05M25.97 214.5h2.05M31.21 211.8h2.05M36.45 217.4h2.05M41.69 214h2.05M46.93 194.05h2.05M52.17 210.2h2.05M57.41 212h2.05M62.65 206.35h2.05M67.89 191.7h2.05M73.13 190.5h2.05M78.37 180.65h2.05M83.61 214.15h2.05M88.85 168.9h2.05M94.09 189.2h2.05M99.33 197.75h2.05M104.57 197.1h2.05M109.81 222.65h2.05M115.05 193.15h2.05M120.29 193.7h2.05M125.53 187.15h2.05M130.77 211.4h2.05M136.01 175.45h2.05M141.25 189.25h2.05M146.49 201h2.05M151.73 212.85h2.05M156.97 206.85h2.05M162.21 180h2.05M167.45 211.4h2.05M172.69 209.55h2.05M177.93 195.7h2.05M183.17 175.35h2.05M188.41 176h2.05"/>
<path fill="none" stroke="#163a3e" stroke-width="0.5" d="M12.3 177.25h2.05M17.54 203.3h2.05M22.78 210.55h2.05M28.02 214.8h2.05M33.26 212.1h2.05M38.5 217.7h2.05M43.74 214.3h2.05M48.98 194.35h2.05M54.22 210.5h2.05M59.46 212.3h2.05M64.7 201h2.05M69.94 192h2.05M75.18 189.8h2.05M80.42 185.05h2.05M85.66 214.45h2.05M90.9 166.8h2.05M96.14 189.5h2.05M101.38 198.05h2.05M106.62 197.4h2.05M111.86 224.65h2.05M117.1 193.45h2.05M122.34 194h2.05M127.58 187.45h2.05M132.82 211.7h2.05M138.06 168.9h2.05M143.3 189.55h2.05M148.54 206.95h2.05M153.78 214.2h2.05M159.02 207.15h2.05M164.26 173.45h2.05M169.5 211.7h2.05M174.74 209.85h2.05M179.98 199.7h2.05M185.22 182.7h2.05M190.46 177.35h2.05"/>
<path fill="#333" fill-opacity="0.75" d="M11.5 158.9h.8v.8h-.8zM10.4 158.3h.8v.8h-.8zM11 207.2h.8v.8h-.8zM12.5 204.4h.8v.8h-.8zM13.5 203.8h.8v.8h-.8zM16.7 189.8h.8v.8h-.8zM16.3 191.6h.8v.8h-.8zM18.5 214.3h.8v.8h-.8zM21.5 220.6h.8v.8h-.8zM20.8 199.5h.8v.8h-.8zM23.8 221.1h.8v.8h-.8zM23.4 201.3h.8v.8h-.8zM26.7 221.3h.8v.8h-.8zM26.4 223.7h.8v.8h-.8zM28.6 206.2h.8v.8h-.8zM29.1 205.5h.8v.8h-.8zM28.2 223.4h.8v.8h-.8zM31.9 219.7h.8v.8h-.8zM32.4 201.5h.8v.8h-.8zM31.3 203h.8v.8h-.8zM34.2 201.7h.8v.8h-.8zM36.8 209.1h.8v.8h-.8zM37.4 224.7h.8v.8h-.8zM39 208.6h.8v.8h-.8zM38.5 208.6h.8v.8h-.8zM42 223.7h.8v.8h-.8zM42.3 204.4h.8v.8h-.8zM43.9 223.2h.8v.8h-.8zM44.8 206.3h.8v.8h-.8zM44.6 222.6h.8v.8h-.8zM47.5 182.8h.8v.8h-.8zM47.7 181.2h.8v.8h-.8zM47.9 205.9h.8v.8h-.8zM49.1 204.4h.8v.8h-.8zM49.8 182.3h.8v.8h-.8zM53.3 222.8h.8v.8h-.8zM53.3 225h.8v.8h-.8zM55.3 198h.8v.8h-.8zM58.5 225h.8v.8h-.8zM58.3 200.6h.8v.8h-.8zM59.7 199.9h.8v.8h-.8zM60.1 223.6h.8v.8h-.8zM63.3 192h.8v.8h-.8zM62.8 192.6h.8v.8h-.8zM65 188.6h.8v.8h-.8zM65.9 186.1h.8v.8h-.8zM64.8 215.2h.8v.8h-.8zM68.2 205.2h.8v.8h-.8zM70.4 205.6h.8v.8h-.8zM70.9 204.6h.8v.8h-.8zM70.3 177.9h.8v.8h-.8zM73.6 176.6h.8v.8h-.8zM74.4 178.1h.8v.8h-.8zM76.2 206.1h.8v.8h-.8zM75.4 203.9h.8v.8h-.8zM78.7 167.8h.8v.8h-.8zM78.8 192.1h.8v.8h-.8zM80.8 174.9h.8v.8h-.8zM81.1 173.4h.8v.8h-.8zM84.5 200.2h.8v.8h-.8zM84.6 201.5h.8v.8h-.8zM85.7 201.2h.8v.8h-.8zM89.1 181.1h.8v.8h-.8zM91.7 157.5h.8v.8h-.8zM94.6 176.7h.8v.8h-.8zM94.7 202.7h.8v.8h-.8zM97.3 175h.8v.8h-.8zM96.3 202h.8v.8h-.8zM100.2 184.2h.8v.8h-.8zM100 209.4h.8v.8h-.8zM101.9 208.8h.8v.8h-.8zM101.5 184.7h.8v.8h-.8zM102.3 211.3h.8v.8h-.8zM104.8 206.9h.8v.8h-.8zM104.8 206.6h.8v.8h-.8zM106.9 188.3h.8v.8h-.8zM107 208.7h.8v.8h-.8zM110.3 234h.8v.8h-.8zM112.4 219h.8v.8h-.8zM115.3 179.5h.8v.8h-.8zM118 205.6h.8v.8h-.8zM117.3 207.8h.8v.8h-.8zM117.3 181.2h.8v.8h-.8zM121.2 185.8h.8v.8h-.8zM121 203.4h.8v.8h-.8zM123.1 184h.8v.8h-.8zM122.4 184.1h.8v.8h-.8zM126.5 174.1h.8v.8h-.8zM125.7 175.6h.8v.8h-.8zM128.2 200h.8v.8h-.8zM131.1 202h.8v.8h-.8zM131 222.5h.8v.8h-.8zM134 200.6h.8v.8h-.8zM133.3 199.8h.8v.8h-.8zM136.8 196.1h.8v.8h-.8zM136.3 156.1h.8v.8h-.8zM138.6 180.8h.8v.8h-.8zM138.1 181.1h.8v.8h-.8zM139.1 181.8h.8v.8h-.8zM141.9 197.9h.8v.8h-.8zM142.2 200.4h.8v.8h-.8zM141.3 178.6h.8v.8h-.8zM144.2 178.9h.8v.8h-.8zM143.7 200h.8v.8h-.8zM147.3 211.6h.8v.8h-.8zM149 215.3h.8v.8h-.8zM149.1 214.8h.8v.8h-.8zM148.7 215.8h.8v.8h-.8zM152 196.6h.8v.8h-.8zM152.6 195.4h.8v.8h-.8zM154.5 204.6h.8v.8h-.8zM154.4 222.7h.8v.8h-.8zM157.9 192.3h.8v.8h-.8zM157.4 221.7h.8v.8h-.8zM157.3 192.4h.8v.8h-.8zM159.7 221.1h.8v.8h-.8zM163.3 169.9h.8v.8h-.8zM162.7 169.3h.8v.8h-.8zM163.3 191.1h.8v.8h-.8zM164.4 159.6h.8v.8h-.8zM164.8 159.6h.8v.8h-.8zM168 222.1h.8v.8h-.8zM170 200.9h.8v.8h-.8zM170.1 222.6h.8v.8h-.8zM170.5 222h.8v.8h-.8zM173.1 198.3h.8v.8h-.8zM173.1 196.7h.8v.8h-.8zM175.6 222.4h.8v.8h-.8zM175.7 199h.8v.8h-.8zM178.3 181.3h.8v.8h-.8zM178.4 182.8h.8v.8h-.8zM181.2 188.5h.8v.8h-.8zM180.7 188.9h.8v.8h-.8zM183.4 159.2h.8v.8h-.8zM184.3 160.9h.8v.8h-.8zM185.8 192.6h.8v.8h-.8zM186.3 171.2h.8v.8h-.8zM189.2 163.2h.8v.8h-.8zM188.7 162.6h.8v.8h-.8zM190.8 166.9h.8v.8h-.8zM191.7 187.3h.8v.8h-.8z"/>
<path fill="#222" fill-opacity="0.5" d="M10.2 169h.7v.7h-.7zM11.3 178.4h.7v.7h-.7zM11.2 196.1h.7v.7h-.7zM9.9 181.4h.7v.7h-.7zM12.2 181.8h.7v.7h-.7zM10.4 181.6h.7v.7h-.7zM11.6 171.3h.7v.7h-.7zM10.9 189.5h.7v.7h-.7zM13.5 189.7h.7v.7h-.7zM12.6 168.5h.7v.7h-.7zM13.7 165.2h.7v.7h-.7zM13.7 178h.7v.7h-.7zM12.3 170.9h.7v.7h-.7zM14.2 187.8h.7v.7h-.7zM13.8 189.3h.7v.7h-.7zM13.6 188.1h.7v.7h-.7zM16 209.2h.7v.7h-.7zM17.4 208.9h.7v.7h-.7zM15.8 209.2h.7v.7h-.7zM15.5 198.6h.7v.7h-.7zM15.4 198.3h.7v.7h-.7zM17.2 204.4h.7v.7h-.7zM16.1 207.6h.7v.7h-.7zM16.9 204.9h.7v.7h-.7zM18.2 206.6h.7v.7h-.7zM19 198.3h.7v.7h-.7zM19 200.5h.7v.7h-.7zM17.9 209.7h.7v.7h-.7zM19.4 201.5h.7v.7h-.7zM17.4 206.2h.7v.7h-.7zM17.3 197.6h.7v.7h-.7zM19 208.8h.7v.7h-.7zM22 213.4h.7v.7h-.7zM22.1 205.3h.7v.7h-.7zM22.7 205.7h.7v.7h-.7zM22.4 206.3h.7v.7h-.7zM20.7 204.4h.7v.7h-.7zM22.1 209.9h.7v.7h-.7zM21.5 207.9h.7v.7h-.7zM20.3 213.8h.7v.7h-.7zM23.3 204.6h.7v.7h-.7zM22.2 206.5h.7v.7h-.7zM22.6 213.7h.7v.7h-.7zM24 209.9h.7v.7h-.7zM23 210.9h.7v.7h-.7zM23.6 210.4h.7v.7h-.7zM22.4 213.5h.7v.7h-.7zM22.8 210.9h.7v.7h-.7zM26.9 218.4h.7v.7h-.7zM26.1 211.4h.7v.7h-.7zM27.4 214.2h.7v.7h-.7zM26 214.2h.7v.7h-.7zM27.6 214.4h.7v.7h-.7zM27.7 218h.7v.7h-.7zM25.9 217.7h.7v.7h-.7zM26.4 213.7h.7v.7h-.7zM29.9 217.9h.7v.7h-.7zM29.9 211.9h.7v.7h-.7zM28.7 213.5h.7v.7h-.7zM29.6 218.9h.7v.7h-.7zM28.5 211.4h.7v.7h-.7zM28.3 214.6h.7v.7h-.7zM28.2 211.7h.7v.7h-.7zM27.4 216.4h.7v.7h-.7zM32.9 209h.7v.7h-.7zM32.6 208h.7v.7h-.7zM32.8 214.9h.7v.7h-.7zM33 213.4h.7v.7h-.7zM32 210.4h.7v.7h-.7zM31.9 211.6h.7v.7h-.7zM31.3 209.6h.7v.7h-.7zM31.1 214.7h.7v.7h-.7zM34.9 207.3h.7v.7h-.7zM34.9 207.1h.7v.7h-.7zM33.5 211.3h.7v.7h-.7zM35 212.3h.7v.7h-.7zM33 209.2h.7v.7h-.7zM33.3 212h.7v.7h-.7zM33.1 207.5h.7v.7h-.7zM33.2 206.9h.7v.7h-.7zM35.9 221.7h.7v.7h-.7zM37.1 212.5h.7v.7h-.7zM37.2 221.5h.7v.7h-.7zM37 214.7h.7v.7h-.7zM37.5 218.5h.7v.7h-.7zM37.2 218.5h.7v.7h-.7zM38.3 220.7h.7v.7h-.7zM36.4 215.3h.7v.7h-.7zM40.2 218.5h.7v.7h-.7zM38 216.7h.7v.7h-.7zM38.9 218.9h.7v.7h-.7zM40.4 217.4h.7v.7h-.7zM39.7 218.3h.7v.7h-.7zM38.4 213.1h.7v.7h-.7zM37.9 215.2h.7v.7h-.7zM38.7 216.1h.7v.7h-.7zM41.6 213.7h.7v.7h-.7zM41.1 213.7h.7v.7h-.7zM41.3 211.4h.7v.7h-.7zM41.2 212.7h.7v.7h-.7zM41.9 209.2h.7v.7h-.7zM42.6 211.1h.7v.7h-.7zM43 213.9h.7v.7h-.7zM42.9 215.1h.7v.7h-.7zM43.5 216.9h.7v.7h-.7zM44.4 214.2h.7v.7h-.7zM45.2 217.1h.7v.7h-.7zM44.6 217h.7v.7h-.7zM44.9 217.6h.7v.7h-.7zM43.7 215.8h.7v.7h-.7zM43.5 209.6h.7v.7h-.7zM43.4 212.6h.7v.7h-.7zM46.9 198.2h.7v.7h-.7zM46.9 197.1h.7v.7h-.7zM47.5 195.7h.7v.7h-.7zM46.5 198.2h.7v.7h-.7zM47.1 199.1h.7v.7h-.7zM48 187.7h.7v.7h-.7zM47.9 189.7h.7v.7h-.7zM48 191.5h.7v.7h-.7zM49.7 191.3h.7v.7h-.7zM49.6 193.5h.7v.7h-.7zM50.7 189h.7v.7h-.7zM50.9 190h.7v.7h-.7zM48.4 199.7h.7v.7h-.7zM50.5 193.5h.7v.7h-.7zM49.5 200.2h.7v.7h-.7zM48.9 191h.7v.7h-.7zM52.1 213.2h.7v.7h-.7zM52.8 216.4h.7v.7h-.7zM51.6 202h.7v.7h-.7zM52.7 209.7h.7v.7h-.7zM51.9 206.6h.7v.7h-.7zM52.4 207.3h.7v.7h-.7zM51.5 215.5h.7v.7h-.7zM53.7 214h.7v.7h-.7zM54.6 206.7h.7v.7h-.7zM56.2 208.4h.7v.7h-.7zM54.5 211.6h.7v.7h-.7zM54.3 209h.7v.7h-.7zM53.9 202.7h.7v.7h-.7zM54.3 215.7h.7v.7h-.7zM54.2 217.4h.7v.7h-.7zM54.9 206.3h.7v.7h-.7zM58.7 205.2h.7v.7h-.7zM58.7 210.9h.7v.7h-.7zM57.5 213.7h.7v.7h-.7zM59.2 205.2h.7v.7h-.7zM58 206.3h.7v.7h-.7zM57.6 209.4h.7v.7h-.7zM59.3 215.1h.7v.7h-.7zM58.5 208.2h.7v.7h-.7zM59.7 211.3h.7v.7h-.7zM59.9 215.7h.7v.7h-.7zM59.5 212.6h.7v.7h-.7zM60.3 207.3h.7v.7h-.7zM59.8 209.3h.7v.7h-.7zM59.4 216.4h.7v.7h-.7zM61.1 205h.7v.7h-.7zM60.8 210.3h.7v.7h-.7zM63 212.6h.7v.7h-.7zM63.1 208.4h.7v.7h-.7zM64.1 202.9h.7v.7h-.7zM62.4 213.8h.7v.7h-.7zM64 204.7h.7v.7h-.7zM64.5 211.1h.7v.7h-.7zM62.2 205.8h.7v.7h-.7zM64.4 213.2h.7v.7h-.7zM64.1 205.2h.7v.7h-.7zM65.6 194.5h.7v.7h-.7zM65.9 193h.7v.7h-.7zM65.7 208.3h.7v.7h-.7zM65.2 201.1h.7v.7h-.7zM64.3 205h.7v.7h-.7zM66.5 197.3h.7v.7h-.7zM64.8 195.5h.7v.7h-.7zM69.4 188.2h.7v.7h-.7zM68.6 187h.7v.7h-.7zM67.3 192.1h.7v.7h-.7zM69 189.9h.7v.7h-.7zM67.8 183.8h.7v.7h-.7zM68.9 197.9h.7v.7h-.7zM67.9 184.3h.7v.7h-.7zM68.2 190.1h.7v.7h-.7zM69.9 197.1h.7v.7h-.7zM71.3 186.9h.7v.7h-.7zM71.8 188.2h.7v.7h-.7zM69.8 191.6h.7v.7h-.7zM70.4 187h.7v.7h-.7zM71.8 194.4h.7v.7h-.7zM70.3 185.7h.7v.7h-.7zM71.8 186.8h.7v.7h-.7zM73.4 197.1h.7v.7h-.7zM74.9 185.1h.7v.7h-.7zM72.6 194.1h.7v.7h-.7zM73.5 192.8h.7v.7h-.7zM73.4 188.1h.7v.7h-.7zM72.5 184.8h.7v.7h-.7zM73.4 186.6h.7v.7h-.7zM72.8 197.5h.7v.7h-.7zM75.7 190.2h.7v.7h-.7zM76.5 186.1h.7v.7h-.7zM76.2 189h.7v.7h-.7zM76.2 184.7h.7v.7h-.7zM75.5 187.7h.7v.7h-.7zM76.6 188.8h.7v.7h-.7zM75.1 181.3h.7v.7h-.7zM76.1 181.3h.7v.7h-.7zM79.3 183.5h.7v.7h-.7zM80.2 184.6h.7v.7h-.7zM79.9 174.1h.7v.7h-.7zM79.6 174.7h.7v.7h-.7zM79.8 179.8h.7v.7h-.7zM80.1 184.4h.7v.7h-.7zM78.1 184.8h.7v.7h-.7zM77.8 180.3h.7v.7h-.7zM80.2 183.3h.7v.7h-.7zM81.5 183.5h.7v.7h-.7zM81.2 184.5h.7v.7h-.7zM80.9 180.4h.7v.7h-.7zM80 179.7h.7v.7h-.7zM80.3 186.3h.7v.7h-.7zM82.4 183.7h.7v.7h-.7zM80.2 190.7h.7v.7h-.7zM83.7 210.4h.7v.7h-.7zM83.6 210h.7v.7h-.7zM84.1 209.9h.7v.7h-.7zM83.6 208.7h.7v.7h-.7zM85.3 210.2h.7v.7h-.7zM83.2 208.7h.7v.7h-.7zM83.6 209.7h.7v.7h-.7zM84.7 214.2h.7v.7h-.7zM85.6 220.4h.7v.7h-.7zM86 213.3h.7v.7h-.7zM85.6 220.3h.7v.7h-.7zM86.6 206.7h.7v.7h-.7zM85.5 219.5h.7v.7h-.7zM86.4 207.1h.7v.7h-.7zM86.6 208.8h.7v.7h-.7zM86.8 218.6h.7v.7h-.7zM88.6 166.7h.7v.7h-.7zM88.9 164.4h.7v.7h-.7zM89.9 169.9h.7v.7h-.7zM88.3 164.4h.7v.7h-.7zM90 166.1h.7v.7h-.7zM89 164.1h.7v.7h-.7zM90.3 164.4h.7v.7h-.7zM88.4 169.2h.7v.7h-.7zM90.7 161.7h.7v.7h-.7zM91.3 168.7h.7v.7h-.7zM91.1 164h.7v.7h-.7zM91.1 171.7h.7v.7h-.7zM91.2 167.2h.7v.7h-.7zM92.5 165.5h.7v.7h-.7zM91.2 172.2h.7v.7h-.7zM92.2 163h.7v.7h-.7zM93.5 183.3h.7v.7h-.7zM95.1 189.7h.7v.7h-.7zM93.7 195.6h.7v.7h-.7zM94.4 190.9h.7v.7h-.7zM93.8 188.9h.7v.7h-.7zM94.8 185.3h.7v.7h-.7zM93.7 195.9h.7v.7h-.7zM95.6 188.7h.7v.7h-.7zM97.3 192.7h.7v.7h-.7zM97.2 195.6h.7v.7h-.7zM97.1 195.1h.7v.7h-.7zM96 191h.7v.7h-.7zM97 188.7h.7v.7h-.7zM98 181.6h.7v.7h-.7zM96.4 183.5h.7v.7h-.7zM98 183.3h.7v.7h-.7zM99.5 199.2h.7v.7h-.7zM100.2 196.3h.7v.7h-.7zM100.4 196.3h.7v.7h-.7zM99.8 196.6h.7v.7h-.7zM100.3 190.6h.7v.7h-.7zM99.3 197.3h.7v.7h-.7zM100.7 201.1h.7v.7h-.7zM99.2 196.8h.7v.7h-.7zM100.9 197.9h.7v.7h-.7zM101.7 197.8h.7v.7h-.7zM101.1 204.1h.7v.7h-.7zM103.3 202.8h.7v.7h-.7zM102.9 201h.7v.7h-.7zM103.3 193.3h.7v.7h-.7zM103.2 197.6h.7v.7h-.7zM101.2 203.6h.7v.7h-.7zM106.3 196.8h.7v.7h-.7zM104.6 193.3h.7v.7h-.7zM104.8 196.8h.7v.7h-.7zM104.4 191.2h.7v.7h-.7zM106.4 192.7h.7v.7h-.7zM106.3 198.9h.7v.7h-.7zM106 192.8h.7v.7h-.7zM105.3 192.2h.7v.7h-.7zM107.5 202.9h.7v.7h-.7zM108 195.4h.7v.7h-.7zM106.5 196.4h.7v.7h-.7zM106.1 199.9h.7v.7h-.7zM106.7 200.8h.7v.7h-.7zM108.6 198.7h.7v.7h-.7zM107.7 198.1h.7v.7h-.7zM106 194.8h.7v.7h-.7zM109.3 220.4h.7v.7h-.7zM110.8 222.1h.7v.7h-.7zM109.3 215.8h.7v.7h-.7zM110 223.3h.7v.7h-.7zM110.6 222.6h.7v.7h-.7zM110 221.1h.7v.7h-.7zM110.1 217.1h.7v.7h-.7zM109.6 227h.7v.7h-.7zM111.6 221.2h.7v.7h-.7zM111.9 225.5h.7v.7h-.7zM113.7 226.5h.7v.7h-.7zM113.4 221.2h.7v.7h-.7zM112.8 227.1h.7v.7h-.7zM112.8 224.9h.7v.7h-.7zM112.5 224.4h.7v.7h-.7zM111.2 221.9h.7v.7h-.7zM114.7 199.5h.7v.7h-.7zM116.1 194.6h.7v.7h-.7zM115.5 187.8h.7v.7h-.7zM116.1 193.1h.7v.7h-.7zM115.5 195.2h.7v.7h-.7zM115.7 194.7h.7v.7h-.7zM116.1 185.7h.7v.7h-.7zM116.3 200.9h.7v.7h-.7zM118.9 199.5h.7v.7h-.7zM117.2 200.4h.7v.7h-.7zM118.1 185.8h.7v.7h-.7zM118.3 196h.7v.7h-.7zM119 199.9h.7v.7h-.7zM118.9 189.8h.7v.7h-.7zM116.7 199.6h.7v.7h-.7zM116.9 193.2h.7v.7h-.7zM121.9 192.2h.7v.7h-.7zM122.2 197.4h.7v.7h-.7zM121.1 196.7h.7v.7h-.7zM121 193.1h.7v.7h-.7zM119.7 188.6h.7v.7h-.7zM120.3 197.8h.7v.7h-.7zM121.7 197.1h.7v.7h-.7zM121.2 192.3h.7v.7h-.7zM123.4 190.1h.7v.7h-.7zM121.9 189.2h.7v.7h-.7zM123.9 189.2h.7v.7h-.7zM122.2 196.2h.7v.7h-.7zM123.1 198.1h.7v.7h-.7zM124 195.2h.7v.7h-.7zM123.6 196.1h.7v.7h-.7zM122.4 192.5h.7v.7h-.7zM126.6 190.8h.7v.7h-.7zM125.8 184h.7v.7h-.7zM125.8 183.5h.7v.7h-.7zM125 192.8h.7v.7h-.7zM127.3 190.4h.7v.7h-.7zM126.5 190.5h.7v.7h-.7zM125.7 186.5h.7v.7h-.7zM127 190.2h.7v.7h-.7zM128.4 180.8h.7v.7h-.7zM129.1 190.1h.7v.7h-.7zM127.7 188.1h.7v.7h-.7zM128.3 186.2h.7v.7h-.7zM128.9 184.2h.7v.7h-.7zM127.9 180.9h.7v.7h-.7zM128.8 181.5h.7v.7h-.7zM129.5 191.6h.7v.7h-.7zM132.1 216.4h.7v.7h-.7zM132.7 210.9h.7v.7h-.7zM130.4 211.8h.7v.7h-.7zM130.4 208.9h.7v.7h-.7zM132.5 216.3h.7v.7h-.7zM131.2 214.1h.7v.7h-.7zM131.1 212.8h.7v.7h-.7zM131.3 208.6h.7v.7h-.7zM132.6 209.2h.7v.7h-.7zM133.9 215.5h.7v.7h-.7zM132.6 214.3h.7v.7h-.7zM134.2 210.6h.7v.7h-.7zM132.5 212.3h.7v.7h-.7zM134.5 210.9h.7v.7h-.7zM132.7 208.1h.7v.7h-.7zM134 208.9h.7v.7h-.7zM138 185.8h.7v.7h-.7zM137.1 167.2h.7v.7h-.7zM135.8 167.9h.7v.7h-.7zM136.2 166.8h.7v.7h-.7zM136.1 170.3h.7v.7h-.7zM137.8 165.9h.7v.7h-.7zM137.7 169.9h.7v.7h-.7zM135.4 174.2h.7v.7h-.7zM139.1 170.9h.7v.7h-.7zM139.1 173.9h.7v.7h-.7zM138 169.7h.7v.7h-.7zM137.8 164.1h.7v.7h-.7zM138.1 167.6h.7v.7h-.7zM139.8 171.4h.7v.7h-.7zM138.5 164.9h.7v.7h-.7zM137.8 171.5h.7v.7h-.7zM141 189.4h.7v.7h-.7zM143.1 192.2h.7v.7h-.7zM140.9 189.1h.7v.7h-.7zM142 189.8h.7v.7h-.7zM142 191.4h.7v.7h-.7zM142.8 190.5h.7v.7h-.7zM141.7 189.2h.7v.7h-.7zM141.2 194.1h.7v.7h-.7zM142.7 188h.7v.7h-.7zM143.8 188.2h.7v.7h-.7zM143.6 191.5h.7v.7h-.7zM143.3 186.5h.7v.7h-.7zM145.1 192h.7v.7h-.7zM143.2 189.5h.7v.7h-.7zM143.7 192.7h.7v.7h-.7zM143 185.8h.7v.7h-.7zM148 203.3h.7v.7h-.7zM147.6 196.4h.7v.7h-.7zM147.9 204.6h.7v.7h-.7zM148.5 199.6h.7v.7h-.7zM147.6 203.7h.7v.7h-.7zM147.1 204h.7v.7h-.7zM146.5 204h.7v.7h-.7zM147.7 203.1h.7v.7h-.7zM148.9 204.7h.7v.7h-.7zM149.4 202.6h.7v.7h-.7zM150.4 204.9h.7v.7h-.7zM148.8 206.9h.7v.7h-.7zM149.6 207.4h.7v.7h-.7zM148.1 203.8h.7v.7h-.7zM149.5 204.6h.7v.7h-.7zM150.1 207.3h.7v.7h-.7zM153.2 220.8h.7v.7h-.7zM151.6 219.6h.7v.7h-.7zM152.5 216.6h.7v.7h-.7zM152.2 217.6h.7v.7h-.7zM152.5 220.6h.7v.7h-.7zM151.7 207.5h.7v.7h-.7zM152.4 204.9h.7v.7h-.7zM152.3 203.2h.7v.7h-.7zM154.9 214.6h.7v.7h-.7zM154.1 217.8h.7v.7h-.7zM155.7 212.9h.7v.7h-.7zM154.8 209h.7v.7h-.7zM153.2 215.4h.7v.7h-.7zM154.9 215.1h.7v.7h-.7zM154 218.8h.7v.7h-.7zM154.5 219.4h.7v.7h-.7zM157 203.6h.7v.7h-.7zM157.1 198.2h.7v.7h-.7zM157.6 203.8h.7v.7h-.7zM158.9 203.4h.7v.7h-.7zM157.2 213.4h.7v.7h-.7zM157.6 201h.7v.7h-.7zM156.8 199.4h.7v.7h-.7zM156.7 210.5h.7v.7h-.7zM159.2 198.5h.7v.7h-.7zM158.9 197.6h.7v.7h-.7zM160 214.6h.7v.7h-.7zM160.4 209.7h.7v.7h-.7zM160 214.4h.7v.7h-.7zM160 209h.7v.7h-.7zM159.9 210.4h.7v.7h-.7zM158.9 210.2h.7v.7h-.7zM161.7 175.9h.7v.7h-.7zM163.1 174h.7v.7h-.7zM164 180.6h.7v.7h-.7zM162.9 179.6h.7v.7h-.7zM163.6 183.5h.7v.7h-.7zM163.4 178.7h.7v.7h-.7zM161.8 178.5h.7v.7h-.7zM163.1 181.8h.7v.7h-.7zM165.4 165.1h.7v.7h-.7zM165.9 181.1h.7v.7h-.7zM164 168.5h.7v.7h-.7zM164.4 172.6h.7v.7h-.7zM164.8 174.2h.7v.7h-.7zM166 177.1h.7v.7h-.7zM165.6 170.9h.7v.7h-.7zM164 176.3h.7v.7h-.7zM167.5 216.3h.7v.7h-.7zM168.7 216.7h.7v.7h-.7zM166.9 205.1h.7v.7h-.7zM169 212.9h.7v.7h-.7zM167.6 205.9h.7v.7h-.7zM167.3 213.9h.7v.7h-.7zM168.1 215.5h.7v.7h-.7zM167.8 205.7h.7v.7h-.7zM169.6 212.2h.7v.7h-.7zM171.4 206h.7v.7h-.7zM171 213.8h.7v.7h-.7zM170.5 209.3h.7v.7h-.7zM171 217.2h.7v.7h-.7zM169.7 212.6h.7v.7h-.7zM171.2 210.5h.7v.7h-.7zM170.7 209.8h.7v.7h-.7zM174.4 204.1h.7v.7h-.7zM172.4 216.2h.7v.7h-.7zM174.1 216h.7v.7h-.7zM174.1 209.9h.7v.7h-.7zM173.5 209.2h.7v.7h-.7zM173.3 209.8h.7v.7h-.7zM174.1 207.5h.7v.7h-.7zM174.6 212.4h.7v.7h-.7zM174.3 208.9h.7v.7h-.7zM176.1 213.9h.7v.7h-.7zM175.6 205.7h.7v.7h-.7zM176.4 215.1h.7v.7h-.7zM175.4 209.8h.7v.7h-.7zM174.6 210.8h.7v.7h-.7zM174.6 205.1h.7v.7h-.7zM175.1 212.4h.7v.7h-.7zM177.5 194.7h.7v.7h-.7zM177.4 192.2h.7v.7h-.7zM178.9 191.6h.7v.7h-.7zM177.8 188.5h.7v.7h-.7zM178.8 201.6h.7v.7h-.7zM177.9 196.8h.7v.7h-.7zM178 202.5h.7v.7h-.7zM178.5 188.5h.7v.7h-.7zM180.5 203.8h.7v.7h-.7zM181.7 204.7h.7v.7h-.7zM180.9 194.2h.7v.7h-.7zM179.7 198.1h.7v.7h-.7zM180 204.8h.7v.7h-.7zM181 200.1h.7v.7h-.7zM181.1 204.8h.7v.7h-.7zM180.5 198.1h.7v.7h-.7zM184.7 182.8h.7v.7h-.7zM184.6 166.3h.7v.7h-.7zM184.2 179h.7v.7h-.7zM182.7 184.3h.7v.7h-.7zM184.5 168.2h.7v.7h-.7zM184.3 183.5h.7v.7h-.7zM184.1 171.1h.7v.7h-.7zM182.8 180h.7v.7h-.7zM185.8 187h.7v.7h-.7zM186.7 187.3h.7v.7h-.7zM186.8 178.3h.7v.7h-.7zM186.2 177.3h.7v.7h-.7zM186.5 180.8h.7v.7h-.7zM187.1 185.7h.7v.7h-.7zM185.6 187.4h.7v.7h-.7zM184.8 176.7h.7v.7h-.7zM190.1 174.9h.7v.7h-.7zM188.2 174.8h.7v.7h-.7zM188.4 174.5h.7v.7h-.7zM189.3 168.8h.7v.7h-.7zM189.9 172.7h.7v.7h-.7zM188.1 172.2h.7v.7h-.7zM189 175h.7v.7h-.7zM189.1 170.7h.7v.7h-.7zM190.1 182.1h.7v.7h-.7zM192.2 174.5h.7v.7h-.7zM191.7 171.7h.7v.7h-.7zM192.4 174.5h.7v.7h-.7zM191.9 171.2h.7v.7h-.7zM190.2 175.1h.7v.7h-.7zM192 171h.7v.7h-.7zM190.3 177.3h.7v.7h-.7z"/>
<path fill="none" stroke="#2a2a2a" stroke-width="1.4" stroke-opacity="0.88" stroke-linecap="round" d="M13.3 239.2L10.4 243.5M18.5 239.2L15.2 244.2M23.8 239.2L19.6 245.3M29 239.2L23.7 247.2M34.3 239.2L31.4 243.5M39.5 239.2L36.1 244.2M44.7 239.2L37.7 249.6M50 239.2L47.1 243.5M55.2 239.2L51.9 244.2M60.5 239.2L55.1 247.1M65.7 239.2L62.3 244.2M70.9 239.2L66.8 245.3M76.2 239.2L72 245.3M81.4 239.2L76.1 247.1M86.7 239.2L80.4 248.5M91.9 239.2L89 243.5M97.1 239.2L91.8 247.1M102.4 239.2L98.2 245.3M107.6 239.2L103.5 245.3M112.9 239.2L109.5 244.2M118.1 239.2L114 245.3M123.3 239.2L119.2 245.3M128.6 239.2L124.8 244.8M133.8 239.2L128 247.8M139.1 239.2L134.1 246.6M144.3 239.2L139.3 246.6M149.5 239.2L145 246M154.8 239.2L151.4 244.2M160 239.2L154.7 247.1M165.3 239.2L161.9 244.2M170.5 239.2L166.4 245.3M175.7 239.2L172 244.8M181 239.2L177.6 244.2M186.2 239.2L182.9 244.2M191.5 239.2L187.5 245"/>
<text x="12.3" y="144.9" font-size="2.2" fill="#777" text-anchor="middle" font-family="Liberation Sans, sans-serif">**</text>
<text x="22.78" y="144.9" font-size="2.2" fill="#777" text-anchor="middle" font-family="Liberation Sans, sans-serif">**</text>
<text x="54.22" y="144.9" font-size="2.2" fill="#777" text-anchor="middle" font-family="Liberation Sans, sans-serif">**</text>
<text x="64.7" y="144.9" font-size="2.2" fill="#777" text-anchor="middle" font-family="Liberation Sans, sans-serif">**</text>
<text x="75.18" y="144.9" font-size="2.2" fill="#777" text-anchor="middle" font-family="Liberation Sans, sans-serif">**</text>
<text x="85.66" y="144.9" font-size="2.2" fill="#777" text-anchor="middle" font-family="Liberation Sans, sans-serif">**</text>
<text x="96.14" y="144.9" font-size="2.2" fill="#777" text-anchor="middle" font-family="Liberation Sans, sans-serif">**</text>
<text x="101.38" y="144.9" font-size="2.2" fill="#777" text-anchor="middle" font-family="Liberation Sans, sans-serif">**</text>
<text x="111.86" y="144.9" font-size="2.2" fill="#777" text-anchor="middle" font-family="Liberation Sans, sans-serif">**</text>
<text x="138.06" y="144.9" font-size="2.2" fill="#777" text-anchor="middle" font-family="Liberation Sans, sans-serif">**</text>
<text x="148.54" y="144.9" font-size="2.2" fill="#777" text-anchor="middle" font-family="Liberation Sans, sans-serif">**</text>
<text x="164.26" y="144.9" font-size="2.2" fill="#777" text-anchor="middle" font-family="Liberation Sans, sans-serif">**</text>
<text x="179.98" y="144.9" font-size="2.2" fill="#777" text-anchor="middle" font-family="Liberation Sans, sans-serif">**</text>
<text x="185.22" y="144.9" font-size="2.2" fill="#777" text-anchor="middle" font-family="Liberation Sans, sans-serif">**</text>
<text x="190.46" y="144.9" font-size="2.2" fill="#777" text-anchor="middle" font-family="Liberation Sans, sans-serif">**</text>
<text x="205.2" y="133.6" font-size="8.3" font-weight="bold" fill="#111" font-family="Liberation Sans, sans-serif">D</text>
<text x="291.2" y="137.05" font-size="2.2" fill="#333" textLength="6.7" lengthAdjust="spacingAndGlyphs" font-family="Liberation Sans, sans-serif">Group</text>
<rect x="299.4" y="134.9" width="2.6" height="2.6" fill="#7a3432" stroke="#3a1a18" stroke-width="0.35"/>
<text x="304.1" y="137.05" font-size="2.2" fill="#444" textLength="6.2" lengthAdjust="spacingAndGlyphs" font-family="Liberation Sans, sans-serif">Control</text>
<rect x="311.8" y="134.9" width="2.6" height="2.6" fill="#3a6a70" stroke="#1a3438" stroke-width="0.35"/>
<text x="316" y="137.05" font-size="2.2" fill="#444" textLength="6.7" lengthAdjust="spacingAndGlyphs" font-family="Liberation Sans, sans-serif">NASH</text>
<line x1="214.5" y1="140" x2="214.5" y2="237.1" stroke="#999" stroke-width="0.5"/>
<line x1="214.5" y1="237.1" x2="399" y2="237.1" stroke="#aaa" stroke-width="0.5"/>
<line x1="213.5" y1="149.3" x2="214.5" y2="149.3" stroke="#888" stroke-width="0.4"/>
<text x="213.2" y="150.15" font-size="2.4" font-weight="bold" fill="#333" text-anchor="end" font-family="Liberation Sans, sans-serif">100</text>
<line x1="213.5" y1="171.5" x2="214.5" y2="171.5" stroke="#888" stroke-width="0.4"/>
<text x="213.2" y="172.35" font-size="2.4" font-weight="bold" fill="#333" text-anchor="end" font-family="Liberation Sans, sans-serif">75</text>
<line x1="213.5" y1="193.8" x2="214.5" y2="193.8" stroke="#888" stroke-width="0.4"/>
<text x="213.2" y="194.65" font-size="2.4" font-weight="bold" fill="#333" text-anchor="end" font-family="Liberation Sans, sans-serif">50</text>
<line x1="213.5" y1="216" x2="214.5" y2="216" stroke="#888" stroke-width="0.4"/>
<text x="213.2" y="216.85" font-size="2.4" font-weight="bold" fill="#333" text-anchor="end" font-family="Liberation Sans, sans-serif">25</text>
<text transform="translate(208.9,189) rotate(-90)" font-size="2.5" font-weight="bold" fill="#333" text-anchor="middle" textLength="19.5" lengthAdjust="spacingAndGlyphs" font-family="Liberation Sans, sans-serif">Expression level</text>
<line x1="218" y1="237.1" x2="218" y2="237.9" stroke="#999" stroke-width="0.3"/>
<line x1="223.23" y1="237.1" x2="223.23" y2="237.9" stroke="#999" stroke-width="0.3"/>
<line x1="228.46" y1="237.1" x2="228.46" y2="237.9" stroke="#999" stroke-width="0.3"/>
<line x1="233.69" y1="237.1" x2="233.69" y2="237.9" stroke="#999" stroke-width="0.3"/>
<line x1="238.92" y1="237.1" x2="238.92" y2="237.9" stroke="#999" stroke-width="0.3"/>
<line x1="244.15" y1="237.1" x2="244.15" y2="237.9" stroke="#999" stroke-width="0.3"/>
<line x1="249.38" y1="237.1" x2="249.38" y2="237.9" stroke="#999" stroke-width="0.3"/>
<line x1="254.61" y1="237.1" x2="254.61" y2="237.9" stroke="#999" stroke-width="0.3"/>
<line x1="259.84" y1="237.1" x2="259.84" y2="237.9" stroke="#999" stroke-width="0.3"/>
<line x1="265.07" y1="237.1" x2="265.07" y2="237.9" stroke="#999" stroke-width="0.3"/>
<line x1="270.3" y1="237.1" x2="270.3" y2="237.9" stroke="#999" stroke-width="0.3"/>
<line x1="275.53" y1="237.1" x2="275.53" y2="237.9" stroke="#999" stroke-width="0.3"/>
<line x1="280.76" y1="237.1" x2="280.76" y2="237.9" stroke="#999" stroke-width="0.3"/>
<line x1="285.99" y1="237.1" x2="285.99" y2="237.9" stroke="#999" stroke-width="0.3"/>
<line x1="291.22" y1="237.1" x2="291.22" y2="237.9" stroke="#999" stroke-width="0.3"/>
<line x1="296.45" y1="237.1" x2="296.45" y2="237.9" stroke="#999" stroke-width="0.3"/>
<line x1="301.68" y1="237.1" x2="301.68" y2="237.9" stroke="#999" stroke-width="0.3"/>
<line x1="306.91" y1="237.1" x2="306.91" y2="237.9" stroke="#999" stroke-width="0.3"/>
<line x1="312.14" y1="237.1" x2="312.14" y2="237.9" stroke="#999" stroke-width="0.3"/>
<line x1="317.37" y1="237.1" x2="317.37" y2="237.9" stroke="#999" stroke-width="0.3"/>
<line x1="322.6" y1="237.1" x2="322.6" y2="237.9" stroke="#999" stroke-width="0.3"/>
<line x1="327.83" y1="237.1" x2="327.83" y2="237.9" stroke="#999" stroke-width="0.3"/>
<line x1="333.06" y1="237.1" x2="333.06" y2="237.9" stroke="#999" stroke-width="0.3"/>
<line x1="338.29" y1="237.1" x2="338.29" y2="237.9" stroke="#999" stroke-width="0.3"/>
<line x1="343.52" y1="237.1" x2="343.52" y2="237.9" stroke="#999" stroke-width="0.3"/>
<line x1="348.75" y1="237.1" x2="348.75" y2="237.9" stroke="#999" stroke-width="0.3"/>
<line x1="353.98" y1="237.1" x2="353.98" y2="237.9" stroke="#999" stroke-width="0.3"/>
<line x1="359.21" y1="237.1" x2="359.21" y2="237.9" stroke="#999" stroke-width="0.3"/>
<line x1="364.44" y1="237.1" x2="364.44" y2="237.9" stroke="#999" stroke-width="0.3"/>
<line x1="369.67" y1="237.1" x2="369.67" y2="237.9" stroke="#999" stroke-width="0.3"/>
<line x1="374.9" y1="237.1" x2="374.9" y2="237.9" stroke="#999" stroke-width="0.3"/>
<line x1="380.13" y1="237.1" x2="380.13" y2="237.9" stroke="#999" stroke-width="0.3"/>
<line x1="385.36" y1="237.1" x2="385.36" y2="237.9" stroke="#999" stroke-width="0.3"/>
<line x1="390.59" y1="237.1" x2="390.59" y2="237.9" stroke="#999" stroke-width="0.3"/>
<line x1="395.82" y1="237.1" x2="395.82" y2="237.9" stroke="#999" stroke-width="0.3"/>
<path fill="none" stroke="#aaa" stroke-width="0.35" stroke-opacity="0.8" d="M216.97 150.4V199.4M219.03 170.6V195.3M222.2 197.5V211.7M224.25 197.8V212M227.44 205.7V223.1M229.49 206V223.4M232.66 206.8V220.5M234.72 207.1V220.8M237.9 203.6V219.1M239.95 203.9V219.4M243.12 210.6V224.6M245.18 210.9V224.9M248.35 208.3V220.6M250.41 208.6V220.9M253.59 186V203.4M255.64 186.3V203.7M258.81 205.4V219.4M260.87 205.7V219.7M264.04 204.5V221.6M266.09 204.8V221.9M269.27 187.6V212.5M271.32 195.1V212.8M274.5 188.7V201.3M276.55 189V201.6M279.73 177V198.2M281.78 179.8V200.7M284.96 176.7V194.4M287.01 180.4V194.6M290.19 204.7V225.6M292.25 205V225.9M295.42 158.3V176M297.47 158.6V176.3M300.65 180.3V194.8M302.7 180.6V195.1M305.88 189.6V203.6M307.94 189.9V203.9M311.11 191.8V202.5M313.16 192.1V202.8M316.34 219.6V230M318.39 219.9V230.3M321.57 186V203.4M323.62 186.3V203.7M326.81 188.2V198.3M328.86 188.5V198.6M332.03 178V195.7M334.08 178.3V196M337.26 204V218.2M339.31 204.3V218.5M342.49 154.9V179.6M344.54 160.6V178.8M347.72 181.8V195.8M349.77 182.1V196.1M352.95 200.1V214.3M355 200.4V214.6M358.19 203.4V224.3M360.24 203.7V224.6M363.41 196.7V217.9M365.46 197V218.2M368.64 160.5V188.6M370.69 165.2V186.4M373.87 206.8V220.5M375.92 207.1V220.8M379.1 205.4V219.4M381.15 205.7V219.7M384.33 190.1V211.3M386.38 190.4V211.6M389.56 170.6V195.3M391.62 170.9V195.6M394.8 170.1V187.8M396.85 170.4V188.1"/>
<path fill="#d2705e" stroke="#b05040" stroke-width="0.3" d="M215.95 165h2.05v18.3h-2.05z"/>
<path fill="#5a979c" stroke="#386468" stroke-width="0.3" d="M218 178h2.05v9.2h-2.05zM223.23 202h2.05v5.3h-2.05zM228.46 211.2h2.05v6.5h-2.05zM233.69 211.2h2.05v5.1h-2.05zM238.92 208.5h2.05v5.8h-2.05zM244.15 215.1h2.05v5.2h-2.05zM249.38 212.3h2.05v4.6h-2.05zM254.61 191.5h2.05v6.5h-2.05zM259.84 209.9h2.05v5.2h-2.05zM265.07 209.9h2.05v6.4h-2.05zM270.3 200.4h2.05v6.6h-2.05zM275.53 192.8h2.05v4.7h-2.05zM280.76 186h2.05v7.8h-2.05zM285.99 184.6h2.05v5.3h-2.05zM291.22 211.2h2.05v7.8h-2.05zM296.45 163.9h2.05v6.6h-2.05zM301.68 184.9h2.05v5.4h-2.05zM306.91 194.1h2.05v5.2h-2.05zM312.14 195.3h2.05v4h-2.05zM317.37 223h2.05v3.9h-2.05zM322.6 191.5h2.05v6.5h-2.05zM327.83 191.5h2.05v3.8h-2.05zM333.06 183.6h2.05v6.6h-2.05zM338.29 208.5h2.05v5.3h-2.05zM343.52 166h2.05v6.8h-2.05zM348.75 186.3h2.05v5.2h-2.05zM353.98 204.6h2.05v5.3h-2.05zM359.21 209.9h2.05v7.8h-2.05zM364.44 203.3h2.05v7.9h-2.05zM369.67 171.5h2.05v7.9h-2.05zM374.9 211.2h2.05v5.1h-2.05zM380.13 209.9h2.05v5.2h-2.05zM385.36 196.7h2.05v7.9h-2.05zM390.59 178.3h2.05v9.2h-2.05zM395.82 175.7h2.05v6.6h-2.05z"/>
<path fill="#b05a56" stroke="#783834" stroke-width="0.3" d="M221.18 201.7h2.05v5.3h-2.05zM226.41 210.9h2.05v6.5h-2.05zM231.64 210.9h2.05v5.1h-2.05zM236.87 208.2h2.05v5.8h-2.05zM242.1 214.8h2.05v5.2h-2.05zM247.33 212h2.05v4.6h-2.05zM252.56 191.2h2.05v6.5h-2.05zM257.79 209.6h2.05v5.2h-2.05zM263.02 209.6h2.05v6.4h-2.05zM268.25 195h2.05v9.3h-2.05zM273.48 192.5h2.05v4.7h-2.05zM278.71 183.3h2.05v7.9h-2.05zM283.94 182h2.05v6.6h-2.05zM289.17 210.9h2.05v7.8h-2.05zM294.4 163.6h2.05v6.6h-2.05zM299.63 184.6h2.05v5.4h-2.05zM304.86 193.8h2.05v5.2h-2.05zM310.09 195h2.05v4h-2.05zM315.32 222.7h2.05v3.9h-2.05zM320.55 191.2h2.05v6.5h-2.05zM325.78 191.2h2.05v3.8h-2.05zM331.01 183.3h2.05v6.6h-2.05zM336.24 208.2h2.05v5.3h-2.05zM341.47 162.3h2.05v9.2h-2.05zM346.7 186h2.05v5.2h-2.05zM351.93 204.3h2.05v5.3h-2.05zM357.16 209.6h2.05v7.8h-2.05zM362.39 203h2.05v7.9h-2.05zM367.62 168.9h2.05v10.5h-2.05zM372.85 210.9h2.05v5.1h-2.05zM378.08 209.6h2.05v5.2h-2.05zM383.31 196.4h2.05v7.9h-2.05zM388.54 178h2.05v9.2h-2.05zM393.77 175.4h2.05v6.6h-2.05z"/>
<path fill="none" stroke="#3a1412" stroke-width="0.5" d="M215.95 174.15h2.05M221.18 204.35h2.05M226.41 214.15h2.05M231.64 213.45h2.05M236.87 211.1h2.05M242.1 217.4h2.05M247.33 214.3h2.05M252.56 194.45h2.05M257.79 212.2h2.05M263.02 212.8h2.05M268.25 199.65h2.05M273.48 194.85h2.05M278.71 187.25h2.05M283.94 185.3h2.05M289.17 214.8h2.05M294.4 166.9h2.05M299.63 187.3h2.05M304.86 196.4h2.05M310.09 197h2.05M315.32 224.65h2.05M320.55 194.45h2.05M325.78 193.1h2.05M331.01 186.6h2.05M336.24 210.85h2.05M341.47 166.9h2.05M346.7 188.6h2.05M351.93 206.95h2.05M357.16 213.5h2.05M362.39 206.95h2.05M367.62 174.15h2.05M372.85 213.45h2.05M378.08 212.2h2.05M383.31 200.35h2.05M388.54 182.6h2.05M393.77 178.7h2.05"/>
<path fill="none" stroke="#163a3e" stroke-width="0.5" d="M218 182.6h2.05M223.23 204.65h2.05M228.46 214.45h2.05M233.69 213.75h2.05M238.92 211.4h2.05M244.15 217.7h2.05M249.38 214.6h2.05M254.61 194.75h2.05M259.84 212.5h2.05M265.07 213.1h2.05M270.3 203.7h2.05M275.53 195.15h2.05M280.76 189.9h2.05M285.99 187.25h2.05M291.22 215.1h2.05M296.45 167.2h2.05M301.68 187.6h2.05M306.91 196.7h2.05M312.14 197.3h2.05M317.37 224.95h2.05M322.6 194.75h2.05M327.83 193.4h2.05M333.06 186.9h2.05M338.29 211.15h2.05M343.52 169.4h2.05M348.75 188.9h2.05M353.98 207.25h2.05M359.21 213.8h2.05M364.44 207.25h2.05M369.67 175.45h2.05M374.9 213.75h2.05M380.13 212.5h2.05M385.36 200.65h2.05M390.59 182.9h2.05M395.82 179h2.05"/>
<path fill="#333" fill-opacity="0.75" d="M216.7 200.2h.8v.8h-.8zM216.8 147.4h.8v.8h-.8zM217 147.6h.8v.8h-.8zM218.2 196.1h.8v.8h-.8zM218.1 195.6h.8v.8h-.8zM218.5 169.3h.8v.8h-.8zM221.9 194.1h.8v.8h-.8zM221.2 194.6h.8v.8h-.8zM224.3 195.6h.8v.8h-.8zM227.4 224.4h.8v.8h-.8zM227.6 204.8h.8v.8h-.8zM227.2 223.5h.8v.8h-.8zM229.2 205.4h.8v.8h-.8zM228.8 224.6h.8v.8h-.8zM232.7 220.4h.8v.8h-.8zM231.9 221.8h.8v.8h-.8zM234.1 204.5h.8v.8h-.8zM234.4 206h.8v.8h-.8zM234.7 222.4h.8v.8h-.8zM237.4 201h.8v.8h-.8zM237.5 200.5h.8v.8h-.8zM237.9 220.4h.8v.8h-.8zM239.6 220.3h.8v.8h-.8zM240.1 221.8h.8v.8h-.8zM242.7 225.2h.8v.8h-.8zM242.2 207.3h.8v.8h-.8zM243.2 208.4h.8v.8h-.8zM244.8 209.4h.8v.8h-.8zM244.6 208.1h.8v.8h-.8zM245 210.5h.8v.8h-.8zM248 206.2h.8v.8h-.8zM247.6 206.4h.8v.8h-.8zM250.5 207.1h.8v.8h-.8zM249.5 223.4h.8v.8h-.8zM250.5 205.9h.8v.8h-.8zM252.8 203.5h.8v.8h-.8zM252.7 203.9h.8v.8h-.8zM255.3 183.5h.8v.8h-.8zM258.3 203.8h.8v.8h-.8zM258.6 203.6h.8v.8h-.8zM257.8 221.5h.8v.8h-.8zM260.3 221.4h.8v.8h-.8zM261 204.9h.8v.8h-.8zM263.3 223.1h.8v.8h-.8zM266.3 204.1h.8v.8h-.8zM265.3 221.6h.8v.8h-.8zM268.8 185.7h.8v.8h-.8zM268.9 185.7h.8v.8h-.8zM268.5 214.9h.8v.8h-.8zM270.5 213.5h.8v.8h-.8zM270.7 193.8h.8v.8h-.8zM274 201.3h.8v.8h-.8zM273.6 187h.8v.8h-.8zM275.6 187.6h.8v.8h-.8zM275.8 201.7h.8v.8h-.8zM279.8 200.2h.8v.8h-.8zM281 202.1h.8v.8h-.8zM285.1 174.6h.8v.8h-.8zM284.8 176.2h.8v.8h-.8zM285.1 196h.8v.8h-.8zM286.7 177.7h.8v.8h-.8zM286.8 196.8h.8v.8h-.8zM286.3 196.2h.8v.8h-.8zM290.4 202.6h.8v.8h-.8zM291.4 228.2h.8v.8h-.8zM292.2 203.8h.8v.8h-.8zM294.5 155.3h.8v.8h-.8zM295.5 176.1h.8v.8h-.8zM295.1 178.1h.8v.8h-.8zM296.9 156.4h.8v.8h-.8zM297.2 156.8h.8v.8h-.8zM297.3 176.4h.8v.8h-.8zM300.8 178.6h.8v.8h-.8zM300.7 177h.8v.8h-.8zM302.8 196.8h.8v.8h-.8zM302.7 179.5h.8v.8h-.8zM301.7 180.2h.8v.8h-.8zM305.3 204.2h.8v.8h-.8zM305.9 188.6h.8v.8h-.8zM307.8 203.7h.8v.8h-.8zM307.7 186.6h.8v.8h-.8zM310.8 202.2h.8v.8h-.8zM310.3 202.3h.8v.8h-.8zM310.5 188.5h.8v.8h-.8zM312.3 204h.8v.8h-.8zM312.3 203.8h.8v.8h-.8zM316.5 231.8h.8v.8h-.8zM317.4 219.3h.8v.8h-.8zM317.7 216.5h.8v.8h-.8zM317.8 232.2h.8v.8h-.8zM321.6 183.2h.8v.8h-.8zM320.8 203.2h.8v.8h-.8zM321.4 206h.8v.8h-.8zM322.7 183.5h.8v.8h-.8zM323.5 204h.8v.8h-.8zM326.7 185.8h.8v.8h-.8zM328.3 199.2h.8v.8h-.8zM328.8 200.5h.8v.8h-.8zM331.6 176.3h.8v.8h-.8zM331.7 196.7h.8v.8h-.8zM331.5 196h.8v.8h-.8zM333.7 197.9h.8v.8h-.8zM333.9 176.5h.8v.8h-.8zM336.6 218h.8v.8h-.8zM337.1 218.1h.8v.8h-.8zM338.4 218.9h.8v.8h-.8zM338.5 202.8h.8v.8h-.8zM341.6 151.7h.8v.8h-.8zM342.1 180.4h.8v.8h-.8zM344.2 181.2h.8v.8h-.8zM343.7 159.5h.8v.8h-.8zM343.7 159.7h.8v.8h-.8zM346.8 197h.8v.8h-.8zM349 196.1h.8v.8h-.8zM349.7 181.5h.8v.8h-.8zM348.8 195.9h.8v.8h-.8zM352.6 197.2h.8v.8h-.8zM352.9 215.9h.8v.8h-.8zM352.6 198.3h.8v.8h-.8zM355.1 216.3h.8v.8h-.8zM355.1 197.9h.8v.8h-.8zM357.5 202.9h.8v.8h-.8zM358.3 226.1h.8v.8h-.8zM359.4 203.1h.8v.8h-.8zM360.1 225.6h.8v.8h-.8zM362.8 193.5h.8v.8h-.8zM363.4 195.3h.8v.8h-.8zM365.5 196.5h.8v.8h-.8zM365.4 220.6h.8v.8h-.8zM368.8 188.5h.8v.8h-.8zM369.9 164.2h.8v.8h-.8zM370.9 162.4h.8v.8h-.8zM374 222.6h.8v.8h-.8zM373.4 205.7h.8v.8h-.8zM373.8 222.4h.8v.8h-.8zM375.9 222.4h.8v.8h-.8zM375.7 220.6h.8v.8h-.8zM374.9 221.7h.8v.8h-.8zM378.2 203.3h.8v.8h-.8zM378.6 204.1h.8v.8h-.8zM378.4 203h.8v.8h-.8zM380.3 221.3h.8v.8h-.8zM380.2 220h.8v.8h-.8zM384.2 188h.8v.8h-.8zM383.9 211h.8v.8h-.8zM383.5 213.7h.8v.8h-.8zM386.4 189.1h.8v.8h-.8zM386.5 211.3h.8v.8h-.8zM389 196.9h.8v.8h-.8zM388.7 197.8h.8v.8h-.8zM389.3 196.8h.8v.8h-.8zM391 197.3h.8v.8h-.8zM394.3 189.8h.8v.8h-.8zM394.6 168.2h.8v.8h-.8zM394.6 189.6h.8v.8h-.8zM396.7 168.5h.8v.8h-.8zM396 189.7h.8v.8h-.8z"/>
<path fill="#222" fill-opacity="0.5" d="M217.3 181.4h.7v.7h-.7zM215.7 163.1h.7v.7h-.7zM217 179.4h.7v.7h-.7zM216.1 163.7h.7v.7h-.7zM217.1 157.7h.7v.7h-.7zM217.5 174.4h.7v.7h-.7zM216.7 187.5h.7v.7h-.7zM216.1 168.8h.7v.7h-.7zM219.9 189.4h.7v.7h-.7zM218.3 175.2h.7v.7h-.7zM219.5 178h.7v.7h-.7zM219.4 189.1h.7v.7h-.7zM218.9 188.3h.7v.7h-.7zM218.1 188.8h.7v.7h-.7zM219.3 175.8h.7v.7h-.7zM217.4 181.4h.7v.7h-.7zM222.5 208.1h.7v.7h-.7zM222.7 201.7h.7v.7h-.7zM221.8 205.3h.7v.7h-.7zM221.7 201.5h.7v.7h-.7zM220.8 202.6h.7v.7h-.7zM221.3 200.9h.7v.7h-.7zM222.1 203.7h.7v.7h-.7zM220.8 206.5h.7v.7h-.7zM224.1 200.9h.7v.7h-.7zM223 206.7h.7v.7h-.7zM225 207.4h.7v.7h-.7zM223.7 203.2h.7v.7h-.7zM224 207.5h.7v.7h-.7zM225.1 203.3h.7v.7h-.7zM223.5 206.9h.7v.7h-.7zM223.5 201.8h.7v.7h-.7zM226.1 208.1h.7v.7h-.7zM226.6 210.1h.7v.7h-.7zM227.5 210.3h.7v.7h-.7zM226.9 210.6h.7v.7h-.7zM228.4 212.6h.7v.7h-.7zM225.9 213.3h.7v.7h-.7zM228.3 219.4h.7v.7h-.7zM228 208.4h.7v.7h-.7zM228.1 208.7h.7v.7h-.7zM228.3 212.3h.7v.7h-.7zM230.3 209h.7v.7h-.7zM230.2 219h.7v.7h-.7zM229.4 209.2h.7v.7h-.7zM229 219.2h.7v.7h-.7zM230.1 214.2h.7v.7h-.7zM229.3 219h.7v.7h-.7zM232.2 215h.7v.7h-.7zM232.6 213.5h.7v.7h-.7zM231.8 212.8h.7v.7h-.7zM231.6 210.7h.7v.7h-.7zM232 213.2h.7v.7h-.7zM231 213.9h.7v.7h-.7zM233.3 211.7h.7v.7h-.7zM232.5 210.7h.7v.7h-.7zM235 212.1h.7v.7h-.7zM235.6 213.6h.7v.7h-.7zM235.5 215h.7v.7h-.7zM234.8 212.6h.7v.7h-.7zM233.6 210.1h.7v.7h-.7zM233.8 214.4h.7v.7h-.7zM233.3 216.5h.7v.7h-.7zM235.5 216.7h.7v.7h-.7zM237.9 208.4h.7v.7h-.7zM238.5 206.7h.7v.7h-.7zM237 212.8h.7v.7h-.7zM237.2 209.2h.7v.7h-.7zM237.8 211h.7v.7h-.7zM236.3 212.3h.7v.7h-.7zM238.8 213.3h.7v.7h-.7zM237 209.5h.7v.7h-.7zM238.9 212.2h.7v.7h-.7zM240.8 209.2h.7v.7h-.7zM240.8 215.1h.7v.7h-.7zM239 206.1h.7v.7h-.7zM239.1 215.2h.7v.7h-.7zM239.1 211.4h.7v.7h-.7zM239.4 212.3h.7v.7h-.7zM240.2 214.5h.7v.7h-.7zM242.7 221.4h.7v.7h-.7zM243.1 216.5h.7v.7h-.7zM242.4 221.7h.7v.7h-.7zM243.6 217.3h.7v.7h-.7zM242.3 214h.7v.7h-.7zM243.6 221.5h.7v.7h-.7zM241.8 217.2h.7v.7h-.7zM243.3 220.7h.7v.7h-.7zM243.5 212.8h.7v.7h-.7zM245 219.3h.7v.7h-.7zM244.6 221.3h.7v.7h-.7zM243.6 213.6h.7v.7h-.7zM244 212.9h.7v.7h-.7zM245 219.9h.7v.7h-.7zM245.9 220.8h.7v.7h-.7zM243.9 217.5h.7v.7h-.7zM248.8 214.1h.7v.7h-.7zM248.8 214.9h.7v.7h-.7zM246.7 210.3h.7v.7h-.7zM247.5 216.2h.7v.7h-.7zM247.6 215.7h.7v.7h-.7zM247.4 211.2h.7v.7h-.7zM249.1 210.6h.7v.7h-.7zM247.6 214.6h.7v.7h-.7zM249.6 217.2h.7v.7h-.7zM250.9 217.6h.7v.7h-.7zM250.3 212.6h.7v.7h-.7zM250 218.1h.7v.7h-.7zM249.4 218h.7v.7h-.7zM250.6 213.3h.7v.7h-.7zM249.6 211.9h.7v.7h-.7zM250 217.4h.7v.7h-.7zM252.9 194.5h.7v.7h-.7zM252.1 193h.7v.7h-.7zM254.1 189.7h.7v.7h-.7zM252.6 192.4h.7v.7h-.7zM252.7 190.5h.7v.7h-.7zM252 191h.7v.7h-.7zM252.8 196h.7v.7h-.7zM253.8 190.1h.7v.7h-.7zM256.1 194h.7v.7h-.7zM254.9 191.4h.7v.7h-.7zM255 191.1h.7v.7h-.7zM255.5 195.9h.7v.7h-.7zM255.2 192h.7v.7h-.7zM256.2 190.9h.7v.7h-.7zM256.4 196.5h.7v.7h-.7zM255.5 200.2h.7v.7h-.7zM257.5 213.9h.7v.7h-.7zM259 207.3h.7v.7h-.7zM259.2 213.7h.7v.7h-.7zM257.7 209.3h.7v.7h-.7zM257.3 215.5h.7v.7h-.7zM259.3 215.7h.7v.7h-.7zM257.7 214.3h.7v.7h-.7zM257.4 213.9h.7v.7h-.7zM260.2 209.1h.7v.7h-.7zM261 215h.7v.7h-.7zM259.3 215.9h.7v.7h-.7zM260.4 214.1h.7v.7h-.7zM260.3 216.8h.7v.7h-.7zM259.5 216h.7v.7h-.7zM259.9 210.2h.7v.7h-.7zM259.8 213.2h.7v.7h-.7zM263.4 210.2h.7v.7h-.7zM263.2 207.1h.7v.7h-.7zM262.9 214h.7v.7h-.7zM263.9 216.4h.7v.7h-.7zM263.1 214.9h.7v.7h-.7zM264.2 211.7h.7v.7h-.7zM262.4 210.7h.7v.7h-.7zM264.4 216.3h.7v.7h-.7zM266.4 217.5h.7v.7h-.7zM266.3 208h.7v.7h-.7zM266.4 211.5h.7v.7h-.7zM265.2 216.5h.7v.7h-.7zM266.9 208h.7v.7h-.7zM266.9 211.9h.7v.7h-.7zM266.4 215h.7v.7h-.7zM266.1 216.6h.7v.7h-.7zM269.7 193.7h.7v.7h-.7zM268.3 194.9h.7v.7h-.7zM268.1 207.1h.7v.7h-.7zM267.9 196.7h.7v.7h-.7zM268 201.6h.7v.7h-.7zM268.9 202.4h.7v.7h-.7zM269.5 199h.7v.7h-.7zM269.4 191h.7v.7h-.7zM271.1 207.1h.7v.7h-.7zM270.1 206.4h.7v.7h-.7zM271.2 205.3h.7v.7h-.7zM271.7 202.9h.7v.7h-.7zM270 207.3h.7v.7h-.7zM270.6 200.8h.7v.7h-.7zM269.8 199.9h.7v.7h-.7zM270.2 200.7h.7v.7h-.7zM275.4 194.2h.7v.7h-.7zM274.8 194.4h.7v.7h-.7zM274.8 193.1h.7v.7h-.7zM274.5 192.5h.7v.7h-.7zM274.1 198.4h.7v.7h-.7zM273.7 196.9h.7v.7h-.7zM273.1 193.3h.7v.7h-.7zM274.4 192.7h.7v.7h-.7zM277.1 196h.7v.7h-.7zM275.3 198.4h.7v.7h-.7zM277.1 197.2h.7v.7h-.7zM275.8 196.9h.7v.7h-.7zM277.1 192.1h.7v.7h-.7zM275.9 193.3h.7v.7h-.7zM275.9 195.2h.7v.7h-.7zM275.5 197.6h.7v.7h-.7zM279.4 193.2h.7v.7h-.7zM278.5 186.9h.7v.7h-.7zM279.6 184h.7v.7h-.7zM279.9 180.9h.7v.7h-.7zM279.2 182.1h.7v.7h-.7zM278.3 193.6h.7v.7h-.7zM279.2 180.4h.7v.7h-.7zM280 182.5h.7v.7h-.7zM280.3 183.5h.7v.7h-.7zM282.5 192.5h.7v.7h-.7zM280.2 183.4h.7v.7h-.7zM280.6 196h.7v.7h-.7zM281.1 192.7h.7v.7h-.7zM282.2 182.6h.7v.7h-.7zM281.6 192h.7v.7h-.7zM281.5 189.1h.7v.7h-.7zM285 184.7h.7v.7h-.7zM284.2 182.6h.7v.7h-.7zM283.4 189.5h.7v.7h-.7zM285.1 181.3h.7v.7h-.7zM283.5 184.3h.7v.7h-.7zM284.3 186.9h.7v.7h-.7zM284.4 185.9h.7v.7h-.7zM284.8 185.3h.7v.7h-.7zM286.8 186.5h.7v.7h-.7zM287.3 188.8h.7v.7h-.7zM286.8 190.8h.7v.7h-.7zM287.1 190.3h.7v.7h-.7zM285.7 189.8h.7v.7h-.7zM286.7 186.9h.7v.7h-.7zM287.8 190.1h.7v.7h-.7zM287.9 188.1h.7v.7h-.7zM289.8 210.1h.7v.7h-.7zM289.5 208.7h.7v.7h-.7zM289.6 216.1h.7v.7h-.7zM288.7 208.1h.7v.7h-.7zM291 217.3h.7v.7h-.7zM288.9 213.9h.7v.7h-.7zM290.9 209.3h.7v.7h-.7zM291.1 208.7h.7v.7h-.7zM291.6 209.5h.7v.7h-.7zM293.1 218.1h.7v.7h-.7zM290.7 217.9h.7v.7h-.7zM290.9 216.2h.7v.7h-.7zM292.7 215.4h.7v.7h-.7zM293 209.3h.7v.7h-.7zM291.3 217.2h.7v.7h-.7zM291.8 210.4h.7v.7h-.7zM295.9 168.8h.7v.7h-.7zM293.8 171.9h.7v.7h-.7zM294.2 164.7h.7v.7h-.7zM296 166.6h.7v.7h-.7zM293.9 170.1h.7v.7h-.7zM295.9 162.8h.7v.7h-.7zM294.8 168.7h.7v.7h-.7zM294.2 166.3h.7v.7h-.7zM297 164.8h.7v.7h-.7zM296.6 172h.7v.7h-.7zM297.1 164.9h.7v.7h-.7zM296.5 163.6h.7v.7h-.7zM297.4 171.3h.7v.7h-.7zM297.7 168.4h.7v.7h-.7zM296.8 162.6h.7v.7h-.7zM298.4 161.7h.7v.7h-.7zM300.7 189.6h.7v.7h-.7zM299.9 188.3h.7v.7h-.7zM301.1 184.8h.7v.7h-.7zM301.4 190.6h.7v.7h-.7zM299.8 188.7h.7v.7h-.7zM300.9 189.5h.7v.7h-.7zM300.7 187h.7v.7h-.7zM300.4 185.5h.7v.7h-.7zM302.2 190.9h.7v.7h-.7zM302.5 186.7h.7v.7h-.7zM301.5 185.3h.7v.7h-.7zM301.8 183h.7v.7h-.7zM302.9 185.4h.7v.7h-.7zM303.5 187.7h.7v.7h-.7zM303.5 185.7h.7v.7h-.7zM301.3 188.1h.7v.7h-.7zM304.7 194.4h.7v.7h-.7zM305.7 199.8h.7v.7h-.7zM305.9 198.5h.7v.7h-.7zM304.3 193.6h.7v.7h-.7zM305.4 191.8h.7v.7h-.7zM305 199.7h.7v.7h-.7zM304.5 196.1h.7v.7h-.7zM304.4 193.6h.7v.7h-.7zM306.8 200.3h.7v.7h-.7zM308.2 194.7h.7v.7h-.7zM307.3 197.7h.7v.7h-.7zM307.2 198h.7v.7h-.7zM307.4 192.2h.7v.7h-.7zM307.9 192.1h.7v.7h-.7zM307.6 194.8h.7v.7h-.7zM307 197.3h.7v.7h-.7zM310.4 195.7h.7v.7h-.7zM311.7 197.9h.7v.7h-.7zM312 194.2h.7v.7h-.7zM310.1 197.2h.7v.7h-.7zM311.6 197.5h.7v.7h-.7zM309.5 196.5h.7v.7h-.7zM311.2 197.7h.7v.7h-.7zM311.3 197h.7v.7h-.7zM312.6 197.9h.7v.7h-.7zM314 200.4h.7v.7h-.7zM311.8 197.8h.7v.7h-.7zM312 197.3h.7v.7h-.7zM312.2 198.9h.7v.7h-.7zM313.4 197.7h.7v.7h-.7zM313.8 199.9h.7v.7h-.7zM313.5 199.5h.7v.7h-.7zM316.3 224.3h.7v.7h-.7zM316.8 223.2h.7v.7h-.7zM315.5 224h.7v.7h-.7zM315 227.1h.7v.7h-.7zM314.9 225.9h.7v.7h-.7zM315.7 225.3h.7v.7h-.7zM314.9 226.9h.7v.7h-.7zM315.8 224.8h.7v.7h-.7zM317.3 228.1h.7v.7h-.7zM317.2 225.1h.7v.7h-.7zM319 227.1h.7v.7h-.7zM318.7 223h.7v.7h-.7zM317.5 226.9h.7v.7h-.7zM318 223.4h.7v.7h-.7zM317.2 227.3h.7v.7h-.7zM318.3 225.9h.7v.7h-.7zM320.3 197.7h.7v.7h-.7zM320.3 198.9h.7v.7h-.7zM321.2 191.8h.7v.7h-.7zM321.9 192.4h.7v.7h-.7zM321 193.7h.7v.7h-.7zM321.6 193.1h.7v.7h-.7zM321 196h.7v.7h-.7zM322.3 192.2h.7v.7h-.7zM322.1 197.1h.7v.7h-.7zM322.1 199h.7v.7h-.7zM324.5 189.8h.7v.7h-.7zM323.3 199.9h.7v.7h-.7zM322.6 188.6h.7v.7h-.7zM323.6 194.9h.7v.7h-.7zM324.6 194.9h.7v.7h-.7zM324.2 194.8h.7v.7h-.7zM325.6 191.2h.7v.7h-.7zM325.3 191.1h.7v.7h-.7zM326.5 189.6h.7v.7h-.7zM326.6 192.1h.7v.7h-.7zM325.2 191.8h.7v.7h-.7zM326.9 194h.7v.7h-.7zM326.6 193.1h.7v.7h-.7zM327.7 194.1h.7v.7h-.7zM328.9 195.8h.7v.7h-.7zM328.5 191.3h.7v.7h-.7zM329 196.4h.7v.7h-.7zM329.8 194.6h.7v.7h-.7zM328.9 195.3h.7v.7h-.7zM328.8 190.2h.7v.7h-.7zM329.1 189.9h.7v.7h-.7zM328.7 192.4h.7v.7h-.7zM332.9 181.1h.7v.7h-.7zM332.1 183.5h.7v.7h-.7zM330.6 190.1h.7v.7h-.7zM332.1 189.8h.7v.7h-.7zM332.4 191.3h.7v.7h-.7zM332.6 183.4h.7v.7h-.7zM331.3 190.5h.7v.7h-.7zM331.9 187.3h.7v.7h-.7zM334.2 182.4h.7v.7h-.7zM334.9 182.7h.7v.7h-.7zM334.1 190.8h.7v.7h-.7zM333.3 191.4h.7v.7h-.7zM334.7 184.9h.7v.7h-.7zM333.5 185.7h.7v.7h-.7zM333.4 189h.7v.7h-.7zM334.2 184.9h.7v.7h-.7zM337 207.4h.7v.7h-.7zM336 205.8h.7v.7h-.7zM337.3 210.4h.7v.7h-.7zM337 211.7h.7v.7h-.7zM336.3 213.4h.7v.7h-.7zM335.6 211h.7v.7h-.7zM337.2 208.2h.7v.7h-.7zM337 208.7h.7v.7h-.7zM338.4 215.2h.7v.7h-.7zM340.1 213.5h.7v.7h-.7zM338.6 212.9h.7v.7h-.7zM339.6 206.4h.7v.7h-.7zM338.8 215.3h.7v.7h-.7zM338.3 211.8h.7v.7h-.7zM339.9 208.3h.7v.7h-.7zM339.3 207.3h.7v.7h-.7zM342.8 173.2h.7v.7h-.7zM342.4 158.7h.7v.7h-.7zM342 165.9h.7v.7h-.7zM341.9 172.2h.7v.7h-.7zM343.2 166.1h.7v.7h-.7zM342.1 165.6h.7v.7h-.7zM343 166.7h.7v.7h-.7zM342.8 169.4h.7v.7h-.7zM344.9 164h.7v.7h-.7zM343 169.8h.7v.7h-.7zM344.7 171.3h.7v.7h-.7zM343 168.8h.7v.7h-.7zM344 171.4h.7v.7h-.7zM345.5 170.1h.7v.7h-.7zM345.2 172.9h.7v.7h-.7zM343.8 164.7h.7v.7h-.7zM347.8 187.2h.7v.7h-.7zM347.1 186.4h.7v.7h-.7zM347.8 191.9h.7v.7h-.7zM346.7 186.4h.7v.7h-.7zM347.2 187.1h.7v.7h-.7zM346.9 188.6h.7v.7h-.7zM346.6 184.8h.7v.7h-.7zM348.5 189.7h.7v.7h-.7zM349.3 185.9h.7v.7h-.7zM348.7 185.7h.7v.7h-.7zM349.7 193h.7v.7h-.7zM350 187.7h.7v.7h-.7zM348.7 185.8h.7v.7h-.7zM350.4 185.6h.7v.7h-.7zM348.5 185h.7v.7h-.7zM350.2 192.1h.7v.7h-.7zM351.8 206.3h.7v.7h-.7zM351.4 202.7h.7v.7h-.7zM353.5 204h.7v.7h-.7zM352.5 208.6h.7v.7h-.7zM353.6 205.9h.7v.7h-.7zM351.7 210.6h.7v.7h-.7zM352.5 203.4h.7v.7h-.7zM353.6 209.1h.7v.7h-.7zM354 208.5h.7v.7h-.7zM354.2 211.4h.7v.7h-.7zM354.1 203.6h.7v.7h-.7zM355.2 208.4h.7v.7h-.7zM353.7 204h.7v.7h-.7zM354.2 203.9h.7v.7h-.7zM353.5 206h.7v.7h-.7zM355.1 205.5h.7v.7h-.7zM357.1 218.9h.7v.7h-.7zM357.3 210.1h.7v.7h-.7zM358.5 214.3h.7v.7h-.7zM357.8 209h.7v.7h-.7zM358.5 216.9h.7v.7h-.7zM358 218.8h.7v.7h-.7zM358 210.3h.7v.7h-.7zM356.5 207.5h.7v.7h-.7zM360.6 208.9h.7v.7h-.7zM358.8 210.6h.7v.7h-.7zM358.8 214.3h.7v.7h-.7zM360.6 214.2h.7v.7h-.7zM359.8 214.8h.7v.7h-.7zM359.9 206.9h.7v.7h-.7zM360.3 207.8h.7v.7h-.7zM360.1 208.3h.7v.7h-.7zM363 211.9h.7v.7h-.7zM362 201.6h.7v.7h-.7zM362.1 212h.7v.7h-.7zM363.2 206.5h.7v.7h-.7zM363 201.2h.7v.7h-.7zM363.2 201.8h.7v.7h-.7zM362.7 206.7h.7v.7h-.7zM362.8 202.3h.7v.7h-.7zM364.4 209.8h.7v.7h-.7zM364 210.4h.7v.7h-.7zM366 202.2h.7v.7h-.7zM364.9 214h.7v.7h-.7zM364.1 208.7h.7v.7h-.7zM364.1 207.9h.7v.7h-.7zM364.4 209.2h.7v.7h-.7zM365.8 203.3h.7v.7h-.7zM368.6 165.1h.7v.7h-.7zM369.1 177.4h.7v.7h-.7zM369.1 170.8h.7v.7h-.7zM369.4 173.1h.7v.7h-.7zM369.4 164.6h.7v.7h-.7zM368.1 172.1h.7v.7h-.7zM367.6 166h.7v.7h-.7zM368.8 178.2h.7v.7h-.7zM370.3 179.2h.7v.7h-.7zM371.1 175.1h.7v.7h-.7zM371 180.9h.7v.7h-.7zM369.6 177h.7v.7h-.7zM371.2 176.9h.7v.7h-.7zM369.3 179.2h.7v.7h-.7zM370 178.2h.7v.7h-.7zM371.6 170.3h.7v.7h-.7zM373.9 214h.7v.7h-.7zM372.4 214.3h.7v.7h-.7zM374.3 215.7h.7v.7h-.7zM374.4 215.4h.7v.7h-.7zM373.8 210.7h.7v.7h-.7zM374.5 213.7h.7v.7h-.7zM374.7 213.8h.7v.7h-.7zM372.4 216.7h.7v.7h-.7zM374.3 213.3h.7v.7h-.7zM376.4 209.8h.7v.7h-.7zM375.8 212.7h.7v.7h-.7zM375.1 213h.7v.7h-.7zM375.2 210.8h.7v.7h-.7zM375.9 216.6h.7v.7h-.7zM374.5 211.5h.7v.7h-.7zM376.1 211.3h.7v.7h-.7zM379 215.5h.7v.7h-.7zM378.5 215.5h.7v.7h-.7zM379.9 211.8h.7v.7h-.7zM380 211.9h.7v.7h-.7zM379.6 208.9h.7v.7h-.7zM378.8 208.7h.7v.7h-.7zM377.9 207.2h.7v.7h-.7zM378.6 216h.7v.7h-.7zM380.7 213.3h.7v.7h-.7zM380.4 216.4h.7v.7h-.7zM381.1 213.7h.7v.7h-.7zM380.9 211h.7v.7h-.7zM381.9 213.8h.7v.7h-.7zM380.5 212.1h.7v.7h-.7zM379.7 216.6h.7v.7h-.7zM381.3 215.3h.7v.7h-.7zM384.2 201.2h.7v.7h-.7zM383.7 193.6h.7v.7h-.7zM384.4 203.5h.7v.7h-.7zM384.7 196.9h.7v.7h-.7zM384.1 197h.7v.7h-.7zM385.2 198.9h.7v.7h-.7zM384.8 202.1h.7v.7h-.7zM383.7 202.5h.7v.7h-.7zM386.8 196h.7v.7h-.7zM385.5 194.1h.7v.7h-.7zM386.5 200.6h.7v.7h-.7zM386.3 206.1h.7v.7h-.7zM386.8 207h.7v.7h-.7zM386.5 198.3h.7v.7h-.7zM387.1 197.1h.7v.7h-.7zM386.3 199.9h.7v.7h-.7zM388.7 186.9h.7v.7h-.7zM389.9 176.5h.7v.7h-.7zM389.4 181.8h.7v.7h-.7zM389.9 185.1h.7v.7h-.7zM388.9 178.5h.7v.7h-.7zM389.3 189.2h.7v.7h-.7zM389.6 178.7h.7v.7h-.7zM389.9 178.3h.7v.7h-.7zM390.7 189.8h.7v.7h-.7zM390.1 178.3h.7v.7h-.7zM391.9 183.4h.7v.7h-.7zM391 185.5h.7v.7h-.7zM390.3 187.6h.7v.7h-.7zM391.6 179.4h.7v.7h-.7zM391.6 190.3h.7v.7h-.7zM392 185.7h.7v.7h-.7zM393.5 183.1h.7v.7h-.7zM393.3 176.4h.7v.7h-.7zM394.5 177.3h.7v.7h-.7zM394.9 182.5h.7v.7h-.7zM394.2 179.3h.7v.7h-.7zM393.9 179.2h.7v.7h-.7zM395.2 182.4h.7v.7h-.7zM393.5 182.4h.7v.7h-.7zM397 181.1h.7v.7h-.7zM395.9 180h.7v.7h-.7zM396.8 173.5h.7v.7h-.7zM395.9 182.5h.7v.7h-.7zM395.8 175.2h.7v.7h-.7zM397 173.8h.7v.7h-.7zM397.3 184.3h.7v.7h-.7zM397 177h.7v.7h-.7z"/>
<path fill="none" stroke="#2a2a2a" stroke-width="1.4" stroke-opacity="0.88" stroke-linecap="round" d="M219 239.2L216.1 243.5M224.2 239.2L220.9 244.2M229.5 239.2L225.3 245.3M234.7 239.2L229.3 247.2M239.9 239.2L237 243.5M245.2 239.2L241.8 244.2M250.4 239.2L243.3 249.6M255.6 239.2L252.7 243.5M260.8 239.2L257.5 244.2M266.1 239.2L260.8 247.1M271.3 239.2L267.9 244.2M276.5 239.2L272.4 245.3M281.8 239.2L277.6 245.3M287 239.2L281.7 247.1M292.2 239.2L286 248.5M297.4 239.2L294.5 243.5M302.7 239.2L297.4 247.1M307.9 239.2L303.8 245.3M313.1 239.2L309 245.3M318.4 239.2L315 244.2M323.6 239.2L319.5 245.3M328.8 239.2L324.7 245.3M334.1 239.2L330.3 244.8M339.3 239.2L333.5 247.8M344.5 239.2L339.5 246.6M349.8 239.2L344.8 246.6M355 239.2L350.4 246M360.2 239.2L356.9 244.2M365.4 239.2L360.1 247.1M370.7 239.2L367.3 244.2M375.9 239.2L371.8 245.3M381.1 239.2L377.4 244.8M386.4 239.2L383 244.2M391.6 239.2L388.2 244.2M396.8 239.2L392.9 245"/>
<text x="296.45" y="143.5" font-size="2.2" fill="#777" text-anchor="middle" font-family="Liberation Sans, sans-serif">**</text>
<text x="322.6" y="143.5" font-size="2.2" fill="#777" text-anchor="middle" font-family="Liberation Sans, sans-serif">**</text>
<text x="343.52" y="143.5" font-size="2.2" fill="#777" text-anchor="middle" font-family="Liberation Sans, sans-serif">**</text>
<text x="369.67" y="143.5" font-size="2.2" fill="#777" text-anchor="middle" font-family="Liberation Sans, sans-serif">**</text>
<text x="390.59" y="143.5" font-size="2.2" fill="#777" text-anchor="middle" font-family="Liberation Sans, sans-serif">**</text>
<text x="2.4" y="269" font-size="8.3" font-weight="bold" fill="#111" font-family="Liberation Sans, sans-serif">E</text>
<text x="86.5" y="266.65" font-size="2.2" fill="#333" textLength="8.2" lengthAdjust="spacingAndGlyphs" font-family="Liberation Sans, sans-serif">Group</text>
<rect x="96.2" y="264.5" width="2.6" height="2.6" fill="#7a3432" stroke="#3a1a18" stroke-width="0.35"/>
<text x="100" y="266.65" font-size="2.2" fill="#444" textLength="7" lengthAdjust="spacingAndGlyphs" font-family="Liberation Sans, sans-serif">Control</text>
<rect x="110.5" y="264.5" width="2.6" height="2.6" fill="#3a6a70" stroke="#1a3438" stroke-width="0.35"/>
<text x="115" y="266.65" font-size="2.2" fill="#444" textLength="5" lengthAdjust="spacingAndGlyphs" font-family="Liberation Sans, sans-serif">NASH</text>
<line x1="13.5" y1="272.3" x2="13.5" y2="355.3" stroke="#999" stroke-width="0.5"/>
<line x1="13.5" y1="355.3" x2="193.75" y2="355.3" stroke="#aaa" stroke-width="0.5"/>
<line x1="12.5" y1="290.5" x2="13.5" y2="290.5" stroke="#888" stroke-width="0.4"/>
<text x="12.2" y="291.35" font-size="2.4" font-weight="bold" fill="#333" text-anchor="end" font-family="Liberation Sans, sans-serif">10.0</text>
<line x1="12.5" y1="312.6" x2="13.5" y2="312.6" stroke="#888" stroke-width="0.4"/>
<text x="12.2" y="313.45" font-size="2.4" font-weight="bold" fill="#333" text-anchor="end" font-family="Liberation Sans, sans-serif">7.5</text>
<line x1="12.5" y1="334.6" x2="13.5" y2="334.6" stroke="#888" stroke-width="0.4"/>
<text x="12.2" y="335.45" font-size="2.4" font-weight="bold" fill="#333" text-anchor="end" font-family="Liberation Sans, sans-serif">5.0</text>
<text transform="translate(3.4,313.3) rotate(-90)" font-size="2.5" font-weight="bold" fill="#333" text-anchor="middle" textLength="32" lengthAdjust="spacingAndGlyphs" font-family="Liberation Sans, sans-serif">Pyroptosis expression</text>
<line x1="16.1" y1="355.3" x2="16.1" y2="356.1" stroke="#999" stroke-width="0.3"/>
<line x1="20.97" y1="355.3" x2="20.97" y2="356.1" stroke="#999" stroke-width="0.3"/>
<line x1="25.83" y1="355.3" x2="25.83" y2="356.1" stroke="#999" stroke-width="0.3"/>
<line x1="30.7" y1="355.3" x2="30.7" y2="356.1" stroke="#999" stroke-width="0.3"/>
<line x1="35.56" y1="355.3" x2="35.56" y2="356.1" stroke="#999" stroke-width="0.3"/>
<line x1="40.43" y1="355.3" x2="40.43" y2="356.1" stroke="#999" stroke-width="0.3"/>
<line x1="45.29" y1="355.3" x2="45.29" y2="356.1" stroke="#999" stroke-width="0.3"/>
<line x1="50.16" y1="355.3" x2="50.16" y2="356.1" stroke="#999" stroke-width="0.3"/>
<line x1="55.02" y1="355.3" x2="55.02" y2="356.1" stroke="#999" stroke-width="0.3"/>
<line x1="59.89" y1="355.3" x2="59.89" y2="356.1" stroke="#999" stroke-width="0.3"/>
<line x1="64.75" y1="355.3" x2="64.75" y2="356.1" stroke="#999" stroke-width="0.3"/>
<line x1="69.62" y1="355.3" x2="69.62" y2="356.1" stroke="#999" stroke-width="0.3"/>
<line x1="74.48" y1="355.3" x2="74.48" y2="356.1" stroke="#999" stroke-width="0.3"/>
<line x1="79.34" y1="355.3" x2="79.34" y2="356.1" stroke="#999" stroke-width="0.3"/>
<line x1="84.21" y1="355.3" x2="84.21" y2="356.1" stroke="#999" stroke-width="0.3"/>
<line x1="89.08" y1="355.3" x2="89.08" y2="356.1" stroke="#999" stroke-width="0.3"/>
<line x1="93.94" y1="355.3" x2="93.94" y2="356.1" stroke="#999" stroke-width="0.3"/>
<line x1="98.81" y1="355.3" x2="98.81" y2="356.1" stroke="#999" stroke-width="0.3"/>
<line x1="103.67" y1="355.3" x2="103.67" y2="356.1" stroke="#999" stroke-width="0.3"/>
<line x1="108.53" y1="355.3" x2="108.53" y2="356.1" stroke="#999" stroke-width="0.3"/>
<line x1="113.4" y1="355.3" x2="113.4" y2="356.1" stroke="#999" stroke-width="0.3"/>
<line x1="118.27" y1="355.3" x2="118.27" y2="356.1" stroke="#999" stroke-width="0.3"/>
<line x1="123.13" y1="355.3" x2="123.13" y2="356.1" stroke="#999" stroke-width="0.3"/>
<line x1="128" y1="355.3" x2="128" y2="356.1" stroke="#999" stroke-width="0.3"/>
<line x1="132.86" y1="355.3" x2="132.86" y2="356.1" stroke="#999" stroke-width="0.3"/>
<line x1="137.72" y1="355.3" x2="137.72" y2="356.1" stroke="#999" stroke-width="0.3"/>
<line x1="142.59" y1="355.3" x2="142.59" y2="356.1" stroke="#999" stroke-width="0.3"/>
<line x1="147.46" y1="355.3" x2="147.46" y2="356.1" stroke="#999" stroke-width="0.3"/>
<line x1="152.32" y1="355.3" x2="152.32" y2="356.1" stroke="#999" stroke-width="0.3"/>
<line x1="157.19" y1="355.3" x2="157.19" y2="356.1" stroke="#999" stroke-width="0.3"/>
<line x1="162.05" y1="355.3" x2="162.05" y2="356.1" stroke="#999" stroke-width="0.3"/>
<line x1="166.91" y1="355.3" x2="166.91" y2="356.1" stroke="#999" stroke-width="0.3"/>
<line x1="171.78" y1="355.3" x2="171.78" y2="356.1" stroke="#999" stroke-width="0.3"/>
<line x1="176.65" y1="355.3" x2="176.65" y2="356.1" stroke="#999" stroke-width="0.3"/>
<line x1="181.51" y1="355.3" x2="181.51" y2="356.1" stroke="#999" stroke-width="0.3"/>
<line x1="186.38" y1="355.3" x2="186.38" y2="356.1" stroke="#999" stroke-width="0.3"/>
<line x1="191.24" y1="355.3" x2="191.24" y2="356.1" stroke="#999" stroke-width="0.3"/>
<path fill="none" stroke="#aaa" stroke-width="0.35" stroke-opacity="0.8" d="M15.13 318.8V331.9M17.08 319.1V332.2M19.99 305.7V322.1M21.94 299.9V319.4M24.86 302.1V321.9M26.81 302.4V322.2M29.72 295.8V312.5M31.67 296.1V312.8M34.59 321.5V337.9M36.54 321.8V338.2M39.45 281.3V297.7M41.4 281.6V298M44.32 297.1V313.5M46.27 297.4V313.8M49.18 285.2V301.3M51.13 285.5V301.6M54.05 309.3V325.7M56 309.6V326M58.91 298.7V318.2M60.86 299V318.5M63.77 303.9V326.4M65.72 304.2V326.7M68.64 301.2V320.5M70.59 301.5V320.8M73.5 305V327.8M75.45 305.3V328.1M78.37 333.4V346.5M80.32 333.7V346.8M83.23 341.6V351.6M85.19 341.9V351.9M88.1 297.4V329.6M90.05 297.7V329.9M92.96 287V313M94.91 287.3V313.3M97.83 309V322.4M99.78 309.3V322.7M102.7 327.3V344.7M104.65 327.6V345M107.56 333.4V346.5M109.51 333.7V346.8M112.42 316.2V342.2M114.38 316.5V342.5M117.29 312.9V325.7M119.24 313.2V326M122.15 314.2V330.3M124.1 314.5V330.6M127.02 300.3V322.8M128.97 300.6V323.1M131.89 277.7V294.1M133.84 278V294.4M136.75 319.5V342.6M138.7 319.8V342.9M141.62 330.1V349.9M143.56 330.4V350.2M146.48 324.2V343.7M148.43 324.5V344M151.34 323.8V353M153.29 324.1V353.3M156.21 320.6V340.1M158.16 320.9V340.4M161.08 308.4V327.9M163.03 308.7V328.2M165.94 321.7V341.5M167.89 322V341.8M170.81 307.2V326.7M172.75 307.5V327M175.67 313.5V336.3M177.62 313.8V336.6M180.53 291.3V327.2M182.48 291.6V327.5M185.4 320.6V340.1M187.35 320.9V340.4M190.27 298.2V331.1M192.22 298.5V331.4"/>
<path fill="#b05a56" stroke="#783834" stroke-width="0.3" d="M14.15 322.7h1.95v4.9h-1.95zM19.02 310.6h1.95v6.1h-1.95zM23.88 308h1.95v7.4h-1.95zM28.75 300.8h1.95v6.2h-1.95zM33.61 326.4h1.95v6.1h-1.95zM38.48 286.2h1.95v6.1h-1.95zM43.34 302h1.95v6.1h-1.95zM48.2 290h1.95v6h-1.95zM53.07 314.2h1.95v6.1h-1.95zM57.94 304.5h1.95v7.3h-1.95zM62.8 310.6h1.95v8.4h-1.95zM67.67 307h1.95v7.2h-1.95zM72.53 311.8h1.95v8.5h-1.95zM77.39 337.3h1.95v4.9h-1.95zM82.26 344.6h1.95v3.7h-1.95zM87.13 307h1.95v12h-1.95zM91.99 294.8h1.95v9.7h-1.95zM96.86 313h1.95v5h-1.95zM101.72 332.5h1.95v6.5h-1.95zM106.58 337.3h1.95v4.9h-1.95zM111.45 324h1.95v9.7h-1.95zM116.32 316.7h1.95v4.8h-1.95zM121.18 319h1.95v6h-1.95zM126.05 307h1.95v8.4h-1.95zM130.91 282.6h1.95v6.1h-1.95zM135.78 326.4h1.95v8.6h-1.95zM140.64 336h1.95v7.4h-1.95zM145.51 330h1.95v7.3h-1.95zM150.37 332.5h1.95v10.9h-1.95zM155.24 326.4h1.95v7.3h-1.95zM160.1 314.2h1.95v7.3h-1.95zM164.97 327.6h1.95v7.4h-1.95zM169.83 313h1.95v7.3h-1.95zM174.7 320.3h1.95v8.5h-1.95zM184.43 326.4h1.95v7.3h-1.95z"/>
<path fill="#5a979c" stroke="#386468" stroke-width="0.3" d="M16.1 323h1.95v4.9h-1.95zM20.97 305.7h1.95v7.3h-1.95zM25.83 308.3h1.95v7.4h-1.95zM30.7 301.1h1.95v6.2h-1.95zM35.56 326.7h1.95v6.1h-1.95zM40.43 286.5h1.95v6.1h-1.95zM45.29 302.3h1.95v6.1h-1.95zM50.16 290.3h1.95v6h-1.95zM55.02 314.5h1.95v6.1h-1.95zM59.89 304.8h1.95v7.3h-1.95zM64.75 310.9h1.95v8.4h-1.95zM69.62 307.3h1.95v7.2h-1.95zM74.48 312.1h1.95v8.5h-1.95zM79.34 337.6h1.95v4.9h-1.95zM84.21 344.9h1.95v3.7h-1.95zM89.08 307.3h1.95v12h-1.95zM93.94 295.1h1.95v9.7h-1.95zM98.81 313.3h1.95v5h-1.95zM103.67 332.8h1.95v6.5h-1.95zM108.53 337.6h1.95v4.9h-1.95zM113.4 324.3h1.95v9.7h-1.95zM118.27 317h1.95v4.8h-1.95zM123.13 319.3h1.95v6h-1.95zM128 307.3h1.95v8.4h-1.95zM132.86 282.9h1.95v6.1h-1.95zM137.72 326.7h1.95v8.6h-1.95zM142.59 336.3h1.95v7.4h-1.95zM147.46 330.3h1.95v7.3h-1.95zM152.32 332.8h1.95v10.9h-1.95zM157.19 326.7h1.95v7.3h-1.95zM162.05 314.5h1.95v7.3h-1.95zM166.91 327.9h1.95v7.4h-1.95zM171.78 313.3h1.95v7.3h-1.95zM176.65 320.6h1.95v8.5h-1.95zM186.38 326.7h1.95v7.3h-1.95z"/>
<path fill="#d2705e" stroke="#b05040" stroke-width="0.3" d="M179.56 302h1.95v13.4h-1.95zM189.29 308h1.95v12.3h-1.95z"/>
<path fill="#6fb0c4" stroke="#4a94a8" stroke-width="0.3" d="M181.51 302.3h1.95v13.4h-1.95zM191.24 308.3h1.95v12.3h-1.95z"/>
<path fill="none" stroke="#3a1412" stroke-width="0.5" d="M14.15 325.15h1.95M19.02 313.65h1.95M23.88 311.7h1.95M28.75 303.9h1.95M33.61 329.45h1.95M38.48 289.25h1.95M43.34 305.05h1.95M48.2 293h1.95M53.07 317.25h1.95M57.94 308.15h1.95M62.8 314.8h1.95M67.67 310.6h1.95M72.53 316.05h1.95M77.39 339.75h1.95M82.26 346.45h1.95M87.13 313h1.95M91.99 299.65h1.95M96.86 315.5h1.95M101.72 335.75h1.95M106.58 339.75h1.95M111.45 328.85h1.95M116.32 319.1h1.95M121.18 322h1.95M126.05 311.2h1.95M130.91 285.65h1.95M135.78 330.7h1.95M140.64 339.7h1.95M145.51 333.65h1.95M150.37 337.95h1.95M155.24 330.05h1.95M160.1 317.85h1.95M164.97 331.3h1.95M169.83 316.65h1.95M174.7 324.55h1.95M179.56 308.7h1.95M184.43 330.05h1.95M189.29 314.15h1.95"/>
<path fill="none" stroke="#163a3e" stroke-width="0.5" d="M16.1 325.45h1.95M20.97 309.35h1.95M25.83 312h1.95M30.7 304.2h1.95M35.56 329.75h1.95M40.43 289.55h1.95M45.29 305.35h1.95M50.16 293.3h1.95M55.02 317.55h1.95M59.89 308.45h1.95M64.75 315.1h1.95M69.62 310.9h1.95M74.48 316.35h1.95M79.34 340.05h1.95M84.21 346.75h1.95M89.08 313.3h1.95M93.94 299.95h1.95M98.81 315.8h1.95M103.67 336.05h1.95M108.53 340.05h1.95M113.4 329.15h1.95M118.27 319.4h1.95M123.13 322.3h1.95M128 311.5h1.95M132.86 285.95h1.95M137.72 331h1.95M142.59 340h1.95M147.46 333.95h1.95M152.32 338.25h1.95M157.19 330.35h1.95M162.05 318.15h1.95M166.91 331.6h1.95M171.78 316.95h1.95M176.65 324.85h1.95M181.51 309h1.95M186.38 330.35h1.95M191.24 314.45h1.95"/>
<path fill="#333" fill-opacity="0.75" d="M14.1 315.7h.8v.8h-.8zM16.3 316.5h.8v.8h-.8zM16.6 334.2h.8v.8h-.8zM19.2 324.6h.8v.8h-.8zM19.3 304.2h.8v.8h-.8zM21.6 320.3h.8v.8h-.8zM24.9 323.9h.8v.8h-.8zM26.7 299.4h.8v.8h-.8zM26.4 300.6h.8v.8h-.8zM26.8 299.1h.8v.8h-.8zM29.8 294.7h.8v.8h-.8zM29.6 292.9h.8v.8h-.8zM28.9 293.8h.8v.8h-.8zM31.6 293.5h.8v.8h-.8zM31 314h.8v.8h-.8zM31.6 293.2h.8v.8h-.8zM34.1 339.5h.8v.8h-.8zM35.6 321h.8v.8h-.8zM35.7 338.7h.8v.8h-.8zM39.3 280.4h.8v.8h-.8zM40.7 300.1h.8v.8h-.8zM40.8 279h.8v.8h-.8zM40.4 298.6h.8v.8h-.8zM44.1 296.5h.8v.8h-.8zM44.2 294.4h.8v.8h-.8zM44 295h.8v.8h-.8zM45.9 294.9h.8v.8h-.8zM46.1 294.2h.8v.8h-.8zM46.4 314.9h.8v.8h-.8zM49.2 283.8h.8v.8h-.8zM49 301.1h.8v.8h-.8zM51.2 283.2h.8v.8h-.8zM51.2 301.7h.8v.8h-.8zM54.2 325.6h.8v.8h-.8zM53.2 308.6h.8v.8h-.8zM53.3 326.4h.8v.8h-.8zM55.9 328.3h.8v.8h-.8zM55.1 328h.8v.8h-.8zM55.1 307.1h.8v.8h-.8zM58.7 320.4h.8v.8h-.8zM58.6 297.2h.8v.8h-.8zM60.1 297.6h.8v.8h-.8zM60.2 319.1h.8v.8h-.8zM60.3 298.5h.8v.8h-.8zM63.5 303.2h.8v.8h-.8zM63.3 303.1h.8v.8h-.8zM65.7 327.6h.8v.8h-.8zM65.3 303.2h.8v.8h-.8zM67.9 320.3h.8v.8h-.8zM70.4 322.6h.8v.8h-.8zM70.4 300.4h.8v.8h-.8zM73.5 327.7h.8v.8h-.8zM72.9 303.5h.8v.8h-.8zM75.5 328.4h.8v.8h-.8zM74.6 304.3h.8v.8h-.8zM78.1 331h.8v.8h-.8zM78.4 332.9h.8v.8h-.8zM80.3 330.9h.8v.8h-.8zM83.2 351.3h.8v.8h-.8zM82.7 353.3h.8v.8h-.8zM85 340.1h.8v.8h-.8zM84.5 340.4h.8v.8h-.8zM85.2 352.1h.8v.8h-.8zM87.6 329.4h.8v.8h-.8zM89.6 296.4h.8v.8h-.8zM89.6 329.7h.8v.8h-.8zM90 331.3h.8v.8h-.8zM93 285.7h.8v.8h-.8zM92.9 286.2h.8v.8h-.8zM95.1 286.4h.8v.8h-.8zM94.2 315.2h.8v.8h-.8zM98 324.5h.8v.8h-.8zM99.2 323.7h.8v.8h-.8zM99.2 325h.8v.8h-.8zM99.5 324.8h.8v.8h-.8zM101.9 324h.8v.8h-.8zM101.8 345.9h.8v.8h-.8zM102 326.3h.8v.8h-.8zM104.7 324.8h.8v.8h-.8zM104.3 325.3h.8v.8h-.8zM107.6 348.4h.8v.8h-.8zM106.8 348.5h.8v.8h-.8zM107.6 332.4h.8v.8h-.8zM109.7 331.2h.8v.8h-.8zM109.7 331.3h.8v.8h-.8zM112 314.3h.8v.8h-.8zM112.6 342.9h.8v.8h-.8zM114.5 315h.8v.8h-.8zM114.3 343.2h.8v.8h-.8zM114.3 344.2h.8v.8h-.8zM116.3 326.1h.8v.8h-.8zM116.6 311.9h.8v.8h-.8zM117.4 310.5h.8v.8h-.8zM119.3 326.2h.8v.8h-.8zM119 310.9h.8v.8h-.8zM122.3 331.2h.8v.8h-.8zM121.4 313.8h.8v.8h-.8zM121.7 313.5h.8v.8h-.8zM124.1 311.6h.8v.8h-.8zM123.8 312.2h.8v.8h-.8zM124.3 331.4h.8v.8h-.8zM126.6 299.7h.8v.8h-.8zM126.9 322.5h.8v.8h-.8zM126.9 325.1h.8v.8h-.8zM128.9 323.8h.8v.8h-.8zM128.5 324.6h.8v.8h-.8zM131.9 275.7h.8v.8h-.8zM133.1 296.3h.8v.8h-.8zM134 294.5h.8v.8h-.8zM136.8 317.8h.8v.8h-.8zM138.2 317.4h.8v.8h-.8zM138.4 343.8h.8v.8h-.8zM141.5 327.3h.8v.8h-.8zM143.7 327h.8v.8h-.8zM142.9 327.7h.8v.8h-.8zM145.7 345.2h.8v.8h-.8zM147.7 323.2h.8v.8h-.8zM151.3 353.4h.8v.8h-.8zM150.4 352.8h.8v.8h-.8zM152.9 322.2h.8v.8h-.8zM152.5 353.4h.8v.8h-.8zM155.4 318.4h.8v.8h-.8zM156.3 341.4h.8v.8h-.8zM155.5 341.2h.8v.8h-.8zM157.4 317.8h.8v.8h-.8zM160.1 305.3h.8v.8h-.8zM162.8 305.6h.8v.8h-.8zM162.5 307.2h.8v.8h-.8zM166 343.2h.8v.8h-.8zM165.8 320.4h.8v.8h-.8zM166.1 320.5h.8v.8h-.8zM168 342.5h.8v.8h-.8zM167.9 341.8h.8v.8h-.8zM170.3 326.7h.8v.8h-.8zM171 328.1h.8v.8h-.8zM171.9 328.4h.8v.8h-.8zM172.4 305.8h.8v.8h-.8zM175.9 338h.8v.8h-.8zM175.4 310.3h.8v.8h-.8zM177 337.5h.8v.8h-.8zM176.7 312.5h.8v.8h-.8zM179.9 288.3h.8v.8h-.8zM179.8 329.7h.8v.8h-.8zM182.1 289.7h.8v.8h-.8zM185.2 318.8h.8v.8h-.8zM185.3 319.4h.8v.8h-.8zM187.3 319.3h.8v.8h-.8zM190 333.7h.8v.8h-.8zM191.4 295.9h.8v.8h-.8zM191.5 296h.8v.8h-.8z"/>
<path fill="#222" fill-opacity="0.5" d="M13.8 325.9h.7v.7h-.7zM13.6 322.8h.7v.7h-.7zM14.9 324.3h.7v.7h-.7zM13.6 327.5h.7v.7h-.7zM13.8 327.7h.7v.7h-.7zM15.1 322.4h.7v.7h-.7zM14.3 323.4h.7v.7h-.7zM14 325.4h.7v.7h-.7zM17.1 321.2h.7v.7h-.7zM16.9 327.1h.7v.7h-.7zM16.8 324.2h.7v.7h-.7zM16 325.9h.7v.7h-.7zM18 328.3h.7v.7h-.7zM17.9 327.8h.7v.7h-.7zM18 323.6h.7v.7h-.7zM16.7 321.3h.7v.7h-.7zM20.3 309.9h.7v.7h-.7zM19.5 313.5h.7v.7h-.7zM20.2 310h.7v.7h-.7zM19 310h.7v.7h-.7zM20.2 314h.7v.7h-.7zM20.3 318.5h.7v.7h-.7zM20.7 318.2h.7v.7h-.7zM20.2 315.7h.7v.7h-.7zM21.8 310.7h.7v.7h-.7zM21.2 306.6h.7v.7h-.7zM22.2 303.8h.7v.7h-.7zM21.4 311.5h.7v.7h-.7zM22.1 302.8h.7v.7h-.7zM21.2 312.6h.7v.7h-.7zM21.2 313.7h.7v.7h-.7zM21.6 314h.7v.7h-.7zM25.4 317.7h.7v.7h-.7zM23.9 311.7h.7v.7h-.7zM24.1 309.9h.7v.7h-.7zM25.6 313.4h.7v.7h-.7zM23.9 307.3h.7v.7h-.7zM24.6 315.5h.7v.7h-.7zM25.1 315h.7v.7h-.7zM25.5 306.8h.7v.7h-.7zM26.6 309.5h.7v.7h-.7zM27.2 311.1h.7v.7h-.7zM25.2 317h.7v.7h-.7zM26.1 307.7h.7v.7h-.7zM25.4 316.7h.7v.7h-.7zM27.6 316.7h.7v.7h-.7zM26.6 310.9h.7v.7h-.7zM26.9 317.3h.7v.7h-.7zM29.1 303.5h.7v.7h-.7zM30.1 305.8h.7v.7h-.7zM28.1 307.9h.7v.7h-.7zM30 304.3h.7v.7h-.7zM30 300.5h.7v.7h-.7zM28.7 305.2h.7v.7h-.7zM28.6 308.1h.7v.7h-.7zM29.3 298h.7v.7h-.7zM30.3 308.1h.7v.7h-.7zM31.4 299.9h.7v.7h-.7zM30.9 305.1h.7v.7h-.7zM32.5 304h.7v.7h-.7zM32.3 302.5h.7v.7h-.7zM30.1 299.1h.7v.7h-.7zM30.2 305.5h.7v.7h-.7zM31.6 304.5h.7v.7h-.7zM34.4 331h.7v.7h-.7zM33.4 325.9h.7v.7h-.7zM35.1 329.2h.7v.7h-.7zM34.8 325.9h.7v.7h-.7zM34.7 331.7h.7v.7h-.7zM34.5 334.4h.7v.7h-.7zM34.3 324.6h.7v.7h-.7zM33.2 331.1h.7v.7h-.7zM37.4 330.6h.7v.7h-.7zM34.9 332.4h.7v.7h-.7zM35.2 324.7h.7v.7h-.7zM36.4 331.5h.7v.7h-.7zM36.1 329.6h.7v.7h-.7zM36.5 328.4h.7v.7h-.7zM37.3 331h.7v.7h-.7zM37 332h.7v.7h-.7zM40.2 284.9h.7v.7h-.7zM37.9 292.2h.7v.7h-.7zM38.6 290.2h.7v.7h-.7zM38.1 286.2h.7v.7h-.7zM40 292.1h.7v.7h-.7zM38.8 283.7h.7v.7h-.7zM38.2 285.2h.7v.7h-.7zM39.5 293.8h.7v.7h-.7zM40.4 292.2h.7v.7h-.7zM40 287.5h.7v.7h-.7zM39.8 285.5h.7v.7h-.7zM40.9 293.1h.7v.7h-.7zM39.9 287.4h.7v.7h-.7zM40.9 285h.7v.7h-.7zM39.9 286h.7v.7h-.7zM40.4 291h.7v.7h-.7zM43.1 306h.7v.7h-.7zM43.4 309.6h.7v.7h-.7zM43.6 303.5h.7v.7h-.7zM42.9 309.8h.7v.7h-.7zM44.3 308.7h.7v.7h-.7zM44.4 306h.7v.7h-.7zM43 307.3h.7v.7h-.7zM42.8 300h.7v.7h-.7zM47 304.5h.7v.7h-.7zM45.6 302.3h.7v.7h-.7zM45.1 307.2h.7v.7h-.7zM46.9 310.4h.7v.7h-.7zM45.8 309h.7v.7h-.7zM45.2 303.1h.7v.7h-.7zM46.7 303.8h.7v.7h-.7zM45.2 300.7h.7v.7h-.7zM47.9 289.2h.7v.7h-.7zM50.1 288.3h.7v.7h-.7zM49.2 291.4h.7v.7h-.7zM48.1 293.4h.7v.7h-.7zM47.6 287.9h.7v.7h-.7zM47.9 296.5h.7v.7h-.7zM48.5 297.7h.7v.7h-.7zM47.9 295.1h.7v.7h-.7zM51.2 287.9h.7v.7h-.7zM51.5 297.1h.7v.7h-.7zM50.1 296.8h.7v.7h-.7zM50.2 297.2h.7v.7h-.7zM49.7 287.6h.7v.7h-.7zM50.4 291.6h.7v.7h-.7zM50.7 290.6h.7v.7h-.7zM49.8 292.8h.7v.7h-.7zM52.5 315.1h.7v.7h-.7zM53.7 317h.7v.7h-.7zM54 313.8h.7v.7h-.7zM54.8 322.4h.7v.7h-.7zM52.6 315.5h.7v.7h-.7zM52.5 316.2h.7v.7h-.7zM53.7 317.1h.7v.7h-.7zM52.7 314.9h.7v.7h-.7zM55.6 322.5h.7v.7h-.7zM54.4 313.7h.7v.7h-.7zM55.7 318.9h.7v.7h-.7zM55.6 312h.7v.7h-.7zM55.7 319.8h.7v.7h-.7zM55.6 314.3h.7v.7h-.7zM56 318.4h.7v.7h-.7zM56.4 313.3h.7v.7h-.7zM57.5 313.1h.7v.7h-.7zM57.4 304.1h.7v.7h-.7zM57.6 307h.7v.7h-.7zM59.2 303.7h.7v.7h-.7zM59.7 308.9h.7v.7h-.7zM59 306.5h.7v.7h-.7zM59.7 301.4h.7v.7h-.7zM58.5 304.3h.7v.7h-.7zM60.9 306h.7v.7h-.7zM60.2 301.8h.7v.7h-.7zM61.4 303.7h.7v.7h-.7zM60.8 301.5h.7v.7h-.7zM60.4 304.9h.7v.7h-.7zM61.1 308.9h.7v.7h-.7zM59.8 303.3h.7v.7h-.7zM61.7 303.1h.7v.7h-.7zM64.3 308.1h.7v.7h-.7zM62.8 318.8h.7v.7h-.7zM62.7 315.5h.7v.7h-.7zM64.1 309.2h.7v.7h-.7zM64 321.5h.7v.7h-.7zM63.3 308.3h.7v.7h-.7zM64.6 319.3h.7v.7h-.7zM62.3 320.6h.7v.7h-.7zM65.5 314.7h.7v.7h-.7zM65 317.5h.7v.7h-.7zM65.5 315.1h.7v.7h-.7zM65.6 313.8h.7v.7h-.7zM65.1 311h.7v.7h-.7zM66.6 320.2h.7v.7h-.7zM65.1 316.9h.7v.7h-.7zM64.7 321.6h.7v.7h-.7zM69.4 308h.7v.7h-.7zM67.9 309.5h.7v.7h-.7zM69.5 313.6h.7v.7h-.7zM68.2 315.3h.7v.7h-.7zM69.5 308h.7v.7h-.7zM67.2 316.4h.7v.7h-.7zM68.4 316.4h.7v.7h-.7zM67.3 309h.7v.7h-.7zM69.2 315.5h.7v.7h-.7zM71.2 310.7h.7v.7h-.7zM70.6 312.1h.7v.7h-.7zM70.1 310.2h.7v.7h-.7zM70.4 308.4h.7v.7h-.7zM70.9 308.5h.7v.7h-.7zM71 308.1h.7v.7h-.7zM70.7 313.1h.7v.7h-.7zM73.5 321.1h.7v.7h-.7zM72 310.6h.7v.7h-.7zM73.6 315h.7v.7h-.7zM72 319.8h.7v.7h-.7zM73.4 321.8h.7v.7h-.7zM73.3 314.4h.7v.7h-.7zM73.9 308.5h.7v.7h-.7zM72.1 320.9h.7v.7h-.7zM76.3 322.6h.7v.7h-.7zM74.7 310.6h.7v.7h-.7zM74.6 316.3h.7v.7h-.7zM75 314.7h.7v.7h-.7zM73.9 312.3h.7v.7h-.7zM74.2 309.6h.7v.7h-.7zM75.4 309.7h.7v.7h-.7zM74.5 319h.7v.7h-.7zM77.5 338.7h.7v.7h-.7zM77.5 335.1h.7v.7h-.7zM77.9 335.6h.7v.7h-.7zM77.1 335.6h.7v.7h-.7zM77.9 342h.7v.7h-.7zM78.8 339.1h.7v.7h-.7zM78.9 340.5h.7v.7h-.7zM77.9 339.2h.7v.7h-.7zM80.6 339.3h.7v.7h-.7zM80 339.7h.7v.7h-.7zM78.8 338.2h.7v.7h-.7zM78.7 337.3h.7v.7h-.7zM79.2 339.8h.7v.7h-.7zM79.9 341.6h.7v.7h-.7zM79.1 337h.7v.7h-.7zM81.3 344h.7v.7h-.7zM82.4 346.3h.7v.7h-.7zM82.4 347.9h.7v.7h-.7zM82.4 344.7h.7v.7h-.7zM82 344.3h.7v.7h-.7zM82.2 347h.7v.7h-.7zM82.4 343h.7v.7h-.7zM83.5 348h.7v.7h-.7zM83.4 348.6h.7v.7h-.7zM84.6 349.3h.7v.7h-.7zM84.9 347.8h.7v.7h-.7zM85.4 348.3h.7v.7h-.7zM83.7 345.2h.7v.7h-.7zM83.8 348.2h.7v.7h-.7zM83.9 349.2h.7v.7h-.7zM86 348.8h.7v.7h-.7zM83.7 346.8h.7v.7h-.7zM87.5 303.7h.7v.7h-.7zM89 303.9h.7v.7h-.7zM87.2 303h.7v.7h-.7zM86.8 318.4h.7v.7h-.7zM86.6 304.2h.7v.7h-.7zM87.8 305.4h.7v.7h-.7zM86.9 319.8h.7v.7h-.7zM88.4 305.6h.7v.7h-.7zM88.9 310.6h.7v.7h-.7zM90.3 319.2h.7v.7h-.7zM89.7 321.9h.7v.7h-.7zM89.7 320.9h.7v.7h-.7zM88.5 319.5h.7v.7h-.7zM90.5 313.2h.7v.7h-.7zM90.9 317.2h.7v.7h-.7zM89.2 315.4h.7v.7h-.7zM91.4 295h.7v.7h-.7zM93.9 291.2h.7v.7h-.7zM92.1 294.5h.7v.7h-.7zM93.8 306h.7v.7h-.7zM92.9 295.8h.7v.7h-.7zM92.1 297.5h.7v.7h-.7zM91.3 307h.7v.7h-.7zM93.3 302.4h.7v.7h-.7zM94.3 302.3h.7v.7h-.7zM93.6 305.5h.7v.7h-.7zM94.1 300.3h.7v.7h-.7zM94.2 305.2h.7v.7h-.7zM95.5 305.6h.7v.7h-.7zM93.6 306.2h.7v.7h-.7zM95.2 307.3h.7v.7h-.7zM95 302.7h.7v.7h-.7zM97.4 314.9h.7v.7h-.7zM98.4 317.4h.7v.7h-.7zM97.1 317.2h.7v.7h-.7zM96.5 311.2h.7v.7h-.7zM98.5 318.6h.7v.7h-.7zM97.1 310.9h.7v.7h-.7zM97.5 316.2h.7v.7h-.7zM98.4 311.1h.7v.7h-.7zM99.7 311.9h.7v.7h-.7zM99.5 318.4h.7v.7h-.7zM99.2 315.3h.7v.7h-.7zM99.9 318.9h.7v.7h-.7zM99.1 312.8h.7v.7h-.7zM100.6 314.2h.7v.7h-.7zM98.5 317.2h.7v.7h-.7zM98.2 319.2h.7v.7h-.7zM103.6 339.9h.7v.7h-.7zM102 334.6h.7v.7h-.7zM103.5 337.9h.7v.7h-.7zM101.8 331.9h.7v.7h-.7zM102.9 333.4h.7v.7h-.7zM102.5 331.7h.7v.7h-.7zM102.8 335.4h.7v.7h-.7zM103.5 331.2h.7v.7h-.7zM105.2 340.4h.7v.7h-.7zM104.8 338.2h.7v.7h-.7zM104.2 332.4h.7v.7h-.7zM103.5 331.7h.7v.7h-.7zM104.1 331.6h.7v.7h-.7zM103.3 330.2h.7v.7h-.7zM104.6 337.9h.7v.7h-.7zM103.6 332.6h.7v.7h-.7zM107.4 336.8h.7v.7h-.7zM107.9 341.3h.7v.7h-.7zM107.8 341.3h.7v.7h-.7zM108.1 337.4h.7v.7h-.7zM106 343.1h.7v.7h-.7zM107.1 343.3h.7v.7h-.7zM106.1 335.8h.7v.7h-.7zM107.7 342h.7v.7h-.7zM110.1 337.3h.7v.7h-.7zM109 338.4h.7v.7h-.7zM109.5 338h.7v.7h-.7zM108.2 339.2h.7v.7h-.7zM108.2 340.5h.7v.7h-.7zM108.9 337.9h.7v.7h-.7zM109.9 342.7h.7v.7h-.7zM109.1 340.5h.7v.7h-.7zM111.7 326.8h.7v.7h-.7zM111.7 327.2h.7v.7h-.7zM111.8 331.8h.7v.7h-.7zM113 322.4h.7v.7h-.7zM110.8 329.8h.7v.7h-.7zM112.7 334.6h.7v.7h-.7zM112.4 326h.7v.7h-.7zM111.8 335.8h.7v.7h-.7zM114.2 322.8h.7v.7h-.7zM113.5 331.4h.7v.7h-.7zM115.1 322.4h.7v.7h-.7zM114.3 337.1h.7v.7h-.7zM113.9 334.2h.7v.7h-.7zM114.1 324.9h.7v.7h-.7zM114.2 320.4h.7v.7h-.7zM113.6 333.9h.7v.7h-.7zM115.8 317.7h.7v.7h-.7zM117.6 316.2h.7v.7h-.7zM116.4 315.6h.7v.7h-.7zM116.8 316.3h.7v.7h-.7zM118.2 315.5h.7v.7h-.7zM115.9 322.3h.7v.7h-.7zM117.1 315.7h.7v.7h-.7zM117.6 322.8h.7v.7h-.7zM117.7 323.2h.7v.7h-.7zM117.9 315.2h.7v.7h-.7zM119.4 314.9h.7v.7h-.7zM117.9 320.2h.7v.7h-.7zM118.1 316.1h.7v.7h-.7zM119.3 320h.7v.7h-.7zM118.5 323.1h.7v.7h-.7zM118.7 323.2h.7v.7h-.7zM122.9 323h.7v.7h-.7zM121.9 324.7h.7v.7h-.7zM120.5 325.8h.7v.7h-.7zM120.6 321h.7v.7h-.7zM122.2 323.1h.7v.7h-.7zM120.9 321.8h.7v.7h-.7zM122.5 316.8h.7v.7h-.7zM121.8 321.8h.7v.7h-.7zM124.1 326.6h.7v.7h-.7zM123.4 320h.7v.7h-.7zM124.8 319.5h.7v.7h-.7zM124.5 325.1h.7v.7h-.7zM125 325.4h.7v.7h-.7zM123.3 324h.7v.7h-.7zM123.1 324.7h.7v.7h-.7zM122.9 323.1h.7v.7h-.7zM126.9 303.4h.7v.7h-.7zM126.3 305.3h.7v.7h-.7zM126.9 316.5h.7v.7h-.7zM127.7 309.9h.7v.7h-.7zM125.6 315.5h.7v.7h-.7zM126.3 310.1h.7v.7h-.7zM127.5 303.8h.7v.7h-.7zM125.5 307.8h.7v.7h-.7zM128.4 316.6h.7v.7h-.7zM128.5 318h.7v.7h-.7zM129.3 305.4h.7v.7h-.7zM129.1 305.8h.7v.7h-.7zM129.9 304.4h.7v.7h-.7zM129.2 311.8h.7v.7h-.7zM129 305.6h.7v.7h-.7zM128 309.3h.7v.7h-.7zM130.3 289.6h.7v.7h-.7zM131.5 284.9h.7v.7h-.7zM132.1 287.7h.7v.7h-.7zM132.7 283.6h.7v.7h-.7zM130.6 281.8h.7v.7h-.7zM130.5 288.8h.7v.7h-.7zM131.5 281.9h.7v.7h-.7zM130.7 283.5h.7v.7h-.7zM133.8 288.6h.7v.7h-.7zM134.4 286h.7v.7h-.7zM132.4 285h.7v.7h-.7zM134.3 290.1h.7v.7h-.7zM134.1 287.6h.7v.7h-.7zM133.4 282.7h.7v.7h-.7zM134.7 289.1h.7v.7h-.7zM132.6 290.2h.7v.7h-.7zM136.3 336.5h.7v.7h-.7zM136.6 337.1h.7v.7h-.7zM136.4 324.1h.7v.7h-.7zM136 337.7h.7v.7h-.7zM135.3 327.9h.7v.7h-.7zM135.4 328.5h.7v.7h-.7zM136.4 337.6h.7v.7h-.7zM136 327h.7v.7h-.7zM138.8 337.6h.7v.7h-.7zM139.5 328.5h.7v.7h-.7zM138.5 332.7h.7v.7h-.7zM138.8 336.3h.7v.7h-.7zM138.6 328.5h.7v.7h-.7zM139.6 327.6h.7v.7h-.7zM139.6 326.7h.7v.7h-.7zM137.1 323.9h.7v.7h-.7zM140.3 335.9h.7v.7h-.7zM140.2 336.5h.7v.7h-.7zM141.5 335.3h.7v.7h-.7zM140.7 341.6h.7v.7h-.7zM140.2 345.7h.7v.7h-.7zM142.3 336.4h.7v.7h-.7zM141.3 341.9h.7v.7h-.7zM141.8 337.4h.7v.7h-.7zM143.3 344.7h.7v.7h-.7zM144.4 337.3h.7v.7h-.7zM143.7 338.4h.7v.7h-.7zM144.1 333.9h.7v.7h-.7zM142.2 346.1h.7v.7h-.7zM142.6 342.9h.7v.7h-.7zM142.9 335h.7v.7h-.7zM144.4 341.8h.7v.7h-.7zM146.3 336.3h.7v.7h-.7zM147.2 331.4h.7v.7h-.7zM145.2 330.1h.7v.7h-.7zM145.2 328.8h.7v.7h-.7zM146.9 334.5h.7v.7h-.7zM146.1 328.8h.7v.7h-.7zM146.3 334.3h.7v.7h-.7zM146.2 332.2h.7v.7h-.7zM147.4 337h.7v.7h-.7zM147.4 337.9h.7v.7h-.7zM148 328.2h.7v.7h-.7zM147.7 332.1h.7v.7h-.7zM147.4 337.1h.7v.7h-.7zM149 335.8h.7v.7h-.7zM148.1 333h.7v.7h-.7zM148.4 339.2h.7v.7h-.7zM150.9 343.1h.7v.7h-.7zM150.1 341.3h.7v.7h-.7zM152.1 336.3h.7v.7h-.7zM151 329.9h.7v.7h-.7zM151.2 346h.7v.7h-.7zM152.3 337.6h.7v.7h-.7zM151.6 342.2h.7v.7h-.7zM151.7 343.9h.7v.7h-.7zM152.8 341.2h.7v.7h-.7zM151.9 341.1h.7v.7h-.7zM151.7 345.8h.7v.7h-.7zM152.7 332.5h.7v.7h-.7zM151.9 332h.7v.7h-.7zM154.2 341.6h.7v.7h-.7zM152.3 334.7h.7v.7h-.7zM152.2 341.2h.7v.7h-.7zM157 324.4h.7v.7h-.7zM155.7 330.5h.7v.7h-.7zM156.1 324h.7v.7h-.7zM154.9 334.8h.7v.7h-.7zM155.7 324h.7v.7h-.7zM154.6 331.8h.7v.7h-.7zM157.1 325.6h.7v.7h-.7zM156.6 332.6h.7v.7h-.7zM157.2 335.9h.7v.7h-.7zM158.7 325.7h.7v.7h-.7zM158.7 328.8h.7v.7h-.7zM157.6 325.6h.7v.7h-.7zM156.9 325.8h.7v.7h-.7zM157.6 330.6h.7v.7h-.7zM158.9 326.5h.7v.7h-.7zM157.2 332.1h.7v.7h-.7zM160.3 311.5h.7v.7h-.7zM162 322.4h.7v.7h-.7zM161.8 315.1h.7v.7h-.7zM161.7 321.3h.7v.7h-.7zM161.9 318.7h.7v.7h-.7zM161.9 319.4h.7v.7h-.7zM159.9 318.4h.7v.7h-.7zM160.7 317.7h.7v.7h-.7zM161.9 320h.7v.7h-.7zM162.1 318.2h.7v.7h-.7zM163.2 321.3h.7v.7h-.7zM162.7 321.5h.7v.7h-.7zM163.8 314.5h.7v.7h-.7zM162.4 317.9h.7v.7h-.7zM162.4 315h.7v.7h-.7zM163.5 320.5h.7v.7h-.7zM166.2 330h.7v.7h-.7zM165.2 327.7h.7v.7h-.7zM165.7 324.5h.7v.7h-.7zM165.4 328.8h.7v.7h-.7zM165.9 330.1h.7v.7h-.7zM166.5 336.1h.7v.7h-.7zM166.4 328.4h.7v.7h-.7zM165.5 328.8h.7v.7h-.7zM167.4 336.1h.7v.7h-.7zM167.1 330.2h.7v.7h-.7zM166.7 337.6h.7v.7h-.7zM167 326.7h.7v.7h-.7zM168.5 336.9h.7v.7h-.7zM168.5 329h.7v.7h-.7zM167.4 336.5h.7v.7h-.7zM168.2 327.2h.7v.7h-.7zM169.6 314.9h.7v.7h-.7zM171.1 320h.7v.7h-.7zM170 311.2h.7v.7h-.7zM169.2 311.4h.7v.7h-.7zM169.7 319.1h.7v.7h-.7zM170.6 317.3h.7v.7h-.7zM169.4 312.8h.7v.7h-.7zM171.4 319h.7v.7h-.7zM171.7 311.6h.7v.7h-.7zM172.2 314.1h.7v.7h-.7zM173.5 314.8h.7v.7h-.7zM173.7 311.6h.7v.7h-.7zM173.3 313.2h.7v.7h-.7zM172.6 313.2h.7v.7h-.7zM171.2 315h.7v.7h-.7zM173.2 320.5h.7v.7h-.7zM175.6 319.2h.7v.7h-.7zM176.5 323.7h.7v.7h-.7zM176.5 319h.7v.7h-.7zM176 331.5h.7v.7h-.7zM176.5 328h.7v.7h-.7zM174.8 330h.7v.7h-.7zM175.8 329.9h.7v.7h-.7zM176.4 317.6h.7v.7h-.7zM176.3 324.9h.7v.7h-.7zM177.4 321.3h.7v.7h-.7zM177 320.2h.7v.7h-.7zM177.5 329.8h.7v.7h-.7zM176.7 325.4h.7v.7h-.7zM177.6 328.5h.7v.7h-.7zM178.2 327.8h.7v.7h-.7zM178.5 322.5h.7v.7h-.7zM181.5 296.4h.7v.7h-.7zM180.3 301.1h.7v.7h-.7zM179.6 305h.7v.7h-.7zM180.7 300.4h.7v.7h-.7zM181.3 300.3h.7v.7h-.7zM179 315.9h.7v.7h-.7zM181.2 305.4h.7v.7h-.7zM179.9 304h.7v.7h-.7zM181.3 298.2h.7v.7h-.7zM182.9 301.1h.7v.7h-.7zM182.7 308.7h.7v.7h-.7zM182.5 315.2h.7v.7h-.7zM181.6 317.6h.7v.7h-.7zM182.7 309.5h.7v.7h-.7zM181.1 314.3h.7v.7h-.7zM181.6 303.2h.7v.7h-.7zM184.9 327.9h.7v.7h-.7zM185.9 335.9h.7v.7h-.7zM184 331.7h.7v.7h-.7zM183.8 331.2h.7v.7h-.7zM186.3 335.4h.7v.7h-.7zM184.4 332.7h.7v.7h-.7zM184.2 334.2h.7v.7h-.7zM185.1 334h.7v.7h-.7zM187.1 332.5h.7v.7h-.7zM186.2 334.8h.7v.7h-.7zM186.6 335.2h.7v.7h-.7zM186.6 323.8h.7v.7h-.7zM185.9 324.3h.7v.7h-.7zM186 331.6h.7v.7h-.7zM186.5 325.5h.7v.7h-.7zM188.1 327.1h.7v.7h-.7zM190.1 324.2h.7v.7h-.7zM188.8 302.9h.7v.7h-.7zM189.4 309.1h.7v.7h-.7zM190.3 323.7h.7v.7h-.7zM190.2 313.4h.7v.7h-.7zM189.6 322.3h.7v.7h-.7zM189.6 314.7h.7v.7h-.7zM190.8 320.6h.7v.7h-.7zM191.5 324.2h.7v.7h-.7zM191.9 314.3h.7v.7h-.7zM192.5 303.6h.7v.7h-.7zM192.8 319.5h.7v.7h-.7zM191.1 310.9h.7v.7h-.7zM192.5 310.7h.7v.7h-.7zM191.6 317.6h.7v.7h-.7zM191 314.6h.7v.7h-.7z"/>
<path fill="none" stroke="#2a2a2a" stroke-width="1.7" stroke-opacity="0.88" stroke-linecap="round" d="M17.1 357.6L12.6 364.2M22 357.6L16.9 365.1M26.8 357.6L21.2 365.9M31.7 357.6L27.2 364.2M36.6 357.6L30.4 366.7M41.4 357.6L34.2 368.4M46.3 357.6L40.7 365.9M51.2 357.6L46.7 364.2M56 357.6L51 365.1M60.9 357.6L56.4 364.2M65.8 357.6L60.2 365.9M70.6 357.6L63.9 367.5M75.5 357.6L70.4 365.1M80.3 357.6L76.4 363.4M85.2 357.6L81.9 362.6M90.1 357.6L86.7 362.6M94.9 357.6L89.3 365.9M99.8 357.6L95.3 364.2M104.7 357.6L99.6 365.1M109.5 357.6L105.1 364.2M114.4 357.6L107.7 367.5M119.3 357.6L114.2 365.1M124.1 357.6L118.5 365.9M129 357.6L124.5 364.2M133.9 357.6L126.6 368.4M138.7 357.6L134.3 364.2M143.6 357.6L138 365.9M148.5 357.6L144.5 363.4M153.3 357.6L150 362.6M158.2 357.6L153.7 364.2M163.1 357.6L159.1 363.4M167.9 357.6L162.9 365.1M172.8 357.6L169.4 362.6M177.6 357.6L170.9 367.5M182.5 357.6L178 364.2M187.4 357.6L183.5 363.4M192.2 357.6L187.8 364.2"/>
<text x="20.97" y="275.8" font-size="2.2" fill="#777" text-anchor="middle" font-family="Liberation Sans, sans-serif">**</text>
<text x="30.7" y="275.8" font-size="2.2" fill="#777" text-anchor="middle" font-family="Liberation Sans, sans-serif">**</text>
<text x="50.16" y="275.8" font-size="2.2" fill="#777" text-anchor="middle" font-family="Liberation Sans, sans-serif">**</text>
<text x="69.62" y="275.8" font-size="2.2" fill="#777" text-anchor="middle" font-family="Liberation Sans, sans-serif">**</text>
<text x="74.48" y="275.8" font-size="2.2" fill="#777" text-anchor="middle" font-family="Liberation Sans, sans-serif">**</text>
<text x="79.34" y="275.8" font-size="2.2" fill="#777" text-anchor="middle" font-family="Liberation Sans, sans-serif">**</text>
<text x="84.21" y="275.8" font-size="2.2" fill="#777" text-anchor="middle" font-family="Liberation Sans, sans-serif">**</text>
<text x="108.53" y="275.8" font-size="2.2" fill="#777" text-anchor="middle" font-family="Liberation Sans, sans-serif">**</text>
<text x="128" y="275.8" font-size="2.2" fill="#777" text-anchor="middle" font-family="Liberation Sans, sans-serif">**</text>
<text x="152.32" y="275.8" font-size="2.2" fill="#777" text-anchor="middle" font-family="Liberation Sans, sans-serif">**</text>
<text x="162.05" y="275.8" font-size="2.2" fill="#777" text-anchor="middle" font-family="Liberation Sans, sans-serif">**</text>
<text x="176.65" y="275.8" font-size="2.2" fill="#777" text-anchor="middle" font-family="Liberation Sans, sans-serif">**</text>
<text x="181.51" y="275.8" font-size="2.2" fill="#777" text-anchor="middle" font-family="Liberation Sans, sans-serif">**</text>
<text x="186.38" y="275.8" font-size="2.2" fill="#777" text-anchor="middle" font-family="Liberation Sans, sans-serif">**</text>
<text x="206.3" y="269.3" font-size="8.3" font-weight="bold" fill="#111" font-family="Liberation Sans, sans-serif">F</text>
<text x="291.7" y="278.35" font-size="2.2" fill="#333" textLength="7.3" lengthAdjust="spacingAndGlyphs" font-family="Liberation Sans, sans-serif">Group</text>
<rect x="300.5" y="276.2" width="2.6" height="2.6" fill="#7a3432" stroke="#3a1a18" stroke-width="0.35"/>
<text x="304.5" y="278.35" font-size="2.2" fill="#444" textLength="6.5" lengthAdjust="spacingAndGlyphs" font-family="Liberation Sans, sans-serif">Control</text>
<rect x="312.6" y="276.2" width="2.6" height="2.6" fill="#3a6a70" stroke="#1a3438" stroke-width="0.35"/>
<text x="317" y="278.35" font-size="2.2" fill="#444" textLength="7" lengthAdjust="spacingAndGlyphs" font-family="Liberation Sans, sans-serif">NASH</text>
<line x1="216.5" y1="282" x2="216.5" y2="347.1" stroke="#999" stroke-width="0.5"/>
<line x1="216.5" y1="347.1" x2="397" y2="347.1" stroke="#aaa" stroke-width="0.5"/>
<line x1="215.5" y1="296.5" x2="216.5" y2="296.5" stroke="#888" stroke-width="0.4"/>
<text x="215.2" y="297.35" font-size="2.4" font-weight="bold" fill="#333" text-anchor="end" font-family="Liberation Sans, sans-serif">10.0</text>
<line x1="215.5" y1="314.2" x2="216.5" y2="314.2" stroke="#888" stroke-width="0.4"/>
<text x="215.2" y="315.05" font-size="2.4" font-weight="bold" fill="#333" text-anchor="end" font-family="Liberation Sans, sans-serif">7.5</text>
<line x1="215.5" y1="331.8" x2="216.5" y2="331.8" stroke="#888" stroke-width="0.4"/>
<text x="215.2" y="332.65" font-size="2.4" font-weight="bold" fill="#333" text-anchor="end" font-family="Liberation Sans, sans-serif">5.0</text>
<text transform="translate(209,315) rotate(-90)" font-size="2.5" font-weight="bold" fill="#333" text-anchor="middle" textLength="26" lengthAdjust="spacingAndGlyphs" font-family="Liberation Sans, sans-serif">Pyroptosis expression</text>
<line x1="219.1" y1="347.1" x2="219.1" y2="347.9" stroke="#999" stroke-width="0.3"/>
<line x1="224.02" y1="347.1" x2="224.02" y2="347.9" stroke="#999" stroke-width="0.3"/>
<line x1="228.94" y1="347.1" x2="228.94" y2="347.9" stroke="#999" stroke-width="0.3"/>
<line x1="233.86" y1="347.1" x2="233.86" y2="347.9" stroke="#999" stroke-width="0.3"/>
<line x1="238.78" y1="347.1" x2="238.78" y2="347.9" stroke="#999" stroke-width="0.3"/>
<line x1="243.7" y1="347.1" x2="243.7" y2="347.9" stroke="#999" stroke-width="0.3"/>
<line x1="248.62" y1="347.1" x2="248.62" y2="347.9" stroke="#999" stroke-width="0.3"/>
<line x1="253.54" y1="347.1" x2="253.54" y2="347.9" stroke="#999" stroke-width="0.3"/>
<line x1="258.46" y1="347.1" x2="258.46" y2="347.9" stroke="#999" stroke-width="0.3"/>
<line x1="263.38" y1="347.1" x2="263.38" y2="347.9" stroke="#999" stroke-width="0.3"/>
<line x1="268.3" y1="347.1" x2="268.3" y2="347.9" stroke="#999" stroke-width="0.3"/>
<line x1="273.22" y1="347.1" x2="273.22" y2="347.9" stroke="#999" stroke-width="0.3"/>
<line x1="278.14" y1="347.1" x2="278.14" y2="347.9" stroke="#999" stroke-width="0.3"/>
<line x1="283.06" y1="347.1" x2="283.06" y2="347.9" stroke="#999" stroke-width="0.3"/>
<line x1="287.98" y1="347.1" x2="287.98" y2="347.9" stroke="#999" stroke-width="0.3"/>
<line x1="292.9" y1="347.1" x2="292.9" y2="347.9" stroke="#999" stroke-width="0.3"/>
<line x1="297.82" y1="347.1" x2="297.82" y2="347.9" stroke="#999" stroke-width="0.3"/>
<line x1="302.74" y1="347.1" x2="302.74" y2="347.9" stroke="#999" stroke-width="0.3"/>
<line x1="307.66" y1="347.1" x2="307.66" y2="347.9" stroke="#999" stroke-width="0.3"/>
<line x1="312.58" y1="347.1" x2="312.58" y2="347.9" stroke="#999" stroke-width="0.3"/>
<line x1="317.5" y1="347.1" x2="317.5" y2="347.9" stroke="#999" stroke-width="0.3"/>
<line x1="322.42" y1="347.1" x2="322.42" y2="347.9" stroke="#999" stroke-width="0.3"/>
<line x1="327.34" y1="347.1" x2="327.34" y2="347.9" stroke="#999" stroke-width="0.3"/>
<line x1="332.26" y1="347.1" x2="332.26" y2="347.9" stroke="#999" stroke-width="0.3"/>
<line x1="337.18" y1="347.1" x2="337.18" y2="347.9" stroke="#999" stroke-width="0.3"/>
<line x1="342.1" y1="347.1" x2="342.1" y2="347.9" stroke="#999" stroke-width="0.3"/>
<line x1="347.02" y1="347.1" x2="347.02" y2="347.9" stroke="#999" stroke-width="0.3"/>
<line x1="351.94" y1="347.1" x2="351.94" y2="347.9" stroke="#999" stroke-width="0.3"/>
<line x1="356.86" y1="347.1" x2="356.86" y2="347.9" stroke="#999" stroke-width="0.3"/>
<line x1="361.78" y1="347.1" x2="361.78" y2="347.9" stroke="#999" stroke-width="0.3"/>
<line x1="366.7" y1="347.1" x2="366.7" y2="347.9" stroke="#999" stroke-width="0.3"/>
<line x1="371.62" y1="347.1" x2="371.62" y2="347.9" stroke="#999" stroke-width="0.3"/>
<line x1="376.54" y1="347.1" x2="376.54" y2="347.9" stroke="#999" stroke-width="0.3"/>
<line x1="381.46" y1="347.1" x2="381.46" y2="347.9" stroke="#999" stroke-width="0.3"/>
<line x1="386.38" y1="347.1" x2="386.38" y2="347.9" stroke="#999" stroke-width="0.3"/>
<line x1="391.3" y1="347.1" x2="391.3" y2="347.9" stroke="#999" stroke-width="0.3"/>
<line x1="396.22" y1="347.1" x2="396.22" y2="347.9" stroke="#999" stroke-width="0.3"/>
<path fill="none" stroke="#aaa" stroke-width="0.35" stroke-opacity="0.8" d="M218.22 318.2V330.8M219.97 318.5V331.1M223.14 304V320.4M224.89 306V322.7M228.06 305.2V321.3M229.81 305.5V321.6M232.98 298.3V314.1M234.73 298.6V314.4M237.91 322.7V332.1M239.66 323V332.4M242.82 289.6V302.4M244.57 289.9V302.7M247.75 302.7V315.5M249.5 303V315.8M252.66 291V307.1M254.41 291.3V307.4M257.58 311V323.8M259.33 311.3V324.1M262.5 307.1V316.8M264.25 307.4V317.1M267.43 311V323.8M269.18 311.3V324.1M272.34 301.8V317.6M274.09 302.1V317.9M277.26 305.2V321.3M279.01 305.5V321.6M282.19 329V345.1M283.94 329.3V345.4M287.11 339.2V345.3M288.86 339.5V345.6M292.02 300.3V329M293.77 300.6V329.3M296.94 294.9V313.9M298.69 295.2V314.2M301.87 309.8V322.6M303.62 310.1V322.9M306.78 325.2V338M308.53 325.5V338.3M311.7 332.5V342.6M313.45 332.8V342.9M316.62 322.8V336.2M318.38 323.1V336.5M321.54 311.8V328.5M323.29 312.1V328.8M326.46 316.3V326.3M328.21 316.6V326.6M331.38 310V320.1M333.13 310.3V320.4M336.31 286.5V299.9M338.06 286.8V300.2M341.23 322.8V336.2M342.98 323.1V336.5M346.14 332.5V342.6M347.89 332.8V342.9M351.06 325V335.1M352.81 325.3V335.4M355.99 323.3V343.4M357.74 323.6V343.7M360.9 321.5V334.9M362.65 321.8V335.2M365.82 312.8V326.2M367.57 313.1V326.5M370.75 320.5V337.3M372.5 320.8V337.6M375.66 310.3V323.7M377.41 310.6V324M380.58 320V330.1M382.33 320.3V330.4M385.5 299.5V319.6M387.25 299.8V319.9M390.42 323.8V333.8M392.17 324.1V334.1M395.35 298V331.5M397.1 298.3V331.8"/>
<path fill="#9a6662" stroke="#5a3a38" stroke-width="0.3" d="M217.35 322h1.75v4.7h-1.75zM222.27 308.9h1.75v6.1h-1.75zM227.19 310h1.75v6h-1.75zM232.11 303h1.75v5.9h-1.75zM237.03 325.5h1.75v3.5h-1.75zM241.95 293.4h1.75v4.8h-1.75zM246.87 306.5h1.75v4.8h-1.75zM251.79 295.8h1.75v6h-1.75zM256.71 314.8h1.75v4.8h-1.75zM261.63 310h1.75v3.6h-1.75zM266.55 314.8h1.75v4.8h-1.75zM271.47 306.5h1.75v5.9h-1.75zM276.39 310h1.75v6h-1.75zM281.31 333.8h1.75v6h-1.75zM286.23 341h1.75v2.3h-1.75zM291.15 308.9h1.75v10.7h-1.75zM296.07 300.6h1.75v7.1h-1.75zM300.99 313.6h1.75v4.8h-1.75zM305.91 329h1.75v4.8h-1.75zM310.83 335.5h1.75v3.8h-1.75zM315.75 326.8h1.75v5h-1.75zM320.67 316.8h1.75v6.2h-1.75zM325.59 319.3h1.75v3.7h-1.75zM330.51 313h1.75v3.8h-1.75zM335.43 290.5h1.75v5h-1.75zM340.35 326.8h1.75v5h-1.75zM345.27 335.5h1.75v3.8h-1.75zM350.19 328h1.75v3.8h-1.75zM355.11 329.3h1.75v7.5h-1.75zM360.03 325.5h1.75v5h-1.75zM364.95 316.8h1.75v5h-1.75zM369.87 325.5h1.75v6.3h-1.75zM374.79 314.3h1.75v5h-1.75zM379.71 323h1.75v3.8h-1.75zM384.63 305.5h1.75v7.5h-1.75zM389.55 326.8h1.75v3.7h-1.75z"/>
<path fill="#62898e" stroke="#3a5558" stroke-width="0.3" d="M219.1 322.3h1.75v4.7h-1.75zM224.02 311h1.75v6.2h-1.75zM228.94 310.3h1.75v6h-1.75zM233.86 303.3h1.75v5.9h-1.75zM238.78 325.8h1.75v3.5h-1.75zM243.7 293.7h1.75v4.8h-1.75zM248.62 306.8h1.75v4.8h-1.75zM253.54 296.1h1.75v6h-1.75zM258.46 315.1h1.75v4.8h-1.75zM263.38 310.3h1.75v3.6h-1.75zM268.3 315.1h1.75v4.8h-1.75zM273.22 306.8h1.75v5.9h-1.75zM278.14 310.3h1.75v6h-1.75zM283.06 334.1h1.75v6h-1.75zM287.98 341.3h1.75v2.3h-1.75zM292.9 309.2h1.75v10.7h-1.75zM297.82 300.9h1.75v7.1h-1.75zM302.74 313.9h1.75v4.8h-1.75zM307.66 329.3h1.75v4.8h-1.75zM312.58 335.8h1.75v3.8h-1.75zM317.5 327.1h1.75v5h-1.75zM322.42 317.1h1.75v6.2h-1.75zM327.34 319.6h1.75v3.7h-1.75zM332.26 313.3h1.75v3.8h-1.75zM337.18 290.8h1.75v5h-1.75zM342.1 327.1h1.75v5h-1.75zM347.02 335.8h1.75v3.8h-1.75zM351.94 328.3h1.75v3.8h-1.75zM356.86 329.6h1.75v7.5h-1.75zM361.78 325.8h1.75v5h-1.75zM366.7 317.1h1.75v5h-1.75zM371.62 325.8h1.75v6.3h-1.75zM376.54 314.6h1.75v5h-1.75zM381.46 323.3h1.75v3.8h-1.75zM386.38 305.8h1.75v7.5h-1.75zM391.3 327.1h1.75v3.7h-1.75z"/>
<path fill="#d2705e" stroke="#b05040" stroke-width="0.3" d="M394.47 308h1.75v12.5h-1.75z"/>
<path fill="#6fb0c4" stroke="#4a94a8" stroke-width="0.3" d="M396.22 308.3h1.75v12.5h-1.75z"/>
<path fill="none" stroke="#3a1412" stroke-width="0.5" d="M217.35 324.35h1.75M222.27 311.95h1.75M227.19 313h1.75M232.11 305.95h1.75M237.03 327.25h1.75M241.95 295.8h1.75M246.87 308.9h1.75M251.79 298.8h1.75M256.71 317.2h1.75M261.63 311.8h1.75M266.55 317.2h1.75M271.47 309.45h1.75M276.39 313h1.75M281.31 336.8h1.75M286.23 342.15h1.75M291.15 314.25h1.75M296.07 304.15h1.75M300.99 316h1.75M305.91 331.4h1.75M310.83 337.4h1.75M315.75 329.3h1.75M320.67 319.9h1.75M325.59 321.15h1.75M330.51 314.9h1.75M335.43 293h1.75M340.35 329.3h1.75M345.27 337.4h1.75M350.19 329.9h1.75M355.11 333.05h1.75M360.03 328h1.75M364.95 319.3h1.75M369.87 328.65h1.75M374.79 316.8h1.75M379.71 324.9h1.75M384.63 309.25h1.75M389.55 328.65h1.75M394.47 314.25h1.75"/>
<path fill="none" stroke="#163a3e" stroke-width="0.5" d="M219.1 324.65h1.75M224.02 314.1h1.75M228.94 313.3h1.75M233.86 306.25h1.75M238.78 327.55h1.75M243.7 296.1h1.75M248.62 309.2h1.75M253.54 299.1h1.75M258.46 317.5h1.75M263.38 312.1h1.75M268.3 317.5h1.75M273.22 309.75h1.75M278.14 313.3h1.75M283.06 337.1h1.75M287.98 342.45h1.75M292.9 314.55h1.75M297.82 304.45h1.75M302.74 316.3h1.75M307.66 331.7h1.75M312.58 337.7h1.75M317.5 329.6h1.75M322.42 320.2h1.75M327.34 321.45h1.75M332.26 315.2h1.75M337.18 293.3h1.75M342.1 329.6h1.75M347.02 337.7h1.75M351.94 330.2h1.75M356.86 333.35h1.75M361.78 328.3h1.75M366.7 319.6h1.75M371.62 328.95h1.75M376.54 317.1h1.75M381.46 325.2h1.75M386.38 309.55h1.75M391.3 328.95h1.75M396.22 314.55h1.75"/>
<path fill="#333" fill-opacity="0.75" d="M218 316.3h.8v.8h-.8zM217.5 315.6h.8v.8h-.8zM219.5 332.8h.8v.8h-.8zM222.2 302.6h.8v.8h-.8zM223.2 303.4h.8v.8h-.8zM222.4 320.3h.8v.8h-.8zM224.2 322.9h.8v.8h-.8zM227.6 321.8h.8v.8h-.8zM227.6 322.1h.8v.8h-.8zM230 322.3h.8v.8h-.8zM232.3 295.9h.8v.8h-.8zM232.1 297.3h.8v.8h-.8zM234.5 314.6h.8v.8h-.8zM234.7 315.2h.8v.8h-.8zM237.8 334h.8v.8h-.8zM237.4 319.5h.8v.8h-.8zM237.3 334.1h.8v.8h-.8zM239.4 333.9h.8v.8h-.8zM242.4 303.1h.8v.8h-.8zM242.1 304.2h.8v.8h-.8zM243 288.9h.8v.8h-.8zM244.1 287.4h.8v.8h-.8zM247 302.2h.8v.8h-.8zM247.7 301.5h.8v.8h-.8zM249.7 317.1h.8v.8h-.8zM249 300.4h.8v.8h-.8zM252.7 288.2h.8v.8h-.8zM252.4 288h.8v.8h-.8zM254 308h.8v.8h-.8zM254.2 307.7h.8v.8h-.8zM257.3 310.6h.8v.8h-.8zM257.1 308.1h.8v.8h-.8zM258.6 309.7h.8v.8h-.8zM262.1 304h.8v.8h-.8zM261.6 305h.8v.8h-.8zM261.6 319h.8v.8h-.8zM264 305.3h.8v.8h-.8zM266.7 309.4h.8v.8h-.8zM266.6 324.6h.8v.8h-.8zM268.9 308.3h.8v.8h-.8zM268.8 308.2h.8v.8h-.8zM269.1 310.4h.8v.8h-.8zM271.5 299.2h.8v.8h-.8zM272.2 301h.8v.8h-.8zM272.3 298.4h.8v.8h-.8zM274.1 299.1h.8v.8h-.8zM276.6 321.4h.8v.8h-.8zM276.8 303.7h.8v.8h-.8zM278.5 323.2h.8v.8h-.8zM281.7 326.7h.8v.8h-.8zM282 325.7h.8v.8h-.8zM281.6 327.6h.8v.8h-.8zM283.3 345.2h.8v.8h-.8zM283 345.2h.8v.8h-.8zM286.5 345.2h.8v.8h-.8zM288.8 345.2h.8v.8h-.8zM288.7 345.2h.8v.8h-.8zM292 330h.8v.8h-.8zM291.7 299.9h.8v.8h-.8zM293.7 331.2h.8v.8h-.8zM293.4 331.5h.8v.8h-.8zM296.9 316.2h.8v.8h-.8zM296.3 316.3h.8v.8h-.8zM296.2 294.4h.8v.8h-.8zM298.1 315.2h.8v.8h-.8zM301.3 324.3h.8v.8h-.8zM301.7 307.9h.8v.8h-.8zM303.6 325.3h.8v.8h-.8zM303.8 307.3h.8v.8h-.8zM306.9 339.2h.8v.8h-.8zM306.1 340h.8v.8h-.8zM306 322.8h.8v.8h-.8zM308.2 338h.8v.8h-.8zM308.4 322.9h.8v.8h-.8zM310.9 342.7h.8v.8h-.8zM312.5 330.3h.8v.8h-.8zM316.5 321.8h.8v.8h-.8zM316.4 336.2h.8v.8h-.8zM318.5 336.9h.8v.8h-.8zM317.8 320h.8v.8h-.8zM317.4 337.9h.8v.8h-.8zM320.7 330.6h.8v.8h-.8zM321.6 331h.8v.8h-.8zM322.4 329h.8v.8h-.8zM323.5 330.9h.8v.8h-.8zM326 327.6h.8v.8h-.8zM325.7 326.7h.8v.8h-.8zM328.2 327.3h.8v.8h-.8zM327.8 328.9h.8v.8h-.8zM331.2 308.9h.8v.8h-.8zM331.1 309.2h.8v.8h-.8zM333 309.2h.8v.8h-.8zM332.5 322.6h.8v.8h-.8zM335.9 299.6h.8v.8h-.8zM337.8 300.3h.8v.8h-.8zM340.9 321.7h.8v.8h-.8zM342.4 322.5h.8v.8h-.8zM343 337.6h.8v.8h-.8zM346.2 343.9h.8v.8h-.8zM345.3 330.7h.8v.8h-.8zM348 332.3h.8v.8h-.8zM347.6 344.6h.8v.8h-.8zM347.3 331.7h.8v.8h-.8zM350.1 334.8h.8v.8h-.8zM350.5 335h.8v.8h-.8zM353 324h.8v.8h-.8zM352.3 322.5h.8v.8h-.8zM356 320.5h.8v.8h-.8zM355.3 322.3h.8v.8h-.8zM357.9 345.2h.8v.8h-.8zM360.4 336.8h.8v.8h-.8zM360 335.3h.8v.8h-.8zM362.5 335.8h.8v.8h-.8zM361.8 320.9h.8v.8h-.8zM365.5 311.5h.8v.8h-.8zM365.1 325.9h.8v.8h-.8zM367.4 312.1h.8v.8h-.8zM366.7 327.8h.8v.8h-.8zM367.6 328.1h.8v.8h-.8zM370.3 339h.8v.8h-.8zM370 318.5h.8v.8h-.8zM372.6 338.3h.8v.8h-.8zM371.7 339.1h.8v.8h-.8zM374.8 325.5h.8v.8h-.8zM377.4 326h.8v.8h-.8zM376.7 309.6h.8v.8h-.8zM376.9 308.4h.8v.8h-.8zM380.1 332.3h.8v.8h-.8zM379.8 332.7h.8v.8h-.8zM382.2 318.3h.8v.8h-.8zM385.1 298.7h.8v.8h-.8zM386.8 298h.8v.8h-.8zM390.1 333.7h.8v.8h-.8zM390.2 320.8h.8v.8h-.8zM390.2 322.3h.8v.8h-.8zM391.7 321.4h.8v.8h-.8zM391.4 334.1h.8v.8h-.8zM391.8 322.7h.8v.8h-.8zM395 331.8h.8v.8h-.8zM396.4 332.7h.8v.8h-.8zM396.6 332.9h.8v.8h-.8zM397.1 332.3h.8v.8h-.8z"/>
<path fill="#222" fill-opacity="0.5" d="M216.9 322.7h.7v.7h-.7zM218.1 322.2h.7v.7h-.7zM217.4 326.9h.7v.7h-.7zM218.8 326.6h.7v.7h-.7zM218.6 322.3h.7v.7h-.7zM218 320.9h.7v.7h-.7zM218.9 324.5h.7v.7h-.7zM217 325.7h.7v.7h-.7zM220.8 325.8h.7v.7h-.7zM218.6 321.7h.7v.7h-.7zM219.6 323.6h.7v.7h-.7zM218.9 321.3h.7v.7h-.7zM219.3 327.4h.7v.7h-.7zM218.8 321.3h.7v.7h-.7zM218.8 325h.7v.7h-.7zM219.7 324.1h.7v.7h-.7zM222.3 314.7h.7v.7h-.7zM222.1 314.1h.7v.7h-.7zM223.2 312.4h.7v.7h-.7zM222.7 310.2h.7v.7h-.7zM223.2 306.8h.7v.7h-.7zM221.9 313.7h.7v.7h-.7zM223.4 312.2h.7v.7h-.7zM223.7 307.2h.7v.7h-.7zM224.5 309.1h.7v.7h-.7zM224 311h.7v.7h-.7zM224.2 313.3h.7v.7h-.7zM225.1 317h.7v.7h-.7zM223.8 309.4h.7v.7h-.7zM224.1 308.3h.7v.7h-.7zM225.1 309.4h.7v.7h-.7zM225.8 316.9h.7v.7h-.7zM228.5 313.9h.7v.7h-.7zM228.2 315.3h.7v.7h-.7zM227.8 313.6h.7v.7h-.7zM227.1 315.4h.7v.7h-.7zM228.8 316.2h.7v.7h-.7zM227 316.1h.7v.7h-.7zM227 307.8h.7v.7h-.7zM228.8 317.5h.7v.7h-.7zM229.8 307.7h.7v.7h-.7zM230.4 314.4h.7v.7h-.7zM228.5 312.6h.7v.7h-.7zM230 310.8h.7v.7h-.7zM228.7 315.4h.7v.7h-.7zM229.9 314.5h.7v.7h-.7zM228.2 314.7h.7v.7h-.7zM229 312.3h.7v.7h-.7zM231.5 308.1h.7v.7h-.7zM231.4 310.2h.7v.7h-.7zM232.3 308h.7v.7h-.7zM232.4 302.2h.7v.7h-.7zM232.4 305.6h.7v.7h-.7zM232.7 301.6h.7v.7h-.7zM233.8 303.5h.7v.7h-.7zM232.5 304.4h.7v.7h-.7zM234.8 306.8h.7v.7h-.7zM235.5 303.4h.7v.7h-.7zM234.1 302.2h.7v.7h-.7zM234 307.1h.7v.7h-.7zM233.5 307h.7v.7h-.7zM233.8 302.2h.7v.7h-.7zM233.4 309.5h.7v.7h-.7zM233.3 300.8h.7v.7h-.7zM236.5 328.8h.7v.7h-.7zM237.6 323.9h.7v.7h-.7zM238.4 327.8h.7v.7h-.7zM237.8 327.2h.7v.7h-.7zM237 324.2h.7v.7h-.7zM237.4 329.9h.7v.7h-.7zM237.1 327.4h.7v.7h-.7zM237.7 329.8h.7v.7h-.7zM238.3 329.5h.7v.7h-.7zM239.8 324.5h.7v.7h-.7zM239.9 327.8h.7v.7h-.7zM239.3 325.8h.7v.7h-.7zM239.1 325.2h.7v.7h-.7zM239.5 325.8h.7v.7h-.7zM238.7 325.9h.7v.7h-.7zM238.2 328.1h.7v.7h-.7zM241.8 299.3h.7v.7h-.7zM242.8 298.2h.7v.7h-.7zM243.8 292.9h.7v.7h-.7zM243.3 296.7h.7v.7h-.7zM241.4 296h.7v.7h-.7zM241.6 298.6h.7v.7h-.7zM242.8 293.4h.7v.7h-.7zM242.4 292.8h.7v.7h-.7zM244.7 297h.7v.7h-.7zM243.4 291.8h.7v.7h-.7zM243.9 299.7h.7v.7h-.7zM243.9 295.1h.7v.7h-.7zM244.9 297.4h.7v.7h-.7zM244 297h.7v.7h-.7zM244.3 296.4h.7v.7h-.7zM245.4 293.1h.7v.7h-.7zM246.8 311.8h.7v.7h-.7zM247.3 311h.7v.7h-.7zM247.1 306.9h.7v.7h-.7zM248.3 311.1h.7v.7h-.7zM247.8 311.5h.7v.7h-.7zM246.5 305.7h.7v.7h-.7zM246.6 309.1h.7v.7h-.7zM246.4 307.1h.7v.7h-.7zM249 304.6h.7v.7h-.7zM247.9 307.8h.7v.7h-.7zM248.8 312h.7v.7h-.7zM250.3 304.5h.7v.7h-.7zM248.5 306.5h.7v.7h-.7zM248.1 304.7h.7v.7h-.7zM249.4 310.7h.7v.7h-.7zM248.5 308.9h.7v.7h-.7zM253.3 299.4h.7v.7h-.7zM251.4 298.3h.7v.7h-.7zM253.3 297.4h.7v.7h-.7zM251.9 298h.7v.7h-.7zM251.2 294.8h.7v.7h-.7zM253.1 303.7h.7v.7h-.7zM251.9 300.2h.7v.7h-.7zM251.5 297.7h.7v.7h-.7zM254.8 303.5h.7v.7h-.7zM254 298.2h.7v.7h-.7zM253.6 301.6h.7v.7h-.7zM254.4 294.5h.7v.7h-.7zM253.4 302.1h.7v.7h-.7zM255.1 300.7h.7v.7h-.7zM253.1 294.7h.7v.7h-.7zM253.6 298.7h.7v.7h-.7zM256 313.1h.7v.7h-.7zM257.9 320.2h.7v.7h-.7zM256.2 316.9h.7v.7h-.7zM256.3 314.5h.7v.7h-.7zM257 313h.7v.7h-.7zM257.6 315.5h.7v.7h-.7zM256.1 316.1h.7v.7h-.7zM256 320.2h.7v.7h-.7zM257.8 321.4h.7v.7h-.7zM259.9 320.1h.7v.7h-.7zM259 320.2h.7v.7h-.7zM258.7 317.1h.7v.7h-.7zM258.7 313.7h.7v.7h-.7zM260.2 315.6h.7v.7h-.7zM258.7 318.3h.7v.7h-.7zM259 321.1h.7v.7h-.7zM262.6 313.9h.7v.7h-.7zM263.2 310h.7v.7h-.7zM263.2 313.6h.7v.7h-.7zM262.4 309.8h.7v.7h-.7zM261.6 310.7h.7v.7h-.7zM262.5 313.1h.7v.7h-.7zM262.3 310.4h.7v.7h-.7zM262.3 314.2h.7v.7h-.7zM264.3 311.6h.7v.7h-.7zM264.4 312h.7v.7h-.7zM262.6 314.6h.7v.7h-.7zM264.9 310.6h.7v.7h-.7zM264.7 308.9h.7v.7h-.7zM264.3 308.7h.7v.7h-.7zM263.2 313.7h.7v.7h-.7zM263.2 311h.7v.7h-.7zM268 316.4h.7v.7h-.7zM266.5 320.8h.7v.7h-.7zM267.1 315.7h.7v.7h-.7zM265.9 319.4h.7v.7h-.7zM268 313.6h.7v.7h-.7zM267.9 312.5h.7v.7h-.7zM267.7 318.4h.7v.7h-.7zM266 315.4h.7v.7h-.7zM267.5 314.8h.7v.7h-.7zM269.7 320.3h.7v.7h-.7zM269.5 313.7h.7v.7h-.7zM269.2 319.5h.7v.7h-.7zM270.1 320h.7v.7h-.7zM269.7 315.7h.7v.7h-.7zM268.3 320.8h.7v.7h-.7zM269.3 318.7h.7v.7h-.7zM271.5 311.9h.7v.7h-.7zM271.4 304.8h.7v.7h-.7zM271.9 312h.7v.7h-.7zM271.1 312.4h.7v.7h-.7zM271.6 304.9h.7v.7h-.7zM271.1 313.1h.7v.7h-.7zM272.7 304.6h.7v.7h-.7zM272.4 304.8h.7v.7h-.7zM273.6 308.4h.7v.7h-.7zM273.3 304.4h.7v.7h-.7zM274.5 306.7h.7v.7h-.7zM274.5 311.7h.7v.7h-.7zM274.3 309.7h.7v.7h-.7zM273.4 305.4h.7v.7h-.7zM273.2 307.2h.7v.7h-.7zM273 311.9h.7v.7h-.7zM277.9 313.4h.7v.7h-.7zM276.3 310h.7v.7h-.7zM276.9 308.4h.7v.7h-.7zM276 315.5h.7v.7h-.7zM278.2 311.9h.7v.7h-.7zM276.6 312.4h.7v.7h-.7zM277.9 316.3h.7v.7h-.7zM275.9 311.3h.7v.7h-.7zM278.2 308.9h.7v.7h-.7zM278.1 316.5h.7v.7h-.7zM279.4 317h.7v.7h-.7zM279 313.9h.7v.7h-.7zM277.8 314.3h.7v.7h-.7zM278.7 310.3h.7v.7h-.7zM279.2 307.7h.7v.7h-.7zM278.1 316.2h.7v.7h-.7zM281.5 333.2h.7v.7h-.7zM282.3 338.2h.7v.7h-.7zM281.7 336h.7v.7h-.7zM281.1 335.3h.7v.7h-.7zM280.8 334.4h.7v.7h-.7zM282.5 339.1h.7v.7h-.7zM282.3 341.2h.7v.7h-.7zM282.2 337.2h.7v.7h-.7zM283.6 336.7h.7v.7h-.7zM284.4 338.5h.7v.7h-.7zM283.1 332h.7v.7h-.7zM282.8 332.2h.7v.7h-.7zM283.1 336.7h.7v.7h-.7zM283.3 341.1h.7v.7h-.7zM284.2 332.2h.7v.7h-.7zM282.8 333.2h.7v.7h-.7zM286.3 340.3h.7v.7h-.7zM285.8 341.5h.7v.7h-.7zM286.3 340.1h.7v.7h-.7zM286.5 343.3h.7v.7h-.7zM286.4 342.7h.7v.7h-.7zM286.1 343.8h.7v.7h-.7zM285.9 341.7h.7v.7h-.7zM287.9 342.9h.7v.7h-.7zM288.9 342.2h.7v.7h-.7zM288.1 340.4h.7v.7h-.7zM289.4 341h.7v.7h-.7zM288.4 340.1h.7v.7h-.7zM289.2 343.6h.7v.7h-.7zM288 343h.7v.7h-.7zM289 341h.7v.7h-.7zM289.1 341.3h.7v.7h-.7zM291.9 318.8h.7v.7h-.7zM292 317.6h.7v.7h-.7zM291.7 316.7h.7v.7h-.7zM292.1 312.7h.7v.7h-.7zM290.9 315.8h.7v.7h-.7zM291.6 323.2h.7v.7h-.7zM291.2 321.4h.7v.7h-.7zM292.2 319.2h.7v.7h-.7zM294 316.1h.7v.7h-.7zM292.9 308.4h.7v.7h-.7zM292.4 311.2h.7v.7h-.7zM294 311.3h.7v.7h-.7zM292.6 315.7h.7v.7h-.7zM292.4 318.7h.7v.7h-.7zM292.5 319h.7v.7h-.7zM292.8 306.4h.7v.7h-.7zM297.3 300.3h.7v.7h-.7zM296 307.6h.7v.7h-.7zM297.2 301.8h.7v.7h-.7zM296 305.7h.7v.7h-.7zM297.8 304h.7v.7h-.7zM296.2 299.2h.7v.7h-.7zM296.2 305.6h.7v.7h-.7zM296.4 303.9h.7v.7h-.7zM299.2 304.3h.7v.7h-.7zM298.1 298.3h.7v.7h-.7zM297.7 305.7h.7v.7h-.7zM298.3 300h.7v.7h-.7zM297.7 309.4h.7v.7h-.7zM298.8 301h.7v.7h-.7zM297.7 300.7h.7v.7h-.7zM297.6 300.9h.7v.7h-.7zM301.6 313.3h.7v.7h-.7zM300.3 315.4h.7v.7h-.7zM300.4 314.3h.7v.7h-.7zM301.5 314.3h.7v.7h-.7zM302.5 315.8h.7v.7h-.7zM301.9 319.6h.7v.7h-.7zM300.6 315.8h.7v.7h-.7zM301 314.6h.7v.7h-.7zM302.5 319.3h.7v.7h-.7zM304.4 316.3h.7v.7h-.7zM304.2 312.6h.7v.7h-.7zM303.9 318.3h.7v.7h-.7zM302.2 316.8h.7v.7h-.7zM302.2 319.9h.7v.7h-.7zM303.8 318.4h.7v.7h-.7zM303.7 314.4h.7v.7h-.7zM305.7 328.3h.7v.7h-.7zM306.6 329.7h.7v.7h-.7zM307 328.4h.7v.7h-.7zM306.9 327.3h.7v.7h-.7zM307.3 331.3h.7v.7h-.7zM305.5 327.1h.7v.7h-.7zM306.4 331.3h.7v.7h-.7zM306.9 334.9h.7v.7h-.7zM307.3 328.8h.7v.7h-.7zM308.6 334.8h.7v.7h-.7zM307.2 332.1h.7v.7h-.7zM309.3 330.6h.7v.7h-.7zM308 327.1h.7v.7h-.7zM309.5 327.5h.7v.7h-.7zM309.4 327.9h.7v.7h-.7zM308.8 334.3h.7v.7h-.7zM311.1 338.9h.7v.7h-.7zM311.4 339.6h.7v.7h-.7zM310.8 340h.7v.7h-.7zM310.4 334.2h.7v.7h-.7zM311 340h.7v.7h-.7zM312.3 334.3h.7v.7h-.7zM310.5 337.3h.7v.7h-.7zM310.4 337.2h.7v.7h-.7zM312 335.2h.7v.7h-.7zM314.1 337.2h.7v.7h-.7zM314.1 338.4h.7v.7h-.7zM312.9 335.4h.7v.7h-.7zM313.5 339.1h.7v.7h-.7zM313.6 334.9h.7v.7h-.7zM313 337.1h.7v.7h-.7zM313.2 334.2h.7v.7h-.7zM316.3 331.5h.7v.7h-.7zM317.4 329.5h.7v.7h-.7zM316.7 330.3h.7v.7h-.7zM316.3 329.7h.7v.7h-.7zM316.5 331.3h.7v.7h-.7zM316.1 325.6h.7v.7h-.7zM316.1 328.2h.7v.7h-.7zM315.9 329.5h.7v.7h-.7zM317.1 329.8h.7v.7h-.7zM318.6 325.2h.7v.7h-.7zM318.5 332.6h.7v.7h-.7zM319.1 332.9h.7v.7h-.7zM318.5 326.9h.7v.7h-.7zM318.9 328.8h.7v.7h-.7zM319.1 332.6h.7v.7h-.7zM317 328.7h.7v.7h-.7zM321 324.8h.7v.7h-.7zM321.8 316.4h.7v.7h-.7zM321.4 318.9h.7v.7h-.7zM322.3 322.8h.7v.7h-.7zM320.2 322.5h.7v.7h-.7zM319.9 321.7h.7v.7h-.7zM321.2 318.5h.7v.7h-.7zM322.5 322h.7v.7h-.7zM321.8 322.4h.7v.7h-.7zM321.7 324h.7v.7h-.7zM324.1 317.1h.7v.7h-.7zM322.9 316.2h.7v.7h-.7zM322.8 323.7h.7v.7h-.7zM322.2 317.9h.7v.7h-.7zM323 323.9h.7v.7h-.7zM324.2 315.9h.7v.7h-.7zM326.3 321.5h.7v.7h-.7zM327.1 320.4h.7v.7h-.7zM325.3 322.3h.7v.7h-.7zM325.6 322.9h.7v.7h-.7zM327.4 323.2h.7v.7h-.7zM325.8 318.5h.7v.7h-.7zM327 317.8h.7v.7h-.7zM325.3 321.8h.7v.7h-.7zM326.9 321.7h.7v.7h-.7zM329.1 322.1h.7v.7h-.7zM327.3 322.9h.7v.7h-.7zM328.5 322.3h.7v.7h-.7zM329.1 319h.7v.7h-.7zM326.8 318.4h.7v.7h-.7zM327.9 319.7h.7v.7h-.7zM329.1 321.8h.7v.7h-.7zM331.2 311.3h.7v.7h-.7zM329.9 317.1h.7v.7h-.7zM332 315.4h.7v.7h-.7zM331 312.4h.7v.7h-.7zM331.8 314.9h.7v.7h-.7zM331.9 314.2h.7v.7h-.7zM332.3 313.2h.7v.7h-.7zM330.8 316.4h.7v.7h-.7zM331.7 313.3h.7v.7h-.7zM331.6 318.2h.7v.7h-.7zM332.4 315.6h.7v.7h-.7zM332.6 312.7h.7v.7h-.7zM332.1 317.8h.7v.7h-.7zM333.1 312.6h.7v.7h-.7zM332.8 315.9h.7v.7h-.7zM333.8 312.7h.7v.7h-.7zM336.1 292.4h.7v.7h-.7zM337 294.7h.7v.7h-.7zM334.8 292.4h.7v.7h-.7zM334.7 295.6h.7v.7h-.7zM335 291h.7v.7h-.7zM336.7 293.6h.7v.7h-.7zM335.4 289.3h.7v.7h-.7zM336.4 295.8h.7v.7h-.7zM337.2 293.3h.7v.7h-.7zM337.6 290h.7v.7h-.7zM336.9 292.5h.7v.7h-.7zM336.8 291.2h.7v.7h-.7zM337 291.4h.7v.7h-.7zM338.5 291.8h.7v.7h-.7zM338 293.2h.7v.7h-.7zM338.3 292.6h.7v.7h-.7zM340 329.9h.7v.7h-.7zM341.8 327.4h.7v.7h-.7zM339.8 324.6h.7v.7h-.7zM342 326.1h.7v.7h-.7zM342 328.2h.7v.7h-.7zM339.7 326.8h.7v.7h-.7zM340.3 331.2h.7v.7h-.7zM340.5 325.6h.7v.7h-.7zM343.1 327.9h.7v.7h-.7zM343.6 328.4h.7v.7h-.7zM342.8 331.6h.7v.7h-.7zM342 328h.7v.7h-.7zM343.4 332.7h.7v.7h-.7zM341.5 327.5h.7v.7h-.7zM343.8 326.5h.7v.7h-.7zM343.4 325.1h.7v.7h-.7zM346.2 334.6h.7v.7h-.7zM346.6 338h.7v.7h-.7zM346.9 338.4h.7v.7h-.7zM344.5 334h.7v.7h-.7zM346.5 335.3h.7v.7h-.7zM345.9 334.7h.7v.7h-.7zM344.9 338.9h.7v.7h-.7zM346.8 337.2h.7v.7h-.7zM348 340h.7v.7h-.7zM347.7 337h.7v.7h-.7zM347.6 339.4h.7v.7h-.7zM346.3 340.5h.7v.7h-.7zM348.1 340.1h.7v.7h-.7zM348.5 337.3h.7v.7h-.7zM347.1 334.9h.7v.7h-.7zM348.4 338.8h.7v.7h-.7zM350.6 327.9h.7v.7h-.7zM351.8 326.7h.7v.7h-.7zM350.9 331.9h.7v.7h-.7zM350.2 329.2h.7v.7h-.7zM350.3 330.3h.7v.7h-.7zM351.9 332.8h.7v.7h-.7zM351.6 331.1h.7v.7h-.7zM349.7 326.6h.7v.7h-.7zM351.2 328.4h.7v.7h-.7zM353.6 329.3h.7v.7h-.7zM352.2 331.8h.7v.7h-.7zM353.1 331.4h.7v.7h-.7zM352.8 330.4h.7v.7h-.7zM352.3 327.6h.7v.7h-.7zM352.2 332.3h.7v.7h-.7zM353.6 327.1h.7v.7h-.7zM355.9 330.9h.7v.7h-.7zM355.2 334.1h.7v.7h-.7zM356.7 333.8h.7v.7h-.7zM356.3 331.2h.7v.7h-.7zM356.6 338.7h.7v.7h-.7zM356.2 330.4h.7v.7h-.7zM354.7 337h.7v.7h-.7zM354.4 336.6h.7v.7h-.7zM356.4 338.9h.7v.7h-.7zM358.7 331.3h.7v.7h-.7zM358.6 333.5h.7v.7h-.7zM356.2 329.7h.7v.7h-.7zM356.8 339h.7v.7h-.7zM357 333.8h.7v.7h-.7zM358.5 334h.7v.7h-.7zM358.4 339h.7v.7h-.7zM360.7 323.7h.7v.7h-.7zM360.4 327.9h.7v.7h-.7zM360.1 328.5h.7v.7h-.7zM359.9 327.9h.7v.7h-.7zM361.7 324h.7v.7h-.7zM361.3 329.8h.7v.7h-.7zM360.4 330.8h.7v.7h-.7zM359.7 325.3h.7v.7h-.7zM362.4 332.3h.7v.7h-.7zM361.2 331.2h.7v.7h-.7zM363.2 330.6h.7v.7h-.7zM362.1 326.5h.7v.7h-.7zM361.8 331.1h.7v.7h-.7zM362.8 325.2h.7v.7h-.7zM362.4 330.9h.7v.7h-.7zM362.2 324.6h.7v.7h-.7zM364.5 316.6h.7v.7h-.7zM366.6 318.5h.7v.7h-.7zM364.8 320.2h.7v.7h-.7zM364.4 316.5h.7v.7h-.7zM364.5 319.7h.7v.7h-.7zM366.8 318.4h.7v.7h-.7zM366.2 322.9h.7v.7h-.7zM364.6 318.7h.7v.7h-.7zM367.7 315.5h.7v.7h-.7zM368.5 318.5h.7v.7h-.7zM366.3 318.1h.7v.7h-.7zM367.2 322.5h.7v.7h-.7zM366.7 323.1h.7v.7h-.7zM367.5 315.6h.7v.7h-.7zM366.3 322.8h.7v.7h-.7zM367.5 318.1h.7v.7h-.7zM371.7 326.5h.7v.7h-.7zM369.9 323.4h.7v.7h-.7zM371 328h.7v.7h-.7zM371.5 329.8h.7v.7h-.7zM369.1 330.2h.7v.7h-.7zM369.2 323.4h.7v.7h-.7zM369.2 327.5h.7v.7h-.7zM370.7 328.6h.7v.7h-.7zM373.3 333.2h.7v.7h-.7zM372.8 333.8h.7v.7h-.7zM371 332.5h.7v.7h-.7zM370.9 330.5h.7v.7h-.7zM373.3 331h.7v.7h-.7zM373.3 323.2h.7v.7h-.7zM373 334h.7v.7h-.7zM371.8 331.4h.7v.7h-.7zM376.2 312.3h.7v.7h-.7zM375.7 318h.7v.7h-.7zM374.7 314.8h.7v.7h-.7zM375.4 320.2h.7v.7h-.7zM374.9 312.1h.7v.7h-.7zM374.2 315.1h.7v.7h-.7zM376.4 320.8h.7v.7h-.7zM374 319.3h.7v.7h-.7zM377.5 314.2h.7v.7h-.7zM377.6 317.7h.7v.7h-.7zM377.6 316.9h.7v.7h-.7zM377.2 321h.7v.7h-.7zM377.1 313.7h.7v.7h-.7zM377.4 318h.7v.7h-.7zM376.2 312.3h.7v.7h-.7zM376.2 314.3h.7v.7h-.7zM379 323.2h.7v.7h-.7zM381.5 322.5h.7v.7h-.7zM380.1 322.5h.7v.7h-.7zM379.5 327.5h.7v.7h-.7zM379.8 321.4h.7v.7h-.7zM379.5 323.8h.7v.7h-.7zM379.9 327.5h.7v.7h-.7zM379.2 321.8h.7v.7h-.7zM381.2 325.6h.7v.7h-.7zM382.8 326.4h.7v.7h-.7zM381.3 325.7h.7v.7h-.7zM381.7 325.3h.7v.7h-.7zM381.1 323.3h.7v.7h-.7zM382.3 327.3h.7v.7h-.7zM381.1 327.8h.7v.7h-.7zM382 323.2h.7v.7h-.7zM385.4 314.4h.7v.7h-.7zM385.4 310.8h.7v.7h-.7zM384.8 312.8h.7v.7h-.7zM386.4 302.2h.7v.7h-.7zM384.2 312.8h.7v.7h-.7zM384.4 303.7h.7v.7h-.7zM384.2 311h.7v.7h-.7zM385.1 302.4h.7v.7h-.7zM387.4 313.4h.7v.7h-.7zM386 314h.7v.7h-.7zM386.5 306h.7v.7h-.7zM386.9 304.4h.7v.7h-.7zM387.2 306.6h.7v.7h-.7zM387.3 311.4h.7v.7h-.7zM386.8 303.5h.7v.7h-.7zM387.8 311.3h.7v.7h-.7zM390.3 326.3h.7v.7h-.7zM389.5 330.6h.7v.7h-.7zM389.1 330.9h.7v.7h-.7zM389.1 327.9h.7v.7h-.7zM391.3 328.7h.7v.7h-.7zM391.3 331.2h.7v.7h-.7zM389.3 326.8h.7v.7h-.7zM389.1 327.7h.7v.7h-.7zM391.1 331.6h.7v.7h-.7zM391.5 326.5h.7v.7h-.7zM392.3 328.4h.7v.7h-.7zM392.2 327.4h.7v.7h-.7zM390.7 331.8h.7v.7h-.7zM390.6 331.5h.7v.7h-.7zM392 329.8h.7v.7h-.7zM392.5 331.7h.7v.7h-.7zM396.2 310.3h.7v.7h-.7zM394.8 311.6h.7v.7h-.7zM395.9 314.8h.7v.7h-.7zM395.7 324.9h.7v.7h-.7zM395.6 314.8h.7v.7h-.7zM396.2 317h.7v.7h-.7zM395.7 324.5h.7v.7h-.7zM395.2 307.5h.7v.7h-.7zM397.2 308.9h.7v.7h-.7zM397.9 314.1h.7v.7h-.7zM396.4 313h.7v.7h-.7zM396.7 303.5h.7v.7h-.7zM396.2 314.9h.7v.7h-.7zM396.7 305.3h.7v.7h-.7zM395.9 304.5h.7v.7h-.7zM396.4 312.9h.7v.7h-.7z"/>
<path fill="none" stroke="#2a2a2a" stroke-width="1.6" stroke-opacity="0.88" stroke-linecap="round" d="M220.1 349.4L216.5 354.7M225 349.4L221 355.4M229.9 349.4L225.5 356M234.9 349.4L231.3 354.7M239.8 349.4L234.9 356.7M244.7 349.4L238.9 358M249.6 349.4L245.1 356M254.5 349.4L251 354.7M259.5 349.4L255.4 355.4M264.4 349.4L260.8 354.7M269.3 349.4L264.8 356M274.2 349.4L268.9 357.4M279.1 349.4L275.1 355.4M284.1 349.4L280.9 354M289 349.4L286.3 353.4M293.9 349.4L291.2 353.4M298.8 349.4L294.3 356M303.7 349.4L300.2 354.7M308.7 349.4L304.6 355.4M313.6 349.4L310 354.7M318.5 349.4L313.1 357.4M323.4 349.4L319.4 355.4M328.3 349.4L323.9 356M333.3 349.4L329.7 354.7M338.2 349.4L332.4 358M343.1 349.4L339.5 354.7M348 349.4L343.5 356M352.9 349.4L349.8 354M357.9 349.4L355.2 353.4M362.8 349.4L359.2 354.7M367.7 349.4L364.6 354M372.6 349.4L368.6 355.4M377.5 349.4L374.9 353.4M382.5 349.4L377.1 357.4M387.4 349.4L383.8 354.7M392.3 349.4L389.2 354M397.2 349.4L393.6 354.7"/>
<text x="219.1" y="285.5" font-size="2.2" fill="#777" text-anchor="middle" font-family="Liberation Sans, sans-serif">**</text>
<text x="228.94" y="285.5" font-size="2.2" fill="#777" text-anchor="middle" font-family="Liberation Sans, sans-serif">**</text>
<text x="238.78" y="285.5" font-size="2.2" fill="#777" text-anchor="middle" font-family="Liberation Sans, sans-serif">**</text>
<text x="248.62" y="285.5" font-size="2.2" fill="#777" text-anchor="middle" font-family="Liberation Sans, sans-serif">**</text>
<text x="258.46" y="285.5" font-size="2.2" fill="#777" text-anchor="middle" font-family="Liberation Sans, sans-serif">**</text>
<text x="292.9" y="285.5" font-size="2.2" fill="#777" text-anchor="middle" font-family="Liberation Sans, sans-serif">**</text>
<text x="327.34" y="285.5" font-size="2.2" fill="#777" text-anchor="middle" font-family="Liberation Sans, sans-serif">**</text>
<text x="337.18" y="285.5" font-size="2.2" fill="#777" text-anchor="middle" font-family="Liberation Sans, sans-serif">**</text>
<text x="347.02" y="285.5" font-size="2.2" fill="#777" text-anchor="middle" font-family="Liberation Sans, sans-serif">**</text>
<text x="386.38" y="285.5" font-size="2.2" fill="#777" text-anchor="middle" font-family="Liberation Sans, sans-serif">**</text>
<text x="396.22" y="285.5" font-size="2.2" fill="#777" text-anchor="middle" font-family="Liberation Sans, sans-serif">**</text></g>
</svg></body></html>
